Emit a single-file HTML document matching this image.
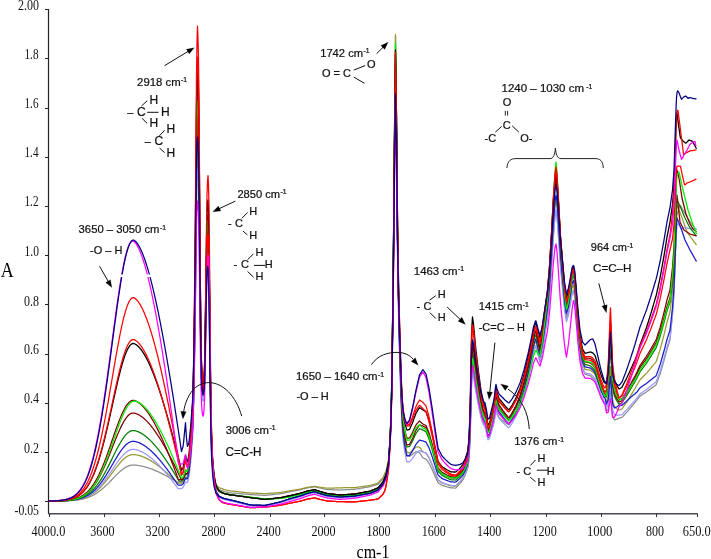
<!DOCTYPE html>
<html><head><meta charset="utf-8"><title>FTIR spectra</title>
<style>html,body{margin:0;padding:0;background:#fff;}svg{display:block;}</style></head>
<body><svg width="711" height="559" viewBox="0 0 711 559">
<rect width="711" height="559" fill="#fff"/>
<g id="curves">
<polyline points="49.0,501.0 49.5,501.0 50.0,501.0 50.5,501.0 51.0,501.0 51.5,501.0 52.0,501.0 52.5,501.0 53.0,501.0 53.5,501.0 54.0,501.0 54.5,501.0 55.0,501.0 55.5,501.0 56.0,501.0 56.5,501.0 57.0,501.0 57.5,500.9 58.0,500.9 58.5,500.9 59.0,500.9 59.5,500.9 60.0,500.9 60.5,500.9 61.0,500.9 61.5,500.9 62.0,500.9 62.5,500.9 63.0,500.9 63.5,500.9 64.0,500.8 64.5,500.8 65.0,500.8 65.5,500.8 66.0,500.8 66.5,500.8 67.0,500.8 67.5,500.7 68.0,500.7 68.5,500.7 69.0,500.7 69.5,500.6 70.0,500.6 70.5,500.6 71.0,500.6 71.5,500.5 72.0,500.5 72.5,500.5 73.0,500.4 73.5,500.4 74.0,500.3 74.5,500.3 75.0,500.2 75.5,500.2 76.0,500.1 76.5,500.1 77.0,500.0 77.5,499.9 78.0,499.9 78.5,499.8 79.0,499.7 79.5,499.6 80.0,499.6 80.5,499.5 81.0,499.4 81.5,499.3 82.0,499.2 82.5,499.1 83.0,499.0 83.5,498.8 84.0,498.7 84.5,498.6 85.0,498.4 85.5,498.3 86.0,498.2 86.5,498.0 87.0,497.8 87.5,497.7 88.0,497.5 88.5,497.3 89.0,497.1 89.5,496.9 90.0,496.7 90.5,496.5 91.0,496.3 91.5,496.0 92.0,495.8 92.5,495.5 93.0,495.3 93.5,495.0 94.0,494.8 94.5,494.5 95.0,494.2 95.5,493.9 96.0,493.6 96.5,493.2 97.0,492.9 97.5,492.6 98.0,492.2 98.5,491.9 99.0,491.5 99.5,491.1 100.0,490.8 100.5,490.4 101.0,490.0 101.5,489.6 102.0,489.1 102.5,488.7 103.0,488.3 103.5,487.8 104.0,487.4 104.5,486.9 105.0,486.5 105.5,486.0 106.0,485.5 106.5,485.1 107.0,484.6 107.5,484.1 108.0,483.6 108.5,483.1 109.0,482.6 109.5,482.1 110.0,481.5 110.5,481.0 111.0,480.5 111.5,480.0 112.0,479.5 112.5,479.0 113.0,478.4 113.5,477.9 114.0,477.4 114.5,476.9 115.0,476.4 115.5,475.9 116.0,475.4 116.5,474.9 117.0,474.4 117.5,473.9 118.0,473.4 118.5,472.9 119.0,472.4 119.5,472.0 120.0,471.5 120.5,471.1 121.0,470.7 121.5,470.3 122.0,469.9 122.5,469.5 123.0,469.1 123.5,468.7 124.0,468.4 124.5,468.0 125.0,467.7 125.5,467.4 126.0,467.1 126.5,466.8 127.0,466.6 127.5,466.3 128.0,466.1 128.5,465.9 129.0,465.7 129.5,465.6 130.0,465.4 130.5,465.3 131.0,465.2 131.5,465.1 132.0,465.1 132.5,465.0 133.0,465.0 133.5,465.0 134.0,465.0 134.5,465.0 135.0,465.1 135.5,465.1 136.0,465.2 136.5,465.2 137.0,465.3 137.5,465.3 138.0,465.4 138.5,465.5 139.0,465.6 139.5,465.7 140.0,465.8 140.5,465.9 141.0,466.0 141.5,466.1 142.0,466.2 142.5,466.3 143.0,466.4 143.5,466.5 144.0,466.7 144.5,466.8 145.0,466.9 145.5,467.1 146.0,467.2 146.5,467.4 147.0,467.5 147.5,467.7 148.0,467.8 148.5,468.0 149.0,468.1 149.5,468.3 150.0,468.5 150.5,468.7 151.0,468.9 151.5,469.0 152.0,469.2 152.5,469.4 153.0,469.6 153.5,469.8 154.0,470.0 154.5,470.2 155.0,470.4 155.5,470.6 156.0,470.9 156.5,471.1 157.0,471.3 157.5,471.5 158.0,471.7 158.5,472.0 159.0,472.2 159.5,472.4 160.0,472.7 160.5,472.9 161.0,473.2 161.5,473.4 162.0,473.7 162.5,473.9 163.0,474.2 163.5,474.4 164.0,474.7 164.5,474.9 165.0,475.2 165.5,475.5 166.0,475.7 166.5,476.0 167.0,476.3 167.5,476.5 168.0,476.8 168.5,477.1 169.0,477.4 169.5,477.6 170.0,477.9 170.5,478.2 171.0,478.5 171.5,478.8 172.0,479.1 172.5,479.4 173.0,479.6 173.5,479.9 174.0,480.2 174.5,480.5 175.0,480.8 175.5,481.1 176.0,481.4 176.5,481.7 177.0,482.0 177.5,482.0 178.0,482.0 178.5,482.0 179.0,482.0 179.5,482.0 180.0,482.0 180.5,482.0 181.0,482.0 181.5,482.0 182.0,481.9 182.5,481.7 183.0,481.6 183.5,481.0 184.0,480.2 184.5,479.4 185.0,478.7 185.5,478.0 186.0,477.5 186.5,477.4 187.0,476.8 187.5,476.2 188.0,474.2 188.5,471.9 189.0,469.4 189.5,465.5 190.0,461.3 190.5,456.9 191.0,451.2 191.5,445.0 192.0,438.5 192.5,431.6 193.0,421.0 193.5,404.5 194.0,383.3 194.5,355.1 195.0,321.2 195.5,283.1 196.0,239.1 196.5,194.5 197.0,168.9 197.5,154.0 198.0,158.5 198.5,167.9 199.0,199.6 199.5,243.5 200.0,290.3 200.5,333.2 201.0,361.7 201.5,381.9 202.0,389.9 202.5,395.4 203.0,397.0 203.5,396.2 204.0,391.7 204.5,383.8 205.0,361.9 205.5,336.9 206.0,307.2 206.5,281.4 207.0,260.9 207.5,253.0 208.0,255.7 208.5,269.4 209.0,291.3 209.5,330.3 210.0,368.8 210.5,406.7 211.0,430.0 211.5,449.3 212.0,458.4 212.5,467.4 213.0,472.3 213.5,476.2 214.0,480.0 214.5,481.6 215.0,483.2 215.5,484.8 216.0,486.4 216.5,486.9 217.0,487.5 217.5,488.0 218.0,488.5 218.5,489.1 219.0,489.6 219.5,489.8 220.0,490.0 220.5,490.1 221.0,490.3 221.5,490.5 222.0,490.7 222.5,490.9 223.0,491.1 223.5,491.3 224.0,491.5 224.5,491.6 225.0,491.7 225.5,491.8 226.0,492.0 226.5,492.1 227.0,492.2 227.5,492.3 228.0,492.4 228.5,492.5 229.0,492.6 229.5,492.8 230.0,492.9 230.5,492.9 231.0,492.9 231.5,492.9 232.0,493.0 232.5,493.0 233.0,493.0 233.5,493.1 234.0,493.1 234.5,493.1 235.0,493.1 235.5,493.2 236.0,493.2 236.5,493.3 237.0,493.3 237.5,493.4 238.0,493.4 238.5,493.5 239.0,493.5 239.5,493.6 240.0,493.6 240.5,493.6 241.0,493.7 241.5,493.7 242.0,493.8 242.5,493.8 243.0,493.9 243.5,493.9 244.0,494.0 244.5,494.0 245.0,494.0 245.5,494.1 246.0,494.1 246.5,494.2 247.0,494.2 247.5,494.3 248.0,494.3 248.5,494.4 249.0,494.4 249.5,494.5 250.0,494.5 250.5,494.5 251.0,494.6 251.5,494.6 252.0,494.6 252.5,494.6 253.0,494.7 253.5,494.7 254.0,494.7 254.5,494.8 255.0,494.8 255.5,494.8 256.0,494.9 256.5,494.9 257.0,494.9 257.5,494.9 258.0,495.0 258.5,495.0 259.0,495.0 259.5,495.1 260.0,495.1 260.5,495.1 261.0,495.2 261.5,495.2 262.0,495.2 262.5,495.2 263.0,495.3 263.5,495.3 264.0,495.3 264.5,495.4 265.0,495.4 265.5,495.3 266.0,495.3 266.5,495.2 267.0,495.2 267.5,495.1 268.0,495.1 268.5,495.0 269.0,495.0 269.5,494.9 270.0,494.9 270.5,494.8 271.0,494.8 271.5,494.7 272.0,494.7 272.5,494.6 273.0,494.5 273.5,494.5 274.0,494.4 274.5,494.4 275.0,494.3 275.5,494.3 276.0,494.2 276.5,494.2 277.0,494.1 277.5,494.1 278.0,494.0 278.5,494.0 279.0,493.9 279.5,493.9 280.0,493.8 280.5,493.7 281.0,493.6 281.5,493.5 282.0,493.4 282.5,493.3 283.0,493.2 283.5,493.1 284.0,493.0 284.5,492.9 285.0,492.8 285.5,492.6 286.0,492.5 286.5,492.4 287.0,492.3 287.5,492.2 288.0,492.1 288.5,492.0 289.0,491.9 289.5,491.8 290.0,491.7 290.5,491.6 291.0,491.5 291.5,491.4 292.0,491.3 292.5,491.2 293.0,491.1 293.5,491.0 294.0,491.0 294.5,490.9 295.0,490.8 295.5,490.7 296.0,490.6 296.5,490.5 297.0,490.4 297.5,490.3 298.0,490.2 298.5,490.1 299.0,490.0 299.5,489.9 300.0,489.8 300.5,489.7 301.0,489.6 301.5,489.4 302.0,489.3 302.5,489.1 303.0,489.0 303.5,488.9 304.0,488.7 304.5,488.6 305.0,488.5 305.5,488.3 306.0,488.2 306.5,488.1 307.0,487.9 307.5,487.8 308.0,487.8 308.5,487.7 309.0,487.6 309.5,487.5 310.0,487.4 310.5,487.4 311.0,487.3 311.5,487.2 312.0,487.1 312.5,487.0 313.0,487.0 313.5,486.9 314.0,486.8 314.5,486.7 315.0,486.8 315.5,486.9 316.0,487.1 316.5,487.2 317.0,487.3 317.5,487.4 318.0,487.5 318.5,487.7 319.0,487.8 319.5,487.9 320.0,488.0 320.5,488.1 321.0,488.2 321.5,488.4 322.0,488.5 322.5,488.6 323.0,488.7 323.5,488.8 324.0,488.9 324.5,489.0 325.0,489.1 325.5,489.2 326.0,489.3 326.5,489.4 327.0,489.5 327.5,489.5 328.0,489.5 328.5,489.6 329.0,489.6 329.5,489.6 330.0,489.6 330.5,489.6 331.0,489.7 331.5,489.7 332.0,489.7 332.5,489.7 333.0,489.7 333.5,489.8 334.0,489.8 334.5,489.8 335.0,489.8 335.5,489.8 336.0,489.8 336.5,489.9 337.0,489.9 337.5,489.9 338.0,489.9 338.5,489.9 339.0,490.0 339.5,490.0 340.0,490.0 340.5,490.0 341.0,489.9 341.5,489.9 342.0,489.9 342.5,489.9 343.0,489.9 343.5,489.8 344.0,489.8 344.5,489.8 345.0,489.8 345.5,489.7 346.0,489.7 346.5,489.7 347.0,489.7 347.5,489.6 348.0,489.6 348.5,489.6 349.0,489.5 349.5,489.5 350.0,489.5 350.5,489.5 351.0,489.4 351.5,489.4 352.0,489.4 352.5,489.4 353.0,489.3 353.5,489.3 354.0,489.3 354.5,489.3 355.0,489.2 355.5,489.2 356.0,489.1 356.5,489.0 357.0,488.9 357.5,488.8 358.0,488.7 358.5,488.7 359.0,488.6 359.5,488.5 360.0,488.4 360.5,488.3 361.0,488.2 361.5,488.1 362.0,488.1 362.5,488.0 363.0,487.9 363.5,487.8 364.0,487.7 364.5,487.6 365.0,487.6 365.5,487.5 366.0,487.4 366.5,487.3 367.0,487.2 367.5,487.1 368.0,487.0 368.5,487.0 369.0,486.9 369.5,486.8 370.0,486.7 370.5,486.6 371.0,486.4 371.5,486.2 372.0,486.1 372.5,485.9 373.0,485.8 373.5,485.7 374.0,485.5 374.5,485.3 375.0,485.2 375.5,485.1 376.0,484.9 376.5,484.8 377.0,484.6 377.5,484.4 378.0,484.3 378.5,483.8 379.0,483.2 379.5,482.6 380.0,482.1 380.5,481.6 381.0,481.0 381.5,480.4 382.0,479.9 382.5,479.4 383.0,478.8 383.5,477.7 384.0,476.6 384.5,475.4 385.0,474.3 385.5,473.4 386.0,472.4 386.5,470.1 387.0,467.8 387.5,465.5 388.0,463.2 388.5,460.8 389.0,453.6 389.5,446.3 390.0,438.9 390.5,427.8 391.0,411.0 391.5,394.1 392.0,362.5 392.5,326.6 393.0,284.8 393.5,238.9 394.0,185.7 394.5,127.3 395.0,80.4 395.5,36.0 396.0,77.2 396.5,117.0 397.0,173.6 397.5,228.1 398.0,262.2 398.5,295.1 399.0,318.4 399.5,338.7 400.0,357.7 400.5,374.9 401.0,390.6 401.5,404.3 402.0,415.3 402.5,422.8 403.0,430.0 403.5,434.3 404.0,438.4 404.5,442.3 405.0,445.2 405.5,448.0 406.0,450.7 406.5,453.4 407.0,455.1 407.5,455.3 408.0,455.6 408.5,455.8 409.0,456.1 409.5,456.4 410.0,456.0 410.5,455.6 411.0,455.3 411.5,454.9 412.0,454.7 412.5,454.4 413.0,453.9 413.5,453.5 414.0,453.1 414.5,452.7 415.0,452.4 415.5,452.1 416.0,451.9 416.5,451.9 417.0,451.9 417.5,452.0 418.0,452.1 418.5,452.2 419.0,452.4 419.5,452.6 420.0,453.4 420.5,454.1 421.0,454.9 421.5,455.7 422.0,456.5 422.5,457.3 423.0,458.0 423.5,458.2 424.0,458.3 424.5,458.5 425.0,458.7 425.5,458.8 426.0,459.0 426.5,459.7 427.0,460.4 427.5,461.1 428.0,461.8 428.5,462.5 429.0,463.2 429.5,464.2 430.0,465.2 430.5,466.2 431.0,467.2 431.5,468.2 432.0,469.3 432.5,470.4 433.0,471.5 433.5,472.7 434.0,473.8 434.5,474.9 435.0,476.1 435.5,477.2 436.0,478.3 436.5,479.4 437.0,480.5 437.5,481.6 438.0,482.7 438.5,483.0 439.0,483.4 439.5,483.7 440.0,484.0 440.5,484.3 441.0,484.6 441.5,485.0 442.0,485.3 442.5,485.4 443.0,485.6 443.5,485.7 444.0,485.9 444.5,486.1 445.0,486.2 445.5,486.4 446.0,486.5 446.5,486.7 447.0,486.8 447.5,487.0 448.0,487.1 448.5,487.2 449.0,487.3 449.5,487.5 450.0,487.6 450.5,487.7 451.0,487.9 451.5,487.9 452.0,487.9 452.5,487.9 453.0,487.9 453.5,487.9 454.0,488.0 454.5,488.0 455.0,488.0 455.5,488.0 456.0,487.8 456.5,487.3 457.0,486.8 457.5,486.2 458.0,485.7 458.5,485.2 459.0,484.6 459.5,484.1 460.0,483.6 460.5,482.9 461.0,482.3 461.5,481.6 462.0,481.0 462.5,480.3 463.0,479.6 463.5,478.6 464.0,477.6 464.5,476.6 465.0,475.5 465.5,474.4 466.0,473.1 466.5,471.7 467.0,470.3 467.5,468.9 468.0,465.9 468.5,462.9 469.0,457.2 469.5,449.8 470.0,439.7 470.5,423.8 471.0,404.1 471.5,385.6 472.0,376.6 472.5,370.0 473.0,372.1 473.5,374.1 474.0,377.3 474.5,380.7 475.0,384.1 475.5,387.4 476.0,390.2 476.5,393.0 477.0,395.7 477.5,398.5 478.0,401.2 478.5,403.6 479.0,406.0 479.5,408.5 480.0,410.9 480.5,413.3 481.0,415.7 481.5,417.2 482.0,418.7 482.5,420.2 483.0,421.7 483.5,422.9 484.0,423.5 484.5,424.1 485.0,424.6 485.5,426.6 486.0,428.5 486.5,430.5 487.0,433.2 487.5,435.9 488.0,437.9 488.5,437.6 489.0,437.2 489.5,436.8 490.0,435.2 490.5,433.7 491.0,432.1 491.5,430.5 492.0,428.8 492.5,427.2 493.0,425.6 493.5,423.5 494.0,421.4 494.5,419.2 495.0,415.3 495.5,412.1 496.0,410.0 496.5,411.8 497.0,413.6 497.5,414.6 498.0,415.6 498.5,416.6 499.0,417.6 499.5,418.0 500.0,418.4 500.5,418.8 501.0,419.2 501.5,419.6 502.0,420.0 502.5,420.4 503.0,420.8 503.5,421.2 504.0,421.6 504.5,422.0 505.0,422.4 505.5,422.8 506.0,423.1 506.5,423.4 507.0,423.8 507.5,424.1 508.0,424.5 508.5,424.8 509.0,424.7 509.5,424.1 510.0,423.4 510.5,422.7 511.0,422.1 511.5,421.4 512.0,420.7 512.5,419.9 513.0,419.0 513.5,418.2 514.0,417.3 514.5,416.4 515.0,415.6 515.5,414.7 516.0,413.8 516.5,412.8 517.0,411.7 517.5,410.6 518.0,409.5 518.5,408.4 519.0,407.3 519.5,406.3 520.0,405.2 520.5,403.6 521.0,402.1 521.5,400.6 522.0,399.1 522.5,397.6 523.0,396.0 523.5,394.5 524.0,392.9 524.5,391.1 525.0,389.2 525.5,387.4 526.0,385.5 526.5,383.6 527.0,381.7 527.5,379.8 528.0,377.9 528.5,375.7 529.0,373.5 529.5,371.3 530.0,369.1 530.5,366.9 531.0,364.7 531.5,362.2 532.0,359.7 532.5,357.3 533.0,354.8 533.5,352.3 534.0,350.7 534.5,349.1 535.0,347.5 535.5,346.0 536.0,345.9 536.5,348.1 537.0,350.3 537.5,352.4 538.0,354.4 538.5,356.3 539.0,358.2 539.5,360.1 540.0,362.0 540.5,359.8 541.0,357.5 541.5,355.2 542.0,352.9 542.5,350.7 543.0,347.3 543.5,343.9 544.0,340.6 544.5,337.2 545.0,333.7 545.5,330.5 546.0,327.2 546.5,323.9 547.0,320.6 547.5,317.3 548.0,311.9 548.5,306.5 549.0,301.1 549.5,295.7 550.0,288.4 550.5,281.1 551.0,273.8 551.5,266.4 552.0,258.3 552.5,250.1 553.0,241.9 553.5,234.5 554.0,228.4 554.5,222.3 555.0,216.1 555.5,213.1 556.0,210.0 556.5,212.9 557.0,215.7 557.5,222.4 558.0,229.0 558.5,235.6 559.0,243.0 559.5,250.3 560.0,257.6 560.5,264.9 561.0,270.1 561.5,275.2 562.0,280.4 562.5,285.5 563.0,290.7 563.5,295.8 564.0,300.9 564.5,306.0 565.0,309.2 565.5,312.3 566.0,315.5 566.5,317.7 567.0,316.3 567.5,314.9 568.0,313.5 568.5,312.1 569.0,309.5 569.5,306.9 570.0,304.3 570.5,301.7 571.0,298.9 571.5,296.0 572.0,293.2 572.5,292.0 573.0,290.9 573.5,290.5 574.0,293.2 574.5,295.9 575.0,300.8 575.5,306.3 576.0,311.8 576.5,318.0 577.0,324.2 577.5,330.3 578.0,336.4 578.5,341.3 579.0,346.3 579.5,351.2 580.0,356.0 580.5,358.6 581.0,361.2 581.5,363.8 582.0,366.4 582.5,369.0 583.0,370.0 583.5,371.1 584.0,372.1 584.5,373.2 585.0,374.2 585.5,374.3 586.0,374.5 586.5,374.6 587.0,374.8 587.5,374.9 588.0,375.1 588.5,375.2 589.0,375.4 589.5,375.6 590.0,375.8 590.5,375.9 591.0,376.4 591.5,376.8 592.0,377.3 592.5,377.7 593.0,378.2 593.5,378.8 594.0,379.3 594.5,379.9 595.0,380.4 595.5,381.7 596.0,383.1 596.5,384.4 597.0,385.8 597.5,387.1 598.0,388.5 598.5,389.9 599.0,391.2 599.5,392.6 600.0,394.1 600.5,395.5 601.0,396.9 601.5,397.9 602.0,399.0 602.5,400.0 603.0,401.1 603.5,402.2 604.0,403.2 604.5,403.6 605.0,404.0 605.5,406.4 606.0,408.9 606.5,411.3 607.0,410.5 607.5,409.9 608.0,409.3 608.5,407.0 609.0,402.1 609.5,397.5 610.0,393.2 610.5,391.2 611.0,397.0 611.5,403.0 612.0,409.0 612.5,415.1 613.0,417.0 613.5,417.9 614.0,418.9 614.5,419.8 615.0,419.7 615.5,419.6 616.0,419.4 616.5,419.3 617.0,419.2 617.5,418.9 618.0,418.6 618.5,418.3 619.0,418.0 619.5,418.0 620.0,417.9 620.5,417.8 621.0,417.7 621.5,417.6 622.0,417.5 622.5,416.9 623.0,416.4 623.5,415.8 624.0,415.3 624.5,414.7 625.0,414.2 625.5,413.6 626.0,413.1 626.5,412.6 627.0,412.0 627.5,411.4 628.0,410.8 628.5,410.2 629.0,409.6 629.5,409.0 630.0,408.4 630.5,407.8 631.0,407.2 631.5,406.6 632.0,406.0 632.5,405.4 633.0,404.8 633.5,404.3 634.0,403.7 634.5,403.1 635.0,402.5 635.5,401.9 636.0,401.2 636.5,400.6 637.0,400.0 637.5,399.3 638.0,398.7 638.5,398.0 639.0,397.4 639.5,396.8 640.0,396.2 640.5,395.8 641.0,395.4 641.5,395.1 642.0,394.8 642.5,394.4 643.0,394.1 643.5,393.8 644.0,393.5 644.5,393.2 645.0,392.9 645.5,392.6 646.0,392.3 646.5,392.0 647.0,391.6 647.5,391.2 648.0,390.8 648.5,390.4 649.0,390.1 649.5,389.7 650.0,389.3 650.5,389.0 651.0,388.6 651.5,388.2 652.0,387.8 652.5,387.4 653.0,387.1 653.5,386.7 654.0,386.4 654.5,386.0 655.0,385.7 655.5,385.3 656.0,385.0 656.5,383.8 657.0,382.4 657.5,381.1 658.0,379.7 658.5,378.3 659.0,376.9 659.5,375.6 660.0,374.2 660.5,372.5 661.0,370.8 661.5,369.1 662.0,367.5 662.5,365.8 663.0,364.1 663.5,362.4 664.0,360.7 664.5,358.9 665.0,357.0 665.5,355.1 666.0,353.2 666.5,351.3 667.0,349.4 667.5,347.9 668.0,346.3 668.5,344.7 669.0,343.2 669.5,341.6 670.0,340.0 670.5,334.8 671.0,329.6 671.5,324.3 672.0,318.9 672.5,313.5 673.0,306.0 673.5,298.4 674.0,290.6 674.5,277.1 675.0,263.2 675.5,249.1 676.0,234.9 676.5,223.0 677.0,215.0 677.5,213.3 678.0,211.7 678.5,210.0 679.0,208.3 679.5,206.7 680.0,205.0 680.5,205.8 681.0,206.7 681.5,207.5 682.0,208.3 682.5,209.2 683.0,210.0 683.5,210.9 684.0,211.7 684.5,212.6 685.0,213.4 685.5,214.3 686.0,215.1 686.5,216.0 687.0,216.9 687.5,217.7 688.0,218.6 688.5,219.4 689.0,220.3 689.5,221.1 690.0,222.0 690.5,222.6 691.0,223.2 691.5,223.8 692.0,224.5 692.5,225.1 693.0,225.7 693.5,226.3 694.0,226.9 694.5,227.5 695.0,228.2 695.5,228.8 696.0,229.4 696.5,230.0" fill="none" stroke="#8c8c8c" stroke-width="1.25" stroke-linejoin="round"/>
<polyline points="49.0,501.0 49.5,501.0 50.0,501.0 50.5,501.0 51.0,501.0 51.5,501.0 52.0,501.0 52.5,501.0 53.0,501.0 53.5,501.0 54.0,501.0 54.5,501.0 55.0,501.0 55.5,501.0 56.0,500.9 56.5,500.9 57.0,500.9 57.5,500.9 58.0,500.9 58.5,500.9 59.0,500.9 59.5,500.9 60.0,500.9 60.5,500.9 61.0,500.9 61.5,500.9 62.0,500.9 62.5,500.8 63.0,500.8 63.5,500.8 64.0,500.8 64.5,500.8 65.0,500.8 65.5,500.7 66.0,500.7 66.5,500.7 67.0,500.7 67.5,500.7 68.0,500.6 68.5,500.6 69.0,500.6 69.5,500.5 70.0,500.5 70.5,500.5 71.0,500.4 71.5,500.4 72.0,500.3 72.5,500.3 73.0,500.2 73.5,500.2 74.0,500.1 74.5,500.1 75.0,500.0 75.5,499.9 76.0,499.9 76.5,499.8 77.0,499.7 77.5,499.6 78.0,499.5 78.5,499.5 79.0,499.4 79.5,499.3 80.0,499.1 80.5,499.0 81.0,498.9 81.5,498.8 82.0,498.6 82.5,498.5 83.0,498.4 83.5,498.2 84.0,498.0 84.5,497.9 85.0,497.7 85.5,497.5 86.0,497.3 86.5,497.1 87.0,496.9 87.5,496.7 88.0,496.5 88.5,496.2 89.0,496.0 89.5,495.7 90.0,495.5 90.5,495.2 91.0,494.9 91.5,494.6 92.0,494.3 92.5,494.0 93.0,493.6 93.5,493.3 94.0,492.9 94.5,492.6 95.0,492.2 95.5,491.8 96.0,491.4 96.5,491.0 97.0,490.6 97.5,490.1 98.0,489.7 98.5,489.2 99.0,488.7 99.5,488.3 100.0,487.8 100.5,487.3 101.0,486.8 101.5,486.2 102.0,485.7 102.5,485.1 103.0,484.6 103.5,484.0 104.0,483.4 104.5,482.8 105.0,482.2 105.5,481.6 106.0,481.0 106.5,480.4 107.0,479.8 107.5,479.1 108.0,478.5 108.5,477.8 109.0,477.2 109.5,476.5 110.0,475.9 110.5,475.2 111.0,474.5 111.5,473.9 112.0,473.2 112.5,472.5 113.0,471.9 113.5,471.2 114.0,470.5 114.5,469.9 115.0,469.2 115.5,468.5 116.0,467.9 116.5,467.2 117.0,466.6 117.5,466.0 118.0,465.3 118.5,464.7 119.0,464.1 119.5,463.5 120.0,463.0 120.5,462.4 121.0,461.8 121.5,461.3 122.0,460.8 122.5,460.3 123.0,459.8 123.5,459.3 124.0,458.8 124.5,458.4 125.0,458.0 125.5,457.6 126.0,457.2 126.5,456.9 127.0,456.5 127.5,456.2 128.0,456.0 128.5,455.7 129.0,455.5 129.5,455.3 130.0,455.1 130.5,454.9 131.0,454.8 131.5,454.7 132.0,454.6 132.5,454.5 133.0,454.5 133.5,454.5 134.0,454.5 134.5,454.6 135.0,454.6 135.5,454.7 136.0,454.8 136.5,454.9 137.0,455.0 137.5,455.1 138.0,455.2 138.5,455.3 139.0,455.5 139.5,455.6 140.0,455.7 140.5,455.9 141.0,456.1 141.5,456.2 142.0,456.4 142.5,456.6 143.0,456.8 143.5,457.0 144.0,457.2 144.5,457.4 145.0,457.7 145.5,457.9 146.0,458.1 146.5,458.4 147.0,458.6 147.5,458.9 148.0,459.1 148.5,459.4 149.0,459.7 149.5,460.0 150.0,460.2 150.5,460.5 151.0,460.8 151.5,461.1 152.0,461.5 152.5,461.8 153.0,462.1 153.5,462.4 154.0,462.8 154.5,463.1 155.0,463.4 155.5,463.8 156.0,464.1 156.5,464.5 157.0,464.9 157.5,465.2 158.0,465.6 158.5,466.0 159.0,466.4 159.5,466.7 160.0,467.1 160.5,467.5 161.0,467.9 161.5,468.3 162.0,468.7 162.5,469.2 163.0,469.6 163.5,470.0 164.0,470.4 164.5,470.8 165.0,471.3 165.5,471.7 166.0,472.2 166.5,472.6 167.0,473.0 167.5,473.5 168.0,473.9 168.5,474.4 169.0,474.9 169.5,475.3 170.0,475.8 170.5,476.2 171.0,476.7 171.5,477.2 172.0,477.7 172.5,478.1 173.0,478.6 173.5,479.1 174.0,479.6 174.5,480.1 175.0,480.5 175.5,481.0 176.0,481.5 176.5,482.0 177.0,482.5 177.5,483.0 178.0,483.0 178.5,483.0 179.0,483.0 179.5,483.0 180.0,483.0 180.5,483.0 181.0,483.0 181.5,483.0 182.0,482.5 182.5,481.9 183.0,481.4 183.5,480.4 184.0,479.1 184.5,477.8 185.0,476.4 185.5,475.0 186.0,474.6 186.5,474.6 187.0,474.1 187.5,473.5 188.0,471.6 188.5,469.2 189.0,466.8 189.5,462.8 190.0,458.7 190.5,454.2 191.0,448.4 191.5,442.3 192.0,435.7 192.5,428.7 193.0,418.0 193.5,401.4 194.0,380.1 194.5,351.8 195.0,317.6 195.5,279.4 196.0,235.2 196.5,190.4 197.0,164.8 197.5,150.0 198.0,155.2 198.5,165.4 199.0,197.9 199.5,242.3 200.0,289.4 200.5,332.5 201.0,361.0 201.5,381.3 202.0,389.5 202.5,395.1 203.0,396.9 203.5,396.2 204.0,391.5 204.5,383.4 205.0,361.5 205.5,336.4 206.0,306.6 206.5,280.4 207.0,259.5 207.5,251.1 208.0,253.7 208.5,267.4 209.0,289.3 209.5,328.3 210.0,366.8 210.5,404.7 211.0,428.0 211.5,447.3 212.0,456.4 212.5,465.4 213.0,470.3 213.5,474.2 214.0,478.0 214.5,479.6 215.0,481.2 215.5,482.8 216.0,484.4 216.5,484.9 217.0,485.5 217.5,486.0 218.0,486.5 218.5,487.1 219.0,487.6 219.5,487.8 220.0,488.0 220.5,488.1 221.0,488.3 221.5,488.5 222.0,488.7 222.5,488.9 223.0,489.1 223.5,489.3 224.0,489.5 224.5,489.6 225.0,489.7 225.5,489.8 226.0,490.0 226.5,490.1 227.0,490.2 227.5,490.3 228.0,490.4 228.5,490.5 229.0,490.6 229.5,490.8 230.0,490.9 230.5,490.9 231.0,490.9 231.5,491.0 232.0,491.0 232.5,491.1 233.0,491.1 233.5,491.2 234.0,491.2 234.5,491.2 235.0,491.3 235.5,491.3 236.0,491.4 236.5,491.4 237.0,491.5 237.5,491.6 238.0,491.6 238.5,491.7 239.0,491.7 239.5,491.8 240.0,491.9 240.5,491.9 241.0,492.0 241.5,492.0 242.0,492.1 242.5,492.1 243.0,492.2 243.5,492.3 244.0,492.3 244.5,492.4 245.0,492.4 245.5,492.5 246.0,492.5 246.5,492.6 247.0,492.7 247.5,492.7 248.0,492.8 248.5,492.8 249.0,492.9 249.5,492.9 250.0,493.0 250.5,493.0 251.0,493.0 251.5,493.1 252.0,493.1 252.5,493.1 253.0,493.1 253.5,493.1 254.0,493.2 254.5,493.2 255.0,493.2 255.5,493.2 256.0,493.2 256.5,493.3 257.0,493.3 257.5,493.3 258.0,493.3 258.5,493.3 259.0,493.4 259.5,493.4 260.0,493.4 260.5,493.4 261.0,493.4 261.5,493.5 262.0,493.5 262.5,493.5 263.0,493.5 263.5,493.5 264.0,493.6 264.5,493.6 265.0,493.6 265.5,493.6 266.0,493.5 266.5,493.5 267.0,493.5 267.5,493.4 268.0,493.4 268.5,493.4 269.0,493.3 269.5,493.3 270.0,493.2 270.5,493.2 271.0,493.2 271.5,493.1 272.0,493.1 272.5,493.1 273.0,493.0 273.5,493.0 274.0,493.0 274.5,492.9 275.0,492.9 275.5,492.9 276.0,492.8 276.5,492.8 277.0,492.8 277.5,492.7 278.0,492.7 278.5,492.6 279.0,492.6 279.5,492.6 280.0,492.5 280.5,492.5 281.0,492.4 281.5,492.3 282.0,492.2 282.5,492.1 283.0,492.0 283.5,491.9 284.0,491.8 284.5,491.8 285.0,491.7 285.5,491.6 286.0,491.5 286.5,491.4 287.0,491.3 287.5,491.2 288.0,491.1 288.5,491.1 289.0,491.0 289.5,490.9 290.0,490.8 290.5,490.7 291.0,490.6 291.5,490.6 292.0,490.5 292.5,490.4 293.0,490.3 293.5,490.2 294.0,490.1 294.5,490.1 295.0,490.0 295.5,489.9 296.0,489.8 296.5,489.7 297.0,489.6 297.5,489.6 298.0,489.5 298.5,489.4 299.0,489.3 299.5,489.2 300.0,489.1 300.5,489.0 301.0,488.9 301.5,488.8 302.0,488.6 302.5,488.5 303.0,488.4 303.5,488.3 304.0,488.1 304.5,488.0 305.0,487.9 305.5,487.8 306.0,487.6 306.5,487.5 307.0,487.4 307.5,487.3 308.0,487.2 308.5,487.2 309.0,487.1 309.5,487.0 310.0,487.0 310.5,486.9 311.0,486.8 311.5,486.7 312.0,486.7 312.5,486.6 313.0,486.5 313.5,486.5 314.0,486.4 314.5,486.3 315.0,486.3 315.5,486.4 316.0,486.5 316.5,486.6 317.0,486.7 317.5,486.8 318.0,486.9 318.5,487.0 319.0,487.0 319.5,487.1 320.0,487.2 320.5,487.3 321.0,487.4 321.5,487.4 322.0,487.5 322.5,487.6 323.0,487.6 323.5,487.7 324.0,487.8 324.5,487.9 325.0,487.9 325.5,488.0 326.0,488.1 326.5,488.1 327.0,488.2 327.5,488.2 328.0,488.2 328.5,488.2 329.0,488.1 329.5,488.1 330.0,488.1 330.5,488.1 331.0,488.1 331.5,488.1 332.0,488.0 332.5,488.0 333.0,488.0 333.5,488.0 334.0,488.0 334.5,488.0 335.0,488.0 335.5,487.9 336.0,487.9 336.5,487.9 337.0,487.9 337.5,487.9 338.0,487.9 338.5,487.8 339.0,487.8 339.5,487.8 340.0,487.8 340.5,487.8 341.0,487.8 341.5,487.8 342.0,487.8 342.5,487.8 343.0,487.8 343.5,487.7 344.0,487.7 344.5,487.7 345.0,487.7 345.5,487.7 346.0,487.7 346.5,487.7 347.0,487.7 347.5,487.7 348.0,487.7 348.5,487.7 349.0,487.6 349.5,487.6 350.0,487.6 350.5,487.6 351.0,487.6 351.5,487.6 352.0,487.6 352.5,487.6 353.0,487.6 353.5,487.6 354.0,487.6 354.5,487.6 355.0,487.6 355.5,487.5 356.0,487.4 356.5,487.3 357.0,487.3 357.5,487.2 358.0,487.1 358.5,487.1 359.0,487.0 359.5,486.9 360.0,486.9 360.5,486.8 361.0,486.7 361.5,486.7 362.0,486.6 362.5,486.5 363.0,486.5 363.5,486.4 364.0,486.3 364.5,486.3 365.0,486.2 365.5,486.1 366.0,486.0 366.5,486.0 367.0,485.9 367.5,485.8 368.0,485.8 368.5,485.7 369.0,485.6 369.5,485.6 370.0,485.5 370.5,485.3 371.0,485.2 371.5,485.0 372.0,484.9 372.5,484.7 373.0,484.6 373.5,484.4 374.0,484.3 374.5,484.1 375.0,484.0 375.5,483.8 376.0,483.7 376.5,483.5 377.0,483.4 377.5,483.2 378.0,483.0 378.5,482.5 379.0,481.9 379.5,481.4 380.0,480.8 380.5,480.3 381.0,479.7 381.5,479.2 382.0,478.6 382.5,478.1 383.0,477.5 383.5,476.4 384.0,475.3 384.5,474.2 385.0,473.0 385.5,472.2 386.0,471.3 386.5,469.1 387.0,466.9 387.5,464.7 388.0,462.4 388.5,460.1 389.0,453.0 389.5,445.7 390.0,438.4 390.5,427.4 391.0,410.7 391.5,393.8 392.0,362.2 392.5,326.2 393.0,284.3 393.5,238.2 394.0,184.8 394.5,126.2 395.0,79.1 395.5,34.5 396.0,75.2 396.5,114.6 397.0,171.0 397.5,225.5 398.0,259.6 398.5,292.4 399.0,315.6 399.5,336.0 400.0,354.9 400.5,372.2 401.0,387.9 401.5,401.7 402.0,412.8 402.5,420.3 403.0,427.6 403.5,431.7 404.0,435.8 404.5,439.7 405.0,442.5 405.5,445.2 406.0,447.9 406.5,450.5 407.0,452.1 407.5,452.3 408.0,452.5 408.5,452.7 409.0,452.9 409.5,453.1 410.0,452.6 410.5,452.2 411.0,451.7 411.5,451.3 412.0,450.9 412.5,450.6 413.0,450.0 413.5,449.4 414.0,448.9 414.5,448.4 415.0,447.9 415.5,447.5 416.0,447.2 416.5,447.0 417.0,446.9 417.5,446.9 418.0,446.9 418.5,446.9 419.0,447.0 419.5,447.0 420.0,447.7 420.5,448.4 421.0,449.2 421.5,449.9 422.0,450.6 422.5,451.4 423.0,452.0 423.5,452.2 424.0,452.4 424.5,452.5 425.0,452.7 425.5,452.9 426.0,453.1 426.5,453.9 427.0,454.6 427.5,455.4 428.0,456.2 428.5,457.0 429.0,457.8 429.5,459.0 430.0,460.1 430.5,461.2 431.0,462.4 431.5,463.5 432.0,464.7 432.5,466.0 433.0,467.3 433.5,468.6 434.0,469.9 434.5,471.2 435.0,472.5 435.5,473.7 436.0,475.0 436.5,476.2 437.0,477.5 437.5,478.8 438.0,480.1 438.5,480.4 439.0,480.8 439.5,481.1 440.0,481.5 440.5,481.9 441.0,482.2 441.5,482.6 442.0,483.0 442.5,483.1 443.0,483.3 443.5,483.5 444.0,483.6 444.5,483.8 445.0,484.0 445.5,484.2 446.0,484.3 446.5,484.5 447.0,484.7 447.5,484.8 448.0,485.0 448.5,485.1 449.0,485.3 449.5,485.4 450.0,485.6 450.5,485.7 451.0,485.9 451.5,485.9 452.0,485.9 452.5,485.9 453.0,485.9 453.5,485.9 454.0,486.0 454.5,486.0 455.0,486.0 455.5,486.0 456.0,485.8 456.5,485.3 457.0,484.8 457.5,484.3 458.0,483.8 458.5,483.3 459.0,482.8 459.5,482.3 460.0,481.7 460.5,481.1 461.0,480.5 461.5,479.8 462.0,479.2 462.5,478.5 463.0,477.9 463.5,476.9 464.0,475.8 464.5,474.8 465.0,473.7 465.5,472.6 466.0,471.3 466.5,469.9 467.0,468.5 467.5,467.1 468.0,464.0 468.5,460.9 469.0,455.0 469.5,447.3 470.0,436.8 470.5,420.4 471.0,399.9 471.5,380.8 472.0,371.7 472.5,365.0 473.0,367.2 473.5,369.3 474.0,372.6 474.5,376.2 475.0,379.7 475.5,383.2 476.0,386.1 476.5,389.0 477.0,391.9 477.5,394.8 478.0,397.6 478.5,400.1 479.0,402.7 479.5,405.2 480.0,407.7 480.5,410.2 481.0,412.7 481.5,414.3 482.0,415.9 482.5,417.5 483.0,419.0 483.5,420.2 484.0,420.9 484.5,421.5 485.0,422.1 485.5,424.2 486.0,426.2 486.5,428.2 487.0,431.0 487.5,433.8 488.0,435.9 488.5,435.4 489.0,435.0 489.5,434.5 490.0,432.8 490.5,431.0 491.0,429.2 491.5,427.5 492.0,425.7 492.5,423.9 493.0,422.1 493.5,419.8 494.0,417.4 494.5,415.1 495.0,410.8 495.5,407.3 496.0,405.0 496.5,407.1 497.0,409.1 497.5,410.3 498.0,411.5 498.5,412.6 499.0,413.8 499.5,414.4 500.0,414.9 500.5,415.5 501.0,416.0 501.5,416.6 502.0,417.1 502.5,417.7 503.0,418.2 503.5,418.8 504.0,419.3 504.5,419.9 505.0,420.4 505.5,420.9 506.0,421.4 506.5,421.8 507.0,422.3 507.5,422.8 508.0,423.2 508.5,423.7 509.0,423.7 509.5,423.0 510.0,422.3 510.5,421.6 511.0,420.9 511.5,420.2 512.0,419.5 512.5,418.6 513.0,417.7 513.5,416.8 514.0,415.9 514.5,415.0 515.0,414.0 515.5,413.1 516.0,412.2 516.5,411.1 517.0,410.0 517.5,408.8 518.0,407.7 518.5,406.5 519.0,405.4 519.5,404.2 520.0,403.1 520.5,401.5 521.0,399.9 521.5,398.4 522.0,396.8 522.5,395.2 523.0,393.6 523.5,391.9 524.0,390.3 524.5,388.4 525.0,386.4 525.5,384.5 526.0,382.5 526.5,380.5 527.0,378.6 527.5,376.6 528.0,374.6 528.5,372.3 529.0,370.0 529.5,367.7 530.0,365.4 530.5,363.0 531.0,360.7 531.5,358.1 532.0,355.6 532.5,353.0 533.0,350.4 533.5,347.7 534.0,346.1 534.5,344.4 535.0,342.7 535.5,341.0 536.0,341.0 536.5,343.6 537.0,346.2 537.5,348.7 538.0,351.0 538.5,353.3 539.0,355.5 539.5,357.8 540.0,360.0 540.5,357.6 541.0,355.2 541.5,352.8 542.0,350.4 542.5,348.0 543.0,344.5 543.5,340.9 544.0,337.4 544.5,333.8 545.0,330.2 545.5,326.8 546.0,323.3 546.5,319.9 547.0,316.4 547.5,312.9 548.0,307.2 548.5,301.6 549.0,295.9 549.5,290.2 550.0,282.6 550.5,275.0 551.0,267.3 551.5,259.6 552.0,251.1 552.5,242.5 553.0,233.9 553.5,226.1 554.0,219.7 554.5,213.2 555.0,206.7 555.5,203.3 556.0,200.0 556.5,203.0 557.0,206.0 557.5,212.9 558.0,219.7 558.5,226.6 559.0,234.2 559.5,241.8 560.0,249.4 560.5,256.9 561.0,262.3 561.5,267.7 562.0,273.0 562.5,278.3 563.0,283.7 563.5,289.0 564.0,294.3 564.5,299.5 565.0,302.8 565.5,306.1 566.0,309.4 566.5,311.7 567.0,310.4 567.5,309.1 568.0,307.8 568.5,306.4 569.0,303.9 569.5,301.3 570.0,298.8 570.5,296.2 571.0,293.4 571.5,290.7 572.0,287.9 572.5,286.8 573.0,285.8 573.5,285.5 574.0,288.2 574.5,290.8 575.0,295.7 575.5,301.3 576.0,306.8 576.5,313.0 577.0,319.3 577.5,325.5 578.0,331.6 578.5,336.6 579.0,341.6 579.5,346.6 580.0,351.5 580.5,354.1 581.0,356.7 581.5,359.3 582.0,361.9 582.5,364.4 583.0,365.4 583.5,366.4 584.0,367.4 584.5,368.4 585.0,369.4 585.5,369.5 586.0,369.5 586.5,369.6 587.0,369.7 587.5,369.7 588.0,369.8 588.5,369.9 589.0,370.0 589.5,370.1 590.0,370.2 590.5,370.3 591.0,370.6 591.5,371.0 592.0,371.4 592.5,371.8 593.0,372.2 593.5,372.7 594.0,373.2 594.5,373.7 595.0,374.2 595.5,375.6 596.0,376.9 596.5,378.2 597.0,379.6 597.5,381.0 598.0,382.3 598.5,383.7 599.0,385.1 599.5,386.6 600.0,388.0 600.5,389.4 601.0,390.9 601.5,391.9 602.0,393.0 602.5,394.0 603.0,395.1 603.5,396.2 604.0,397.3 604.5,397.6 605.0,398.0 605.5,399.4 606.0,400.8 606.5,402.3 607.0,400.2 607.5,398.2 608.0,396.2 608.5,392.1 609.0,384.8 609.5,377.6 610.0,370.5 610.5,366.6 611.0,374.6 611.5,382.6 612.0,390.7 612.5,398.6 613.0,401.6 613.5,403.4 614.0,405.1 614.5,406.8 615.0,407.2 615.5,407.7 616.0,408.1 616.5,408.6 617.0,409.0 617.5,409.3 618.0,409.5 618.5,409.8 619.0,410.0 619.5,409.9 620.0,409.7 620.5,409.5 621.0,409.3 621.5,409.0 622.0,408.8 622.5,408.1 623.0,407.3 623.5,406.6 624.0,405.9 624.5,405.2 625.0,404.4 625.5,403.7 626.0,403.0 626.5,402.3 627.0,401.5 627.5,400.7 628.0,399.9 628.5,399.1 629.0,398.3 629.5,397.5 630.0,396.7 630.5,395.9 631.0,395.0 631.5,394.2 632.0,393.4 632.5,392.6 633.0,391.8 633.5,391.0 634.0,390.2 634.5,389.4 635.0,388.6 635.5,387.7 636.0,386.8 636.5,385.9 637.0,385.0 637.5,384.1 638.0,383.3 638.5,382.4 639.0,381.5 639.5,380.7 640.0,379.9 640.5,379.3 641.0,378.8 641.5,378.3 642.0,377.8 642.5,377.3 643.0,376.8 643.5,376.3 644.0,375.8 644.5,375.3 645.0,374.8 645.5,374.3 646.0,373.8 646.5,373.4 647.0,372.8 647.5,372.1 648.0,371.5 648.5,370.9 649.0,370.3 649.5,369.7 650.0,369.1 650.5,368.6 651.0,368.0 651.5,367.4 652.0,366.7 652.5,366.1 653.0,365.5 653.5,364.9 654.0,364.3 654.5,363.7 655.0,363.1 655.5,362.6 656.0,362.0 656.5,360.7 657.0,359.2 657.5,357.6 658.0,356.1 658.5,354.6 659.0,353.0 659.5,351.5 660.0,349.9 660.5,348.1 661.0,346.2 661.5,344.3 662.0,342.4 662.5,340.5 663.0,338.6 663.5,336.7 664.0,334.8 664.5,332.8 665.0,330.7 665.5,328.6 666.0,326.5 666.5,324.4 667.0,322.3 667.5,320.6 668.0,318.9 668.5,317.2 669.0,315.4 669.5,313.7 670.0,312.0 670.5,308.0 671.0,304.0 671.5,299.9 672.0,295.8 672.5,291.7 673.0,285.4 673.5,279.0 674.0,272.5 674.5,259.9 675.0,247.1 675.5,234.2 676.0,221.3 676.5,211.1 677.0,205.0 677.5,206.2 678.0,207.5 678.5,208.8 679.0,210.0 679.5,211.2 680.0,212.5 680.5,213.8 681.0,215.0 681.5,216.4 682.0,217.8 682.5,219.2 683.0,220.7 683.5,222.1 684.0,223.5 684.5,224.9 685.0,226.3 685.5,227.8 686.0,229.2 686.5,230.6 687.0,232.0 687.5,232.7 688.0,233.4 688.5,234.1 689.0,234.7 689.5,235.4 690.0,236.1 690.5,236.8 691.0,237.5 691.5,238.2 692.0,238.8 692.5,239.5 693.0,240.2 693.5,240.9 694.0,241.6 694.5,242.3 695.0,242.9 695.5,243.6 696.0,244.3 696.5,245.0" fill="none" stroke="#999933" stroke-width="1.25" stroke-linejoin="round"/>
<polyline points="49.0,501.0 49.5,501.0 50.0,501.0 50.5,501.0 51.0,501.0 51.5,501.0 52.0,501.0 52.5,501.0 53.0,501.0 53.5,501.0 54.0,501.0 54.5,501.0 55.0,501.0 55.5,500.9 56.0,500.9 56.5,500.9 57.0,500.9 57.5,500.9 58.0,500.9 58.5,500.9 59.0,500.9 59.5,500.9 60.0,500.9 60.5,500.9 61.0,500.9 61.5,500.9 62.0,500.8 62.5,500.8 63.0,500.8 63.5,500.8 64.0,500.8 64.5,500.8 65.0,500.7 65.5,500.7 66.0,500.7 66.5,500.7 67.0,500.6 67.5,500.6 68.0,500.6 68.5,500.6 69.0,500.5 69.5,500.5 70.0,500.4 70.5,500.4 71.0,500.4 71.5,500.3 72.0,500.3 72.5,500.2 73.0,500.2 73.5,500.1 74.0,500.0 74.5,500.0 75.0,499.9 75.5,499.8 76.0,499.8 76.5,499.7 77.0,499.6 77.5,499.5 78.0,499.4 78.5,499.3 79.0,499.2 79.5,499.1 80.0,498.9 80.5,498.8 81.0,498.7 81.5,498.5 82.0,498.4 82.5,498.2 83.0,498.1 83.5,497.9 84.0,497.7 84.5,497.5 85.0,497.3 85.5,497.1 86.0,496.9 86.5,496.7 87.0,496.5 87.5,496.2 88.0,496.0 88.5,495.7 89.0,495.4 89.5,495.1 90.0,494.8 90.5,494.5 91.0,494.2 91.5,493.9 92.0,493.5 92.5,493.2 93.0,492.8 93.5,492.4 94.0,492.0 94.5,491.6 95.0,491.2 95.5,490.8 96.0,490.3 96.5,489.9 97.0,489.4 97.5,488.9 98.0,488.4 98.5,487.9 99.0,487.4 99.5,486.8 100.0,486.3 100.5,485.7 101.0,485.2 101.5,484.6 102.0,484.0 102.5,483.4 103.0,482.7 103.5,482.1 104.0,481.5 104.5,480.8 105.0,480.1 105.5,479.5 106.0,478.8 106.5,478.1 107.0,477.4 107.5,476.7 108.0,476.0 108.5,475.3 109.0,474.5 109.5,473.8 110.0,473.1 110.5,472.3 111.0,471.6 111.5,470.8 112.0,470.1 112.5,469.3 113.0,468.6 113.5,467.9 114.0,467.1 114.5,466.4 115.0,465.6 115.5,464.9 116.0,464.2 116.5,463.5 117.0,462.7 117.5,462.0 118.0,461.4 118.5,460.7 119.0,460.0 119.5,459.3 120.0,458.7 120.5,458.1 121.0,457.4 121.5,456.9 122.0,456.3 122.5,455.7 123.0,455.2 123.5,454.6 124.0,454.1 124.5,453.6 125.0,453.2 125.5,452.7 126.0,452.3 126.5,451.9 127.0,451.6 127.5,451.2 128.0,450.9 128.5,450.6 129.0,450.4 129.5,450.1 130.0,449.9 130.5,449.8 131.0,449.6 131.5,449.5 132.0,449.4 132.5,449.3 133.0,449.3 133.5,449.3 134.0,449.3 134.5,449.4 135.0,449.5 135.5,449.6 136.0,449.7 136.5,449.8 137.0,449.9 137.5,450.1 138.0,450.2 138.5,450.4 139.0,450.6 139.5,450.8 140.0,451.0 140.5,451.2 141.0,451.4 141.5,451.6 142.0,451.9 142.5,452.1 143.0,452.4 143.5,452.7 144.0,453.0 144.5,453.3 145.0,453.6 145.5,453.9 146.0,454.2 146.5,454.5 147.0,454.9 147.5,455.2 148.0,455.6 148.5,455.9 149.0,456.3 149.5,456.7 150.0,457.1 150.5,457.5 151.0,457.9 151.5,458.3 152.0,458.7 152.5,459.1 153.0,459.5 153.5,460.0 154.0,460.4 154.5,460.9 155.0,461.4 155.5,461.8 156.0,462.3 156.5,462.8 157.0,463.3 157.5,463.8 158.0,464.3 158.5,464.8 159.0,465.3 159.5,465.8 160.0,466.4 160.5,466.9 161.0,467.4 161.5,468.0 162.0,468.5 162.5,469.1 163.0,469.7 163.5,470.2 164.0,470.8 164.5,471.4 165.0,472.0 165.5,472.5 166.0,473.1 166.5,473.7 167.0,474.3 167.5,474.9 168.0,475.6 168.5,476.2 169.0,476.8 169.5,477.4 170.0,478.0 170.5,478.7 171.0,479.3 171.5,479.9 172.0,480.6 172.5,481.2 173.0,481.9 173.5,482.5 174.0,483.2 174.5,483.8 175.0,484.5 175.5,485.2 176.0,485.8 176.5,486.5 177.0,487.2 177.5,487.8 178.0,488.5 178.5,488.5 179.0,488.5 179.5,488.5 180.0,488.5 180.5,488.5 181.0,488.5 181.5,488.5 182.0,488.2 182.5,487.8 183.0,487.5 183.5,486.7 184.0,485.5 184.5,484.3 185.0,483.1 185.5,482.0 186.0,482.1 186.5,482.6 187.0,482.4 187.5,482.0 188.0,480.3 188.5,478.0 189.0,475.6 189.5,471.8 190.0,467.7 190.5,463.4 191.0,457.8 191.5,451.8 192.0,445.4 192.5,438.7 193.0,428.4 193.5,412.2 194.0,391.4 194.5,363.8 195.0,330.7 195.5,293.7 196.0,251.0 196.5,207.9 197.0,183.7 197.5,170.0 198.0,172.5 198.5,180.0 199.0,209.7 199.5,251.9 200.0,297.4 200.5,339.7 201.0,367.6 201.5,387.5 202.0,395.2 202.5,400.2 203.0,401.3 203.5,400.4 204.0,396.4 204.5,388.9 205.0,367.2 205.5,342.6 206.0,313.6 206.5,288.7 207.0,269.4 207.5,262.8 208.0,261.7 208.5,270.7 209.0,288.9 209.5,326.3 210.0,364.9 210.5,404.4 211.0,428.9 211.5,450.0 212.0,459.8 212.5,469.8 213.0,475.2 213.5,479.6 214.0,484.0 214.5,486.3 215.0,488.5 215.5,490.7 216.0,492.8 216.5,493.6 217.0,494.3 217.5,495.0 218.0,495.8 218.5,496.5 219.0,497.2 219.5,497.4 220.0,497.7 220.5,498.0 221.0,498.2 221.5,498.5 222.0,498.7 222.5,498.9 223.0,499.1 223.5,499.3 224.0,499.5 224.5,499.6 225.0,499.7 225.5,499.8 226.0,500.0 226.5,500.1 227.0,500.2 227.5,500.3 228.0,500.4 228.5,500.5 229.0,500.6 229.5,500.8 230.0,500.9 230.5,501.0 231.0,501.1 231.5,501.2 232.0,501.3 232.5,501.4 233.0,501.5 233.5,501.7 234.0,501.8 234.5,501.9 235.0,502.0 235.5,502.1 236.0,502.3 236.5,502.4 237.0,502.5 237.5,502.6 238.0,502.8 238.5,502.9 239.0,503.0 239.5,503.2 240.0,503.3 240.5,503.4 241.0,503.6 241.5,503.7 242.0,503.8 242.5,503.9 243.0,504.1 243.5,504.2 244.0,504.3 244.5,504.5 245.0,504.6 245.5,504.7 246.0,504.9 246.5,505.0 247.0,505.1 247.5,505.2 248.0,505.4 248.5,505.5 249.0,505.6 249.5,505.8 250.0,505.9 250.5,505.9 251.0,505.9 251.5,505.9 252.0,506.0 252.5,506.0 253.0,506.0 253.5,506.0 254.0,506.0 254.5,506.0 255.0,506.1 255.5,506.1 256.0,506.1 256.5,506.1 257.0,506.1 257.5,506.1 258.0,506.2 258.5,506.2 259.0,506.2 259.5,506.2 260.0,506.2 260.5,506.2 261.0,506.3 261.5,506.3 262.0,506.3 262.5,506.3 263.0,506.3 263.5,506.3 264.0,506.4 264.5,506.4 265.0,506.4 265.5,506.3 266.0,506.2 266.5,506.1 267.0,505.9 267.5,505.8 268.0,505.7 268.5,505.6 269.0,505.5 269.5,505.4 270.0,505.3 270.5,505.2 271.0,505.0 271.5,504.9 272.0,504.8 272.5,504.7 273.0,504.6 273.5,504.5 274.0,504.4 274.5,504.2 275.0,504.1 275.5,504.0 276.0,503.9 276.5,503.8 277.0,503.7 277.5,503.6 278.0,503.5 278.5,503.3 279.0,503.2 279.5,503.1 280.0,503.0 280.5,502.8 281.0,502.7 281.5,502.5 282.0,502.3 282.5,502.2 283.0,502.0 283.5,501.8 284.0,501.7 284.5,501.5 285.0,501.4 285.5,501.2 286.0,501.0 286.5,500.9 287.0,500.7 287.5,500.5 288.0,500.4 288.5,500.2 289.0,500.0 289.5,499.9 290.0,499.7 290.5,499.6 291.0,499.4 291.5,499.3 292.0,499.2 292.5,499.0 293.0,498.9 293.5,498.8 294.0,498.6 294.5,498.5 295.0,498.4 295.5,498.2 296.0,498.1 296.5,497.9 297.0,497.8 297.5,497.7 298.0,497.5 298.5,497.4 299.0,497.3 299.5,497.1 300.0,497.0 300.5,496.8 301.0,496.6 301.5,496.5 302.0,496.3 302.5,496.1 303.0,495.9 303.5,495.8 304.0,495.6 304.5,495.4 305.0,495.2 305.5,495.0 306.0,494.9 306.5,494.7 307.0,494.5 307.5,494.4 308.0,494.3 308.5,494.1 309.0,494.0 309.5,493.9 310.0,493.8 310.5,493.6 311.0,493.5 311.5,493.4 312.0,493.3 312.5,493.2 313.0,493.0 313.5,492.9 314.0,492.8 314.5,492.7 315.0,492.9 315.5,493.1 316.0,493.2 316.5,493.4 317.0,493.5 317.5,493.7 318.0,493.9 318.5,494.0 319.0,494.2 319.5,494.3 320.0,494.5 320.5,494.6 321.0,494.8 321.5,494.9 322.0,495.1 322.5,495.2 323.0,495.4 323.5,495.5 324.0,495.6 324.5,495.8 325.0,495.9 325.5,496.1 326.0,496.2 326.5,496.4 327.0,496.5 327.5,496.6 328.0,496.6 328.5,496.7 329.0,496.7 329.5,496.8 330.0,496.8 330.5,496.9 331.0,497.0 331.5,497.0 332.0,497.1 332.5,497.1 333.0,497.2 333.5,497.2 334.0,497.3 334.5,497.4 335.0,497.4 335.5,497.5 336.0,497.5 336.5,497.6 337.0,497.7 337.5,497.7 338.0,497.8 338.5,497.8 339.0,497.9 339.5,497.9 340.0,498.0 340.5,498.0 341.0,497.9 341.5,497.9 342.0,497.9 342.5,497.8 343.0,497.8 343.5,497.8 344.0,497.7 344.5,497.7 345.0,497.7 345.5,497.6 346.0,497.6 346.5,497.6 347.0,497.5 347.5,497.5 348.0,497.5 348.5,497.4 349.0,497.4 349.5,497.4 350.0,497.3 350.5,497.3 351.0,497.3 351.5,497.2 352.0,497.2 352.5,497.2 353.0,497.1 353.5,497.1 354.0,497.1 354.5,497.0 355.0,497.0 355.5,496.9 356.0,496.8 356.5,496.7 357.0,496.6 357.5,496.5 358.0,496.4 358.5,496.3 359.0,496.3 359.5,496.2 360.0,496.1 360.5,496.0 361.0,495.9 361.5,495.8 362.0,495.7 362.5,495.6 363.0,495.5 363.5,495.4 364.0,495.3 364.5,495.2 365.0,495.1 365.5,495.0 366.0,494.9 366.5,494.9 367.0,494.8 367.5,494.7 368.0,494.6 368.5,494.5 369.0,494.4 369.5,494.3 370.0,494.2 370.5,494.0 371.0,493.8 371.5,493.6 372.0,493.4 372.5,493.2 373.0,493.0 373.5,492.8 374.0,492.6 374.5,492.4 375.0,492.2 375.5,492.0 376.0,491.8 376.5,491.6 377.0,491.4 377.5,491.2 378.0,491.0 378.5,490.4 379.0,489.8 379.5,489.2 380.0,488.6 380.5,488.0 381.0,487.4 381.5,486.8 382.0,486.2 382.5,485.6 383.0,485.0 383.5,483.8 384.0,482.7 384.5,481.5 385.0,480.3 385.5,479.1 386.0,477.8 386.5,475.3 387.0,472.7 387.5,470.2 388.0,467.6 388.5,465.1 389.0,457.9 389.5,450.7 390.0,443.5 390.5,432.9 391.0,417.0 391.5,401.1 392.0,371.6 392.5,338.8 393.0,300.9 393.5,259.5 394.0,211.7 394.5,159.7 395.0,118.5 395.5,80.0 396.0,117.8 396.5,154.4 397.0,206.0 397.5,255.5 398.0,286.6 398.5,316.5 399.0,337.6 399.5,356.2 400.0,373.3 400.5,389.0 401.0,403.1 401.5,415.5 402.0,425.4 402.5,432.3 403.0,438.8 403.5,442.7 404.0,446.5 404.5,450.1 405.0,452.8 405.5,455.4 406.0,458.0 406.5,460.5 407.0,462.0 407.5,462.0 408.0,461.9 408.5,461.9 409.0,461.9 409.5,461.9 410.0,461.3 410.5,460.6 411.0,460.1 411.5,459.5 412.0,458.9 412.5,458.4 413.0,457.6 413.5,456.8 414.0,456.1 414.5,455.4 415.0,454.7 415.5,454.0 416.0,453.3 416.5,452.9 417.0,452.4 417.5,452.0 418.0,451.6 418.5,451.2 419.0,450.8 419.5,450.5 420.0,450.7 420.5,450.9 421.0,451.1 421.5,451.3 422.0,451.6 422.5,451.8 423.0,452.0 423.5,452.2 424.0,452.3 424.5,452.5 425.0,452.6 425.5,452.7 426.0,452.9 426.5,453.7 427.0,454.4 427.5,455.2 428.0,456.0 428.5,456.8 429.0,457.6 429.5,458.7 430.0,459.8 430.5,460.9 431.0,462.0 431.5,463.2 432.0,464.3 432.5,465.6 433.0,466.9 433.5,468.2 434.0,469.5 434.5,470.8 435.0,472.1 435.5,473.4 436.0,474.6 436.5,475.9 437.0,477.2 437.5,478.4 438.0,479.7 438.5,480.1 439.0,480.4 439.5,480.8 440.0,481.1 440.5,481.5 441.0,481.9 441.5,482.2 442.0,482.6 442.5,482.8 443.0,482.9 443.5,483.1 444.0,483.3 444.5,483.4 445.0,483.6 445.5,483.8 446.0,483.9 446.5,484.1 447.0,484.3 447.5,484.4 448.0,484.6 448.5,484.7 449.0,484.9 449.5,485.0 450.0,485.1 450.5,485.3 451.0,485.4 451.5,485.4 452.0,485.5 452.5,485.5 453.0,485.5 453.5,485.5 454.0,485.5 454.5,485.5 455.0,485.5 455.5,485.5 456.0,485.3 456.5,484.9 457.0,484.4 457.5,484.0 458.0,483.6 458.5,483.1 459.0,482.7 459.5,482.2 460.0,481.7 460.5,481.2 461.0,480.6 461.5,480.0 462.0,479.5 462.5,478.9 463.0,478.3 463.5,477.4 464.0,476.4 464.5,475.4 465.0,474.5 465.5,473.5 466.0,472.2 466.5,471.0 467.0,469.7 467.5,468.4 468.0,465.4 468.5,462.5 469.0,456.9 469.5,449.6 470.0,439.7 470.5,424.1 471.0,404.7 471.5,386.7 472.0,378.2 472.5,372.0 473.0,374.1 473.5,376.2 474.0,379.3 474.5,382.8 475.0,386.1 475.5,389.5 476.0,392.3 476.5,395.1 477.0,397.8 477.5,400.6 478.0,403.3 478.5,405.7 479.0,408.1 479.5,410.5 480.0,412.9 480.5,415.3 481.0,417.7 481.5,419.3 482.0,420.8 482.5,422.3 483.0,423.8 483.5,425.0 484.0,425.6 484.5,426.2 485.0,426.8 485.5,428.8 486.0,430.7 486.5,432.6 487.0,435.3 487.5,437.9 488.0,439.9 488.5,439.4 489.0,439.0 489.5,438.5 490.0,436.8 490.5,435.1 491.0,433.4 491.5,431.7 492.0,430.0 492.5,428.2 493.0,426.5 493.5,424.3 494.0,422.0 494.5,419.7 495.0,415.6 495.5,412.2 496.0,410.0 496.5,411.9 497.0,413.9 497.5,415.0 498.0,416.1 498.5,417.2 499.0,418.3 499.5,418.9 500.0,419.4 500.5,419.9 501.0,420.4 501.5,421.0 502.0,421.5 502.5,422.0 503.0,422.5 503.5,423.0 504.0,423.6 504.5,424.1 505.0,424.6 505.5,425.0 506.0,425.5 506.5,425.9 507.0,426.4 507.5,426.8 508.0,427.3 508.5,427.7 509.0,427.7 509.5,427.0 510.0,426.3 510.5,425.6 511.0,424.9 511.5,424.2 512.0,423.5 512.5,422.6 513.0,421.7 513.5,420.8 514.0,419.9 514.5,419.0 515.0,418.1 515.5,417.2 516.0,416.3 516.5,415.2 517.0,414.1 517.5,412.9 518.0,411.8 518.5,410.7 519.0,409.6 519.5,408.4 520.0,407.3 520.5,405.7 521.0,404.2 521.5,402.6 522.0,401.0 522.5,399.5 523.0,397.9 523.5,396.3 524.0,394.7 524.5,392.8 525.0,390.9 525.5,389.0 526.0,387.0 526.5,385.1 527.0,383.1 527.5,381.2 528.0,379.2 528.5,377.0 529.0,374.7 529.5,372.4 530.0,370.1 530.5,367.8 531.0,365.5 531.5,363.0 532.0,360.5 532.5,357.9 533.0,355.3 533.5,352.7 534.0,351.1 534.5,349.4 535.0,347.7 535.5,346.0 536.0,345.9 536.5,348.1 537.0,350.3 537.5,352.4 538.0,354.4 538.5,356.3 539.0,358.2 539.5,360.1 540.0,362.0 540.5,359.8 541.0,357.5 541.5,355.2 542.0,352.9 542.5,350.7 543.0,347.3 543.5,343.9 544.0,340.6 544.5,337.2 545.0,333.7 545.5,330.5 546.0,327.2 546.5,323.9 547.0,320.6 547.5,317.3 548.0,311.9 548.5,306.5 549.0,301.1 549.5,295.7 550.0,288.4 550.5,281.1 551.0,273.8 551.5,266.4 552.0,258.3 552.5,250.1 553.0,241.9 553.5,234.5 554.0,228.4 554.5,222.3 555.0,216.1 555.5,213.1 556.0,210.0 556.5,213.2 557.0,216.3 557.5,223.2 558.0,230.1 558.5,237.0 559.0,244.6 559.5,252.1 560.0,259.6 560.5,267.0 561.0,272.4 561.5,277.8 562.0,283.1 562.5,288.4 563.0,293.7 563.5,299.0 564.0,304.2 564.5,309.5 565.0,312.8 565.5,316.1 566.0,319.4 566.5,321.7 567.0,320.0 567.5,318.3 568.0,316.7 568.5,315.0 569.0,312.1 569.5,309.3 570.0,306.4 570.5,303.5 571.0,300.4 571.5,297.2 572.0,294.1 572.5,292.6 573.0,291.2 573.5,290.5 574.0,293.1 574.5,295.7 575.0,300.6 575.5,306.0 576.0,311.5 576.5,317.6 577.0,323.7 577.5,329.8 578.0,335.8 578.5,340.7 579.0,345.6 579.5,350.5 580.0,355.3 580.5,357.9 581.0,360.4 581.5,363.0 582.0,365.5 582.5,368.0 583.0,369.1 583.5,370.1 584.0,371.1 584.5,372.0 585.0,373.0 585.5,373.1 586.0,373.2 586.5,373.3 587.0,373.4 587.5,373.5 588.0,373.6 588.5,373.7 589.0,373.8 589.5,373.9 590.0,374.1 590.5,374.2 591.0,374.6 591.5,375.0 592.0,375.4 592.5,375.8 593.0,376.2 593.5,376.7 594.0,377.3 594.5,377.8 595.0,378.4 595.5,379.7 596.0,381.0 596.5,382.3 597.0,383.7 597.5,385.1 598.0,386.4 598.5,387.8 599.0,389.2 599.5,390.6 600.0,392.0 600.5,393.5 601.0,394.9 601.5,395.9 602.0,397.0 602.5,398.0 603.0,399.1 603.5,400.2 604.0,401.3 604.5,401.6 605.0,402.0 605.5,404.0 606.0,406.0 606.5,407.9 607.0,406.6 607.5,405.4 608.0,404.3 608.5,401.2 609.0,395.3 609.5,389.6 610.0,384.2 610.5,381.3 611.0,388.1 611.5,394.9 612.0,401.7 612.5,408.6 613.0,410.9 613.5,412.2 614.0,413.4 614.5,414.7 615.0,414.8 615.5,414.9 616.0,415.1 616.5,415.2 617.0,415.3 617.5,415.2 618.0,415.1 618.5,415.1 619.0,415.0 619.5,415.0 620.0,415.0 620.5,414.9 621.0,414.8 621.5,414.8 622.0,414.7 622.5,414.1 623.0,413.6 623.5,413.0 624.0,412.5 624.5,412.0 625.0,411.5 625.5,410.9 626.0,410.4 626.5,409.9 627.0,409.4 627.5,408.8 628.0,408.2 628.5,407.6 629.0,407.0 629.5,406.5 630.0,405.9 630.5,405.3 631.0,404.8 631.5,404.2 632.0,403.6 632.5,403.1 633.0,402.5 633.5,402.0 634.0,401.5 634.5,401.0 635.0,400.4 635.5,399.8 636.0,399.2 636.5,398.6 637.0,398.0 637.5,397.3 638.0,396.6 638.5,396.0 639.0,395.3 639.5,394.6 640.0,394.0 640.5,393.6 641.0,393.2 641.5,392.9 642.0,392.5 642.5,392.2 643.0,391.8 643.5,391.5 644.0,391.2 644.5,390.8 645.0,390.5 645.5,390.2 646.0,389.9 646.5,389.6 647.0,389.1 647.5,388.7 648.0,388.3 648.5,387.9 649.0,387.5 649.5,387.1 650.0,386.7 650.5,386.3 651.0,385.9 651.5,385.5 652.0,385.1 652.5,384.7 653.0,384.3 653.5,383.9 654.0,383.5 654.5,383.1 655.0,382.7 655.5,382.4 656.0,382.0 656.5,380.8 657.0,379.5 657.5,378.2 658.0,376.8 658.5,375.5 659.0,374.1 659.5,372.7 660.0,371.4 660.5,369.7 661.0,368.1 661.5,366.4 662.0,364.8 662.5,363.1 663.0,361.5 663.5,359.8 664.0,358.1 664.5,356.4 665.0,354.5 665.5,352.7 666.0,350.8 666.5,349.0 667.0,347.1 667.5,345.6 668.0,344.1 668.5,342.6 669.0,341.0 669.5,339.5 670.0,338.0 670.5,333.5 671.0,328.9 671.5,324.3 672.0,319.6 672.5,314.8 673.0,308.1 673.5,301.3 674.0,294.3 674.5,281.7 675.0,268.9 675.5,255.9 676.0,242.7 676.5,232.0 677.0,225.0 677.5,223.7 678.0,224.0 678.5,224.3 679.0,225.2 679.5,226.0 680.0,226.9 680.5,227.7 681.0,228.6 681.5,229.4 682.0,229.0 682.5,228.6 683.0,228.3 683.5,227.9 684.0,227.7 684.5,227.6 685.0,227.4 685.5,227.3 686.0,227.3 686.5,227.7 687.0,228.0 687.5,228.4 688.0,228.7 688.5,228.6 689.0,228.5 689.5,228.4 690.0,228.3 690.5,228.4 691.0,228.4 691.5,228.5 692.0,228.6 692.5,228.7 693.0,228.8 693.5,228.9 694.0,228.9 694.5,229.0 695.0,229.0 695.5,229.1 696.0,229.1 696.5,229.1" fill="none" stroke="#9999ff" stroke-width="1.25" stroke-linejoin="round"/>
<polyline points="49.0,501.0 49.5,501.0 50.0,501.0 50.5,501.0 51.0,501.0 51.5,501.0 52.0,501.0 52.5,501.0 53.0,501.0 53.5,501.0 54.0,501.0 54.5,500.9 55.0,500.9 55.5,500.9 56.0,500.9 56.5,500.9 57.0,500.9 57.5,500.9 58.0,500.9 58.5,500.9 59.0,500.9 59.5,500.9 60.0,500.9 60.5,500.9 61.0,500.8 61.5,500.8 62.0,500.8 62.5,500.8 63.0,500.8 63.5,500.8 64.0,500.7 64.5,500.7 65.0,500.7 65.5,500.7 66.0,500.6 66.5,500.6 67.0,500.6 67.5,500.6 68.0,500.5 68.5,500.5 69.0,500.5 69.5,500.4 70.0,500.4 70.5,500.3 71.0,500.3 71.5,500.2 72.0,500.2 72.5,500.1 73.0,500.0 73.5,500.0 74.0,499.9 74.5,499.8 75.0,499.7 75.5,499.6 76.0,499.6 76.5,499.5 77.0,499.4 77.5,499.3 78.0,499.1 78.5,499.0 79.0,498.9 79.5,498.8 80.0,498.6 80.5,498.5 81.0,498.3 81.5,498.2 82.0,498.0 82.5,497.8 83.0,497.6 83.5,497.4 84.0,497.2 84.5,497.0 85.0,496.8 85.5,496.5 86.0,496.3 86.5,496.0 87.0,495.7 87.5,495.5 88.0,495.2 88.5,494.9 89.0,494.5 89.5,494.2 90.0,493.9 90.5,493.5 91.0,493.1 91.5,492.8 92.0,492.4 92.5,492.0 93.0,491.5 93.5,491.1 94.0,490.6 94.5,490.2 95.0,489.7 95.5,489.2 96.0,488.7 96.5,488.1 97.0,487.6 97.5,487.0 98.0,486.5 98.5,485.9 99.0,485.3 99.5,484.7 100.0,484.0 100.5,483.4 101.0,482.7 101.5,482.0 102.0,481.3 102.5,480.6 103.0,479.9 103.5,479.2 104.0,478.4 104.5,477.7 105.0,476.9 105.5,476.1 106.0,475.4 106.5,474.6 107.0,473.7 107.5,472.9 108.0,472.1 108.5,471.3 109.0,470.4 109.5,469.6 110.0,468.7 110.5,467.9 111.0,467.0 111.5,466.2 112.0,465.3 112.5,464.4 113.0,463.6 113.5,462.7 114.0,461.9 114.5,461.0 115.0,460.2 115.5,459.3 116.0,458.5 116.5,457.6 117.0,456.8 117.5,456.0 118.0,455.2 118.5,454.4 119.0,453.7 119.5,452.9 120.0,452.1 120.5,451.4 121.0,450.7 121.5,450.0 122.0,449.3 122.5,448.7 123.0,448.1 123.5,447.5 124.0,446.9 124.5,446.3 125.0,445.8 125.5,445.3 126.0,444.8 126.5,444.3 127.0,443.9 127.5,443.5 128.0,443.2 128.5,442.8 129.0,442.5 129.5,442.3 130.0,442.0 130.5,441.8 131.0,441.7 131.5,441.5 132.0,441.4 132.5,441.3 133.0,441.3 133.5,441.3 134.0,441.3 134.5,441.4 135.0,441.5 135.5,441.6 136.0,441.7 136.5,441.9 137.0,442.0 137.5,442.2 138.0,442.3 138.5,442.5 139.0,442.7 139.5,442.9 140.0,443.2 140.5,443.4 141.0,443.7 141.5,443.9 142.0,444.2 142.5,444.5 143.0,444.8 143.5,445.1 144.0,445.4 144.5,445.7 145.0,446.0 145.5,446.4 146.0,446.7 146.5,447.1 147.0,447.5 147.5,447.9 148.0,448.3 148.5,448.7 149.0,449.1 149.5,449.5 150.0,449.9 150.5,450.4 151.0,450.8 151.5,451.3 152.0,451.8 152.5,452.2 153.0,452.7 153.5,453.2 154.0,453.7 154.5,454.2 155.0,454.7 155.5,455.3 156.0,455.8 156.5,456.3 157.0,456.9 157.5,457.4 158.0,458.0 158.5,458.6 159.0,459.1 159.5,459.7 160.0,460.3 160.5,460.9 161.0,461.5 161.5,462.1 162.0,462.7 162.5,463.4 163.0,464.0 163.5,464.6 164.0,465.3 164.5,465.9 165.0,466.6 165.5,467.2 166.0,467.9 166.5,468.5 167.0,469.2 167.5,469.9 168.0,470.6 168.5,471.3 169.0,471.9 169.5,472.6 170.0,473.3 170.5,474.0 171.0,474.8 171.5,475.5 172.0,476.2 172.5,476.9 173.0,477.6 173.5,478.3 174.0,479.1 174.5,479.8 175.0,480.5 175.5,481.3 176.0,482.0 176.5,482.8 177.0,483.5 177.5,484.3 178.0,485.0 178.5,485.0 179.0,485.0 179.5,485.0 180.0,485.0 180.5,485.0 181.0,485.0 181.5,485.0 182.0,484.7 182.5,484.3 183.0,484.0 183.5,483.1 184.0,481.8 184.5,480.5 185.0,479.2 185.5,478.0 186.0,478.3 186.5,479.0 187.0,478.8 187.5,478.6 188.0,476.7 188.5,474.2 189.0,471.7 189.5,467.5 190.0,463.0 190.5,458.3 191.0,452.2 191.5,445.7 192.0,438.8 192.5,431.6 193.0,420.3 193.5,402.6 194.0,380.0 194.5,350.0 195.0,314.0 195.5,273.8 196.0,227.5 196.5,180.8 197.0,154.6 197.5,140.0 198.0,143.8 198.5,153.0 199.0,186.0 199.5,232.3 200.0,281.9 200.5,327.7 201.0,358.0 201.5,379.5 202.0,387.9 202.5,393.6 203.0,395.1 203.5,394.1 204.0,389.4 204.5,381.0 205.0,357.4 205.5,330.5 206.0,298.6 206.5,271.0 207.0,249.1 207.5,241.0 208.0,238.3 208.5,246.6 209.0,265.0 209.5,305.4 210.0,347.4 210.5,391.1 211.0,418.3 211.5,441.8 212.0,452.7 212.5,463.9 213.0,470.0 213.5,474.9 214.0,480.0 214.5,482.8 215.0,485.5 215.5,488.1 216.0,490.6 216.5,491.5 217.0,492.5 217.5,493.3 218.0,494.2 218.5,495.0 219.0,495.8 219.5,496.2 220.0,496.5 220.5,496.8 221.0,497.1 221.5,497.4 222.0,497.7 222.5,497.9 223.0,498.1 223.5,498.3 224.0,498.5 224.5,498.6 225.0,498.7 225.5,498.8 226.0,499.0 226.5,499.1 227.0,499.2 227.5,499.3 228.0,499.4 228.5,499.5 229.0,499.6 229.5,499.8 230.0,499.9 230.5,500.0 231.0,500.1 231.5,500.2 232.0,500.3 232.5,500.4 233.0,500.5 233.5,500.7 234.0,500.8 234.5,500.9 235.0,501.0 235.5,501.1 236.0,501.3 236.5,501.4 237.0,501.5 237.5,501.6 238.0,501.8 238.5,501.9 239.0,502.0 239.5,502.2 240.0,502.3 240.5,502.4 241.0,502.6 241.5,502.7 242.0,502.8 242.5,502.9 243.0,503.1 243.5,503.2 244.0,503.3 244.5,503.5 245.0,503.6 245.5,503.7 246.0,503.9 246.5,504.0 247.0,504.1 247.5,504.2 248.0,504.4 248.5,504.5 249.0,504.6 249.5,504.8 250.0,504.9 250.5,504.9 251.0,504.9 251.5,504.9 252.0,505.0 252.5,505.0 253.0,505.0 253.5,505.0 254.0,505.0 254.5,505.0 255.0,505.1 255.5,505.1 256.0,505.1 256.5,505.1 257.0,505.1 257.5,505.1 258.0,505.2 258.5,505.2 259.0,505.2 259.5,505.2 260.0,505.2 260.5,505.2 261.0,505.3 261.5,505.3 262.0,505.3 262.5,505.3 263.0,505.3 263.5,505.3 264.0,505.4 264.5,505.4 265.0,505.4 265.5,505.3 266.0,505.2 266.5,505.1 267.0,504.9 267.5,504.8 268.0,504.7 268.5,504.6 269.0,504.5 269.5,504.4 270.0,504.3 270.5,504.2 271.0,504.0 271.5,503.9 272.0,503.8 272.5,503.7 273.0,503.6 273.5,503.5 274.0,503.4 274.5,503.2 275.0,503.1 275.5,503.0 276.0,502.9 276.5,502.8 277.0,502.7 277.5,502.6 278.0,502.5 278.5,502.3 279.0,502.2 279.5,502.1 280.0,502.0 280.5,501.8 281.0,501.7 281.5,501.5 282.0,501.3 282.5,501.2 283.0,501.0 283.5,500.8 284.0,500.7 284.5,500.5 285.0,500.4 285.5,500.2 286.0,500.0 286.5,499.9 287.0,499.7 287.5,499.5 288.0,499.4 288.5,499.2 289.0,499.0 289.5,498.9 290.0,498.7 290.5,498.6 291.0,498.4 291.5,498.3 292.0,498.2 292.5,498.0 293.0,497.9 293.5,497.8 294.0,497.6 294.5,497.5 295.0,497.4 295.5,497.2 296.0,497.1 296.5,496.9 297.0,496.8 297.5,496.7 298.0,496.5 298.5,496.4 299.0,496.3 299.5,496.1 300.0,496.0 300.5,495.8 301.0,495.6 301.5,495.5 302.0,495.3 302.5,495.1 303.0,494.9 303.5,494.8 304.0,494.6 304.5,494.4 305.0,494.2 305.5,494.0 306.0,493.9 306.5,493.7 307.0,493.5 307.5,493.4 308.0,493.3 308.5,493.1 309.0,493.0 309.5,492.9 310.0,492.8 310.5,492.6 311.0,492.5 311.5,492.4 312.0,492.3 312.5,492.2 313.0,492.0 313.5,491.9 314.0,491.8 314.5,491.7 315.0,491.9 315.5,492.1 316.0,492.2 316.5,492.4 317.0,492.5 317.5,492.7 318.0,492.9 318.5,493.0 319.0,493.2 319.5,493.3 320.0,493.5 320.5,493.6 321.0,493.8 321.5,493.9 322.0,494.1 322.5,494.2 323.0,494.4 323.5,494.5 324.0,494.6 324.5,494.8 325.0,494.9 325.5,495.1 326.0,495.2 326.5,495.4 327.0,495.5 327.5,495.6 328.0,495.6 328.5,495.7 329.0,495.7 329.5,495.8 330.0,495.8 330.5,495.9 331.0,496.0 331.5,496.0 332.0,496.1 332.5,496.1 333.0,496.2 333.5,496.2 334.0,496.3 334.5,496.4 335.0,496.4 335.5,496.5 336.0,496.5 336.5,496.6 337.0,496.7 337.5,496.7 338.0,496.8 338.5,496.8 339.0,496.9 339.5,496.9 340.0,497.0 340.5,497.0 341.0,496.9 341.5,496.9 342.0,496.9 342.5,496.8 343.0,496.8 343.5,496.8 344.0,496.7 344.5,496.7 345.0,496.7 345.5,496.6 346.0,496.6 346.5,496.6 347.0,496.5 347.5,496.5 348.0,496.5 348.5,496.4 349.0,496.4 349.5,496.4 350.0,496.3 350.5,496.3 351.0,496.3 351.5,496.2 352.0,496.2 352.5,496.2 353.0,496.1 353.5,496.1 354.0,496.1 354.5,496.0 355.0,496.0 355.5,495.9 356.0,495.8 356.5,495.7 357.0,495.6 357.5,495.5 358.0,495.4 358.5,495.3 359.0,495.3 359.5,495.2 360.0,495.1 360.5,495.0 361.0,494.9 361.5,494.8 362.0,494.7 362.5,494.6 363.0,494.5 363.5,494.4 364.0,494.3 364.5,494.2 365.0,494.1 365.5,494.0 366.0,493.9 366.5,493.9 367.0,493.8 367.5,493.7 368.0,493.6 368.5,493.5 369.0,493.4 369.5,493.3 370.0,493.2 370.5,493.0 371.0,492.8 371.5,492.6 372.0,492.4 372.5,492.2 373.0,492.0 373.5,491.8 374.0,491.6 374.5,491.4 375.0,491.2 375.5,491.0 376.0,490.8 376.5,490.6 377.0,490.4 377.5,490.2 378.0,490.0 378.5,489.4 379.0,488.8 379.5,488.2 380.0,487.6 380.5,487.0 381.0,486.4 381.5,485.8 382.0,485.2 382.5,484.6 383.0,484.0 383.5,482.8 384.0,481.7 384.5,480.5 385.0,479.3 385.5,478.1 386.0,476.8 386.5,474.2 387.0,471.7 387.5,469.1 388.0,466.5 388.5,463.8 389.0,456.4 389.5,449.0 390.0,441.5 390.5,430.4 391.0,413.8 391.5,397.1 392.0,366.3 392.5,331.6 393.0,291.4 393.5,247.3 394.0,196.3 394.5,140.6 395.0,96.0 395.5,54.0 396.0,93.4 396.5,131.5 397.0,185.9 397.5,238.2 398.0,271.0 398.5,302.5 399.0,324.8 399.5,344.4 400.0,362.6 400.5,379.2 401.0,394.2 401.5,407.4 402.0,418.0 402.5,425.2 403.0,432.2 403.5,436.2 404.0,440.1 404.5,443.9 405.0,446.6 405.5,449.3 406.0,451.9 406.5,454.5 407.0,456.0 407.5,455.9 408.0,455.8 408.5,455.7 409.0,455.6 409.5,455.5 410.0,454.7 410.5,453.9 411.0,453.2 411.5,452.4 412.0,451.7 412.5,450.9 413.0,449.9 413.5,448.9 414.0,448.0 414.5,447.0 415.0,446.1 415.5,445.2 416.0,444.3 416.5,443.7 417.0,443.0 417.5,442.4 418.0,441.8 418.5,441.2 419.0,440.7 419.5,440.1 420.0,440.2 420.5,440.3 421.0,440.5 421.5,440.6 422.0,440.7 422.5,440.9 423.0,441.0 423.5,441.2 424.0,441.4 424.5,441.6 425.0,441.7 425.5,441.9 426.0,442.1 426.5,443.0 427.0,444.0 427.5,444.9 428.0,445.9 428.5,446.8 429.0,447.8 429.5,449.1 430.0,450.5 430.5,451.9 431.0,453.3 431.5,454.7 432.0,456.1 432.5,457.6 433.0,459.2 433.5,460.8 434.0,462.4 434.5,464.0 435.0,465.6 435.5,467.1 436.0,468.7 436.5,470.2 437.0,471.8 437.5,473.3 438.0,474.9 438.5,475.4 439.0,475.8 439.5,476.2 440.0,476.7 440.5,477.1 441.0,477.5 441.5,478.0 442.0,478.4 442.5,478.6 443.0,478.8 443.5,479.1 444.0,479.3 444.5,479.5 445.0,479.7 445.5,479.9 446.0,480.1 446.5,480.3 447.0,480.5 447.5,480.7 448.0,480.9 448.5,481.0 449.0,481.2 449.5,481.4 450.0,481.6 450.5,481.8 451.0,481.9 451.5,481.9 452.0,481.9 452.5,481.9 453.0,482.0 453.5,482.0 454.0,482.0 454.5,482.0 455.0,482.0 455.5,482.0 456.0,481.8 456.5,481.4 457.0,481.0 457.5,480.6 458.0,480.1 458.5,479.7 459.0,479.3 459.5,478.8 460.0,478.4 460.5,477.8 461.0,477.2 461.5,476.7 462.0,476.1 462.5,475.5 463.0,474.9 463.5,473.9 464.0,472.9 464.5,471.9 465.0,470.9 465.5,469.9 466.0,468.6 466.5,467.2 467.0,465.9 467.5,464.5 468.0,461.3 468.5,458.1 469.0,452.1 469.5,444.1 470.0,433.3 470.5,416.2 471.0,395.1 471.5,375.5 472.0,366.5 472.5,360.0 473.0,362.4 473.5,364.8 474.0,368.3 474.5,372.2 475.0,375.9 475.5,379.7 476.0,382.8 476.5,385.9 477.0,389.0 477.5,392.1 478.0,395.1 478.5,397.8 479.0,400.5 479.5,403.2 480.0,405.9 480.5,408.6 481.0,411.2 481.5,412.9 482.0,414.6 482.5,416.3 483.0,418.0 483.5,419.3 484.0,420.1 484.5,420.8 485.0,421.6 485.5,423.7 486.0,425.8 486.5,427.9 487.0,430.8 487.5,433.7 488.0,435.9 488.5,435.3 489.0,434.7 489.5,434.1 490.0,432.2 490.5,430.3 491.0,428.4 491.5,426.4 492.0,424.5 492.5,422.5 493.0,420.6 493.5,418.0 494.0,415.5 494.5,412.9 495.0,408.3 495.5,404.6 496.0,402.0 496.5,404.2 497.0,406.4 497.5,407.8 498.0,409.1 498.5,410.4 499.0,411.7 499.5,412.4 500.0,413.0 500.5,413.7 501.0,414.4 501.5,415.0 502.0,415.7 502.5,416.4 503.0,417.0 503.5,417.7 504.0,418.3 504.5,419.0 505.0,419.6 505.5,420.2 506.0,420.8 506.5,421.4 507.0,421.9 507.5,422.5 508.0,423.1 508.5,423.7 509.0,423.7 509.5,423.0 510.0,422.3 510.5,421.5 511.0,420.8 511.5,420.1 512.0,419.3 512.5,418.4 513.0,417.5 513.5,416.6 514.0,415.6 514.5,414.7 515.0,413.8 515.5,412.8 516.0,411.9 516.5,410.7 517.0,409.6 517.5,408.4 518.0,407.3 518.5,406.1 519.0,404.9 519.5,403.7 520.0,402.6 520.5,400.9 521.0,399.3 521.5,397.7 522.0,396.1 522.5,394.5 523.0,392.8 523.5,391.2 524.0,389.5 524.5,387.5 525.0,385.5 525.5,383.5 526.0,381.5 526.5,379.5 527.0,377.5 527.5,375.5 528.0,373.4 528.5,371.1 529.0,368.7 529.5,366.4 530.0,364.0 530.5,361.6 531.0,359.3 531.5,356.6 532.0,354.0 532.5,351.3 533.0,348.7 533.5,346.0 534.0,344.3 534.5,342.5 535.0,340.8 535.5,339.0 536.0,338.9 536.5,341.3 537.0,343.6 537.5,345.9 538.0,347.9 538.5,350.0 539.0,352.0 539.5,354.0 540.0,356.0 540.5,353.6 541.0,351.2 541.5,348.8 542.0,346.4 542.5,343.9 543.0,340.4 543.5,336.9 544.0,333.3 544.5,329.7 545.0,326.1 545.5,322.6 546.0,319.1 546.5,315.6 547.0,312.1 547.5,308.6 548.0,303.0 548.5,297.3 549.0,291.5 549.5,285.8 550.0,278.1 550.5,270.4 551.0,262.7 551.5,254.9 552.0,246.3 552.5,237.6 553.0,228.9 553.5,221.1 554.0,214.6 554.5,208.1 555.0,201.6 555.5,198.3 556.0,195.0 556.5,198.4 557.0,201.8 557.5,209.2 558.0,216.5 558.5,223.8 559.0,231.8 559.5,239.8 560.0,247.8 560.5,255.6 561.0,261.4 561.5,267.1 562.0,272.7 562.5,278.4 563.0,284.0 563.5,289.6 564.0,295.1 564.5,300.6 565.0,304.2 565.5,307.7 566.0,311.2 566.5,313.6 567.0,311.9 567.5,310.1 568.0,308.3 568.5,306.5 569.0,303.5 569.5,300.5 570.0,297.4 570.5,294.3 571.0,291.0 571.5,287.7 572.0,284.4 572.5,282.8 573.0,281.3 573.5,280.5 574.0,283.3 574.5,286.0 575.0,291.1 575.5,296.8 576.0,302.5 576.5,308.9 577.0,315.3 577.5,321.7 578.0,328.0 578.5,333.1 579.0,338.2 579.5,343.3 580.0,348.4 580.5,351.1 581.0,353.7 581.5,356.4 582.0,359.1 582.5,361.7 583.0,362.8 583.5,363.8 584.0,364.9 584.5,365.9 585.0,366.9 585.5,367.0 586.0,367.1 586.5,367.2 587.0,367.3 587.5,367.4 588.0,367.5 588.5,367.6 589.0,367.7 589.5,367.9 590.0,368.0 590.5,368.1 591.0,368.5 591.5,368.9 592.0,369.3 592.5,369.8 593.0,370.2 593.5,370.8 594.0,371.4 594.5,372.0 595.0,372.6 595.5,374.1 596.0,375.5 596.5,376.9 597.0,378.4 597.5,379.9 598.0,381.3 598.5,382.8 599.0,384.3 599.5,385.8 600.0,387.3 600.5,388.8 601.0,390.4 601.5,391.5 602.0,392.6 602.5,393.7 603.0,394.9 603.5,396.0 604.0,397.2 604.5,397.6 605.0,398.0 605.5,400.1 606.0,402.1 606.5,404.2 607.0,402.8 607.5,401.5 608.0,400.3 608.5,397.1 609.0,391.0 609.5,385.1 610.0,379.4 610.5,376.3 611.0,382.8 611.5,389.4 612.0,396.1 612.5,403.0 613.0,405.1 613.5,406.0 614.0,407.0 614.5,408.0 615.0,407.7 615.5,407.5 616.0,407.2 616.5,407.0 617.0,406.8 617.5,406.3 618.0,405.9 618.5,405.4 619.0,405.0 619.5,405.2 620.0,405.2 620.5,405.2 621.0,405.3 621.5,405.3 622.0,405.4 622.5,404.9 623.0,404.4 623.5,403.9 624.0,403.5 624.5,403.0 625.0,402.6 625.5,402.2 626.0,401.7 626.5,401.3 627.0,400.8 627.5,400.3 628.0,399.9 628.5,399.4 629.0,398.9 629.5,398.5 630.0,398.0 630.5,397.5 631.0,397.1 631.5,396.6 632.0,396.2 632.5,395.8 633.0,395.3 633.5,394.9 634.0,394.6 634.5,394.2 635.0,393.8 635.5,393.3 636.0,392.8 636.5,392.4 637.0,392.0 637.5,391.3 638.0,390.6 638.5,389.9 639.0,389.2 639.5,388.5 640.0,387.9 640.5,387.5 641.0,387.1 641.5,386.8 642.0,386.4 642.5,386.0 643.0,385.7 643.5,385.4 644.0,385.0 644.5,384.7 645.0,384.4 645.5,384.1 646.0,383.8 646.5,383.5 647.0,383.1 647.5,382.6 648.0,382.2 648.5,381.8 649.0,381.4 649.5,381.0 650.0,380.6 650.5,380.2 651.0,379.8 651.5,379.4 652.0,379.0 652.5,378.6 653.0,378.2 653.5,377.8 654.0,377.4 654.5,377.1 655.0,376.7 655.5,376.3 656.0,376.0 656.5,374.8 657.0,373.4 657.5,372.0 658.0,370.6 658.5,369.2 659.0,367.7 659.5,366.3 660.0,364.9 660.5,363.2 661.0,361.5 661.5,359.7 662.0,358.0 662.5,356.3 663.0,354.5 663.5,352.8 664.0,351.0 664.5,349.2 665.0,347.3 665.5,345.3 666.0,343.4 666.5,341.5 667.0,339.5 667.5,337.9 668.0,336.4 668.5,334.8 669.0,333.2 669.5,331.6 670.0,330.0 670.5,325.6 671.0,321.2 671.5,316.7 672.0,312.1 672.5,307.5 673.0,300.8 673.5,294.1 674.0,287.2 674.5,274.5 675.0,261.6 675.5,248.6 676.0,235.4 676.5,224.8 677.0,218.0 677.5,219.2 678.0,220.5 678.5,221.8 679.0,223.0 679.5,224.2 680.0,225.5 680.5,226.8 681.0,228.0 681.5,229.5 682.0,231.0 682.5,232.5 683.0,234.0 683.5,235.5 684.0,237.0 684.5,238.5 685.0,240.0 685.5,241.0 686.0,242.0 686.5,243.0 687.0,244.0 687.5,245.0 688.0,246.0 688.5,247.0 689.0,248.0 689.5,249.0 690.0,250.0 690.5,250.9 691.0,251.8 691.5,252.7 692.0,253.5 692.5,254.4 693.0,255.3 693.5,256.2 694.0,257.1 694.5,258.0 695.0,258.8 695.5,259.7 696.0,260.6 696.5,261.5" fill="none" stroke="#1a1acc" stroke-width="1.25" stroke-linejoin="round"/>
<polyline points="49.0,501.0 49.5,501.0 50.0,501.0 50.5,501.0 51.0,501.0 51.5,501.0 52.0,501.0 52.5,501.0 53.0,501.0 53.5,500.9 54.0,500.9 54.5,500.9 55.0,500.9 55.5,500.9 56.0,500.9 56.5,500.9 57.0,500.9 57.5,500.9 58.0,500.9 58.5,500.9 59.0,500.9 59.5,500.9 60.0,500.8 60.5,500.8 61.0,500.8 61.5,500.8 62.0,500.8 62.5,500.8 63.0,500.7 63.5,500.7 64.0,500.7 64.5,500.7 65.0,500.6 65.5,500.6 66.0,500.6 66.5,500.6 67.0,500.5 67.5,500.5 68.0,500.4 68.5,500.4 69.0,500.4 69.5,500.3 70.0,500.2 70.5,500.2 71.0,500.1 71.5,500.1 72.0,500.0 72.5,499.9 73.0,499.9 73.5,499.8 74.0,499.7 74.5,499.6 75.0,499.5 75.5,499.4 76.0,499.3 76.5,499.2 77.0,499.1 77.5,498.9 78.0,498.8 78.5,498.7 79.0,498.5 79.5,498.4 80.0,498.2 80.5,498.0 81.0,497.8 81.5,497.6 82.0,497.4 82.5,497.2 83.0,497.0 83.5,496.8 84.0,496.5 84.5,496.3 85.0,496.0 85.5,495.7 86.0,495.4 86.5,495.1 87.0,494.8 87.5,494.5 88.0,494.1 88.5,493.8 89.0,493.4 89.5,493.0 90.0,492.6 90.5,492.2 91.0,491.7 91.5,491.3 92.0,490.8 92.5,490.3 93.0,489.8 93.5,489.3 94.0,488.8 94.5,488.2 95.0,487.6 95.5,487.0 96.0,486.4 96.5,485.8 97.0,485.2 97.5,484.5 98.0,483.8 98.5,483.1 99.0,482.4 99.5,481.7 100.0,480.9 100.5,480.2 101.0,479.4 101.5,478.6 102.0,477.8 102.5,477.0 103.0,476.1 103.5,475.2 104.0,474.4 104.5,473.5 105.0,472.6 105.5,471.6 106.0,470.7 106.5,469.8 107.0,468.8 107.5,467.9 108.0,466.9 108.5,465.9 109.0,464.9 109.5,463.9 110.0,462.9 110.5,461.9 111.0,460.9 111.5,459.9 112.0,458.9 112.5,457.8 113.0,456.8 113.5,455.8 114.0,454.8 114.5,453.8 115.0,452.8 115.5,451.8 116.0,450.8 116.5,449.8 117.0,448.8 117.5,447.9 118.0,446.9 118.5,446.0 119.0,445.1 119.5,444.2 120.0,443.3 120.5,442.5 121.0,441.6 121.5,440.8 122.0,440.0 122.5,439.2 123.0,438.5 123.5,437.8 124.0,437.1 124.5,436.4 125.0,435.8 125.5,435.2 126.0,434.6 126.5,434.1 127.0,433.6 127.5,433.1 128.0,432.7 128.5,432.3 129.0,432.0 129.5,431.6 130.0,431.4 130.5,431.1 131.0,430.9 131.5,430.8 132.0,430.6 132.5,430.6 133.0,430.5 133.5,430.5 134.0,430.6 134.5,430.6 135.0,430.7 135.5,430.8 136.0,431.0 136.5,431.1 137.0,431.3 137.5,431.5 138.0,431.7 138.5,431.9 139.0,432.1 139.5,432.3 140.0,432.6 140.5,432.8 141.0,433.1 141.5,433.4 142.0,433.7 142.5,434.0 143.0,434.4 143.5,434.7 144.0,435.0 144.5,435.4 145.0,435.8 145.5,436.2 146.0,436.6 146.5,437.0 147.0,437.4 147.5,437.8 148.0,438.3 148.5,438.7 149.0,439.2 149.5,439.6 150.0,440.1 150.5,440.6 151.0,441.1 151.5,441.6 152.0,442.1 152.5,442.7 153.0,443.2 153.5,443.8 154.0,444.3 154.5,444.9 155.0,445.5 155.5,446.1 156.0,446.6 156.5,447.2 157.0,447.9 157.5,448.5 158.0,449.1 158.5,449.7 159.0,450.4 159.5,451.0 160.0,451.7 160.5,452.3 161.0,453.0 161.5,453.7 162.0,454.4 162.5,455.1 163.0,455.8 163.5,456.5 164.0,457.2 164.5,457.9 165.0,458.7 165.5,459.4 166.0,460.1 166.5,460.9 167.0,461.6 167.5,462.4 168.0,463.1 168.5,463.9 169.0,464.7 169.5,465.5 170.0,466.2 170.5,467.0 171.0,467.8 171.5,468.6 172.0,469.4 172.5,470.2 173.0,471.0 173.5,471.8 174.0,472.7 174.5,473.5 175.0,474.3 175.5,475.1 176.0,476.0 176.5,476.8 177.0,477.6 177.5,478.5 178.0,479.3 178.5,480.2 179.0,481.0 179.5,481.0 180.0,481.0 180.5,481.0 181.0,481.0 181.5,481.0 182.0,480.7 182.5,480.3 183.0,480.0 183.5,479.1 184.0,477.7 184.5,476.5 185.0,475.2 185.5,474.0 186.0,474.0 186.5,474.5 187.0,474.2 187.5,473.8 188.0,471.7 188.5,469.2 189.0,466.5 189.5,462.2 190.0,457.5 190.5,452.6 191.0,446.3 191.5,439.5 192.0,432.3 192.5,424.7 193.0,412.9 193.5,394.6 194.0,371.1 194.5,339.9 195.0,302.3 195.5,260.4 196.0,212.0 196.5,163.2 197.0,135.6 197.5,120.0 198.0,126.2 198.5,137.7 199.0,173.7 199.5,222.7 200.0,274.4 200.5,321.7 201.0,353.1 201.5,375.3 202.0,384.4 202.5,390.6 203.0,392.7 203.5,391.9 204.0,386.7 204.5,377.7 205.0,353.6 205.5,325.9 206.0,293.0 206.5,264.1 207.0,240.8 207.5,231.3 208.0,231.6 208.5,243.7 209.0,265.5 209.5,307.6 210.0,350.2 210.5,393.1 211.0,419.6 211.5,442.0 212.0,452.5 212.5,463.1 213.0,468.8 213.5,473.4 214.0,478.0 214.5,480.3 215.0,482.5 215.5,484.7 216.0,486.8 216.5,487.6 217.0,488.3 217.5,489.0 218.0,489.8 218.5,490.5 219.0,491.2 219.5,491.4 220.0,491.7 220.5,492.0 221.0,492.2 221.5,492.5 222.0,492.7 222.5,492.9 223.0,493.1 223.5,493.3 224.0,493.5 224.5,493.6 225.0,493.7 225.5,493.8 226.0,494.0 226.5,494.1 227.0,494.2 227.5,494.3 228.0,494.4 228.5,494.5 229.0,494.6 229.5,494.8 230.0,494.9 230.5,494.9 231.0,495.0 231.5,495.0 232.0,495.1 232.5,495.1 233.0,495.2 233.5,495.2 234.0,495.3 234.5,495.3 235.0,495.4 235.5,495.4 236.0,495.5 236.5,495.6 237.0,495.6 237.5,495.7 238.0,495.8 238.5,495.8 239.0,495.9 239.5,496.0 240.0,496.1 240.5,496.1 241.0,496.2 241.5,496.3 242.0,496.3 242.5,496.4 243.0,496.5 243.5,496.5 244.0,496.6 244.5,496.7 245.0,496.7 245.5,496.8 246.0,496.9 246.5,496.9 247.0,497.0 247.5,497.1 248.0,497.1 248.5,497.2 249.0,497.3 249.5,497.3 250.0,497.4 250.5,497.5 251.0,497.5 251.5,497.6 252.0,497.6 252.5,497.7 253.0,497.7 253.5,497.8 254.0,497.8 254.5,497.9 255.0,497.9 255.5,498.0 256.0,498.0 256.5,498.1 257.0,498.1 257.5,498.2 258.0,498.3 258.5,498.3 259.0,498.4 259.5,498.4 260.0,498.5 260.5,498.5 261.0,498.6 261.5,498.6 262.0,498.7 262.5,498.7 263.0,498.8 263.5,498.8 264.0,498.9 264.5,498.9 265.0,499.0 265.5,499.0 266.0,498.9 266.5,498.9 267.0,498.9 267.5,498.9 268.0,498.8 268.5,498.8 269.0,498.8 269.5,498.8 270.0,498.7 270.5,498.7 271.0,498.7 271.5,498.7 272.0,498.6 272.5,498.6 273.0,498.6 273.5,498.6 274.0,498.5 274.5,498.5 275.0,498.5 275.5,498.5 276.0,498.4 276.5,498.4 277.0,498.4 277.5,498.4 278.0,498.3 278.5,498.3 279.0,498.3 279.5,498.3 280.0,498.2 280.5,498.2 281.0,498.1 281.5,498.0 282.0,497.9 282.5,497.9 283.0,497.8 283.5,497.7 284.0,497.6 284.5,497.5 285.0,497.5 285.5,497.4 286.0,497.3 286.5,497.2 287.0,497.2 287.5,497.1 288.0,497.0 288.5,496.9 289.0,496.9 289.5,496.8 290.0,496.7 290.5,496.6 291.0,496.5 291.5,496.4 292.0,496.2 292.5,496.1 293.0,496.0 293.5,495.9 294.0,495.8 294.5,495.7 295.0,495.6 295.5,495.4 296.0,495.3 296.5,495.2 297.0,495.1 297.5,495.0 298.0,494.9 298.5,494.8 299.0,494.6 299.5,494.5 300.0,494.4 300.5,494.3 301.0,494.1 301.5,493.9 302.0,493.8 302.5,493.6 303.0,493.5 303.5,493.3 304.0,493.2 304.5,493.0 305.0,492.8 305.5,492.7 306.0,492.5 306.5,492.4 307.0,492.2 307.5,492.1 308.0,492.0 308.5,491.9 309.0,491.8 309.5,491.7 310.0,491.6 310.5,491.5 311.0,491.4 311.5,491.3 312.0,491.2 312.5,491.1 313.0,491.0 313.5,490.9 314.0,490.8 314.5,490.7 315.0,490.9 315.5,491.1 316.0,491.2 316.5,491.4 317.0,491.5 317.5,491.7 318.0,491.9 318.5,492.0 319.0,492.2 319.5,492.3 320.0,492.5 320.5,492.6 321.0,492.8 321.5,492.9 322.0,493.1 322.5,493.2 323.0,493.4 323.5,493.5 324.0,493.6 324.5,493.8 325.0,493.9 325.5,494.1 326.0,494.2 326.5,494.4 327.0,494.5 327.5,494.6 328.0,494.6 328.5,494.7 329.0,494.7 329.5,494.8 330.0,494.8 330.5,494.9 331.0,495.0 331.5,495.0 332.0,495.1 332.5,495.1 333.0,495.2 333.5,495.2 334.0,495.3 334.5,495.4 335.0,495.4 335.5,495.5 336.0,495.5 336.5,495.6 337.0,495.7 337.5,495.7 338.0,495.8 338.5,495.8 339.0,495.9 339.5,495.9 340.0,496.0 340.5,496.0 341.0,495.9 341.5,495.9 342.0,495.9 342.5,495.8 343.0,495.8 343.5,495.8 344.0,495.7 344.5,495.7 345.0,495.7 345.5,495.6 346.0,495.6 346.5,495.6 347.0,495.5 347.5,495.5 348.0,495.5 348.5,495.4 349.0,495.4 349.5,495.4 350.0,495.3 350.5,495.3 351.0,495.3 351.5,495.2 352.0,495.2 352.5,495.2 353.0,495.1 353.5,495.1 354.0,495.1 354.5,495.0 355.0,495.0 355.5,494.9 356.0,494.8 356.5,494.7 357.0,494.6 357.5,494.5 358.0,494.4 358.5,494.3 359.0,494.3 359.5,494.2 360.0,494.1 360.5,494.0 361.0,493.9 361.5,493.8 362.0,493.7 362.5,493.6 363.0,493.5 363.5,493.4 364.0,493.3 364.5,493.2 365.0,493.1 365.5,493.0 366.0,492.9 366.5,492.9 367.0,492.8 367.5,492.7 368.0,492.6 368.5,492.5 369.0,492.4 369.5,492.3 370.0,492.2 370.5,492.0 371.0,491.8 371.5,491.6 372.0,491.4 372.5,491.2 373.0,491.0 373.5,490.8 374.0,490.6 374.5,490.4 375.0,490.2 375.5,490.0 376.0,489.8 376.5,489.6 377.0,489.4 377.5,489.2 378.0,489.0 378.5,488.4 379.0,487.8 379.5,487.2 380.0,486.6 380.5,486.0 381.0,485.4 381.5,484.8 382.0,484.2 382.5,483.6 383.0,483.0 383.5,481.8 384.0,480.7 384.5,479.5 385.0,478.3 385.5,477.1 386.0,475.9 386.5,473.5 387.0,471.0 387.5,468.4 388.0,465.9 388.5,463.4 389.0,456.1 389.5,448.7 390.0,441.3 390.5,430.3 391.0,413.8 391.5,397.2 392.0,366.5 392.5,331.9 393.0,291.8 393.5,247.8 394.0,196.9 394.5,141.3 395.0,96.9 395.5,55.0 396.0,92.3 396.5,128.7 397.0,181.8 397.5,233.3 398.0,265.4 398.5,296.5 399.0,318.4 399.5,337.6 400.0,355.6 400.5,372.1 401.0,387.2 401.5,400.5 402.0,411.2 402.5,418.3 403.0,425.2 403.5,429.0 404.0,432.7 404.5,436.2 405.0,438.7 405.5,441.0 406.0,443.4 406.5,445.7 407.0,447.0 407.5,446.9 408.0,446.8 408.5,446.7 409.0,446.6 409.5,446.5 410.0,445.6 410.5,444.7 411.0,443.8 411.5,442.9 412.0,442.0 412.5,441.2 413.0,440.0 413.5,438.9 414.0,437.7 414.5,436.6 415.0,435.5 415.5,434.5 416.0,433.5 416.5,432.7 417.0,432.0 417.5,431.3 418.0,430.6 418.5,429.9 419.0,429.3 419.5,428.7 420.0,428.9 420.5,429.0 421.0,429.2 421.5,429.4 422.0,429.6 422.5,429.8 423.0,430.1 423.5,430.3 424.0,430.6 424.5,430.9 425.0,431.2 425.5,431.5 426.0,431.8 426.5,433.0 427.0,434.1 427.5,435.3 428.0,436.5 428.5,437.7 429.0,438.9 429.5,440.6 430.0,442.2 430.5,443.9 431.0,445.6 431.5,447.2 432.0,448.9 432.5,450.8 433.0,452.7 433.5,454.5 434.0,456.4 434.5,458.3 435.0,460.2 435.5,462.0 436.0,463.8 436.5,465.7 437.0,467.5 437.5,469.3 438.0,471.2 438.5,471.7 439.0,472.2 439.5,472.7 440.0,473.3 440.5,473.8 441.0,474.3 441.5,474.9 442.0,475.4 442.5,475.6 443.0,475.9 443.5,476.2 444.0,476.4 444.5,476.7 445.0,476.9 445.5,477.2 446.0,477.5 446.5,477.7 447.0,478.0 447.5,478.2 448.0,478.4 448.5,478.6 449.0,478.9 449.5,479.1 450.0,479.3 450.5,479.5 451.0,479.7 451.5,479.8 452.0,479.8 452.5,479.8 453.0,479.8 453.5,479.9 454.0,479.9 454.5,479.9 455.0,480.0 455.5,480.0 456.0,479.8 456.5,479.4 457.0,479.0 457.5,478.6 458.0,478.1 458.5,477.7 459.0,477.3 459.5,476.8 460.0,476.4 460.5,475.8 461.0,475.2 461.5,474.7 462.0,474.1 462.5,473.5 463.0,472.9 463.5,471.9 464.0,470.8 464.5,469.8 465.0,468.7 465.5,467.6 466.0,466.3 466.5,464.9 467.0,463.5 467.5,462.1 468.0,458.7 468.5,455.4 469.0,448.9 469.5,440.5 470.0,429.1 470.5,411.1 471.0,388.8 471.5,368.2 472.0,358.7 472.5,352.0 473.0,354.5 473.5,357.0 474.0,360.8 474.5,364.8 475.0,368.8 475.5,372.7 476.0,376.0 476.5,379.3 477.0,382.5 477.5,385.7 478.0,388.9 478.5,391.8 479.0,394.6 479.5,397.5 480.0,400.3 480.5,403.1 481.0,405.9 481.5,407.7 482.0,409.5 482.5,411.3 483.0,413.1 483.5,414.4 484.0,415.2 484.5,416.0 485.0,416.7 485.5,419.0 486.0,421.2 486.5,423.5 487.0,426.5 487.5,429.6 488.0,431.9 488.5,431.4 489.0,430.8 489.5,430.3 490.0,428.4 490.5,426.4 491.0,424.5 491.5,422.6 492.0,420.6 492.5,418.7 493.0,416.7 493.5,414.2 494.0,411.6 494.5,409.0 495.0,404.4 495.5,400.5 496.0,398.0 496.5,400.3 497.0,402.5 497.5,403.9 498.0,405.2 498.5,406.5 499.0,407.9 499.5,408.5 500.0,409.2 500.5,409.9 501.0,410.5 501.5,411.2 502.0,411.8 502.5,412.5 503.0,413.1 503.5,413.8 504.0,414.4 504.5,415.1 505.0,415.7 505.5,416.3 506.0,416.8 506.5,417.4 507.0,418.0 507.5,418.5 508.0,419.1 508.5,419.7 509.0,419.7 509.5,419.0 510.0,418.3 510.5,417.6 511.0,416.8 511.5,416.1 512.0,415.4 512.5,414.5 513.0,413.5 513.5,412.6 514.0,411.7 514.5,410.8 515.0,409.8 515.5,408.9 516.0,408.0 516.5,406.8 517.0,405.7 517.5,404.5 518.0,403.3 518.5,402.2 519.0,401.0 519.5,399.8 520.0,398.6 520.5,397.0 521.0,395.4 521.5,393.8 522.0,392.1 522.5,390.5 523.0,388.9 523.5,387.2 524.0,385.5 524.5,383.5 525.0,381.5 525.5,379.5 526.0,377.5 526.5,375.5 527.0,373.5 527.5,371.4 528.0,369.4 528.5,367.0 529.0,364.7 529.5,362.3 530.0,359.9 530.5,357.5 531.0,355.2 531.5,352.5 532.0,349.9 532.5,347.2 533.0,344.5 533.5,341.9 534.0,340.2 534.5,338.5 535.0,336.7 535.5,335.0 536.0,334.9 536.5,337.3 537.0,339.6 537.5,341.9 538.0,343.9 538.5,346.0 539.0,348.0 539.5,350.0 540.0,352.0 540.5,349.4 541.0,346.9 541.5,344.3 542.0,341.7 542.5,339.0 543.0,335.3 543.5,331.5 544.0,327.7 544.5,323.8 545.0,320.0 545.5,316.3 546.0,312.6 546.5,308.8 547.0,305.1 547.5,301.3 548.0,295.3 548.5,289.2 549.0,283.1 549.5,277.0 550.0,268.9 550.5,260.7 551.0,252.5 551.5,244.2 552.0,235.0 552.5,225.8 553.0,216.6 553.5,208.2 554.0,201.3 554.5,194.3 555.0,187.3 555.5,183.6 556.0,180.0 556.5,183.8 557.0,187.6 557.5,195.5 558.0,203.4 558.5,211.3 559.0,219.9 559.5,228.4 560.0,236.9 560.5,245.3 561.0,251.5 561.5,257.6 562.0,263.7 562.5,269.7 563.0,275.8 563.5,281.7 564.0,287.7 564.5,293.6 565.0,297.4 565.5,301.2 566.0,305.0 566.5,307.7 567.0,306.0 567.5,304.3 568.0,302.6 568.5,300.9 569.0,297.9 569.5,294.9 570.0,291.9 570.5,288.9 571.0,285.6 571.5,282.4 572.0,279.1 572.5,277.6 573.0,276.2 573.5,275.6 574.0,278.4 574.5,281.2 575.0,286.5 575.5,292.3 576.0,298.1 576.5,304.8 577.0,311.3 577.5,317.8 578.0,324.3 578.5,329.6 579.0,334.9 579.5,340.1 580.0,345.3 580.5,348.0 581.0,350.8 581.5,353.6 582.0,356.3 582.5,359.0 583.0,360.1 583.5,361.2 584.0,362.3 584.5,363.4 585.0,364.5 585.5,364.6 586.0,364.7 586.5,364.8 587.0,364.9 587.5,365.1 588.0,365.2 588.5,365.3 589.0,365.5 589.5,365.6 590.0,365.8 590.5,365.9 591.0,366.4 591.5,366.8 592.0,367.3 592.5,367.7 593.0,368.2 593.5,368.8 594.0,369.4 594.5,370.0 595.0,370.6 595.5,372.0 596.0,373.4 596.5,374.9 597.0,376.3 597.5,377.8 598.0,379.3 598.5,380.8 599.0,382.3 599.5,383.8 600.0,385.3 600.5,386.8 601.0,388.4 601.5,389.5 602.0,390.6 602.5,391.7 603.0,392.9 603.5,394.0 604.0,395.2 604.5,395.6 605.0,396.0 605.5,396.3 606.0,396.7 606.5,397.0 607.0,393.7 607.5,390.4 608.0,387.0 608.5,381.2 609.0,371.8 609.5,362.3 610.0,352.7 610.5,347.0 611.0,356.8 611.5,366.5 612.0,376.1 612.5,385.6 613.0,389.4 613.5,391.8 614.0,394.2 614.5,396.6 615.0,397.5 615.5,398.4 616.0,399.4 616.5,400.3 617.0,401.2 617.5,401.9 618.0,402.6 618.5,403.3 619.0,404.0 619.5,403.9 620.0,403.7 620.5,403.5 621.0,403.3 621.5,403.0 622.0,402.8 622.5,402.1 623.0,401.3 623.5,400.5 624.0,399.7 624.5,399.0 625.0,398.2 625.5,397.5 626.0,396.8 626.5,396.0 627.0,395.2 627.5,394.3 628.0,393.5 628.5,392.7 629.0,391.8 629.5,391.0 630.0,390.2 630.5,389.3 631.0,388.4 631.5,387.6 632.0,386.7 632.5,385.9 633.0,385.0 633.5,384.2 634.0,383.4 634.5,382.6 635.0,381.7 635.5,380.8 636.0,379.8 636.5,378.9 637.0,378.0 637.5,377.0 638.0,375.9 638.5,374.9 639.0,373.9 639.5,372.9 640.0,371.9 640.5,371.2 641.0,370.5 641.5,369.8 642.0,369.1 642.5,368.5 643.0,367.8 643.5,367.1 644.0,366.5 644.5,365.8 645.0,365.2 645.5,364.5 646.0,363.9 646.5,363.3 647.0,362.4 647.5,361.6 648.0,360.8 648.5,360.0 649.0,359.3 649.5,358.5 650.0,357.7 650.5,356.9 651.0,356.1 651.5,355.3 652.0,354.5 652.5,353.6 653.0,352.8 653.5,352.0 654.0,351.2 654.5,350.4 655.0,349.6 655.5,348.8 656.0,348.0 656.5,346.8 657.0,345.4 657.5,343.9 658.0,342.5 658.5,341.1 659.0,339.7 659.5,338.2 660.0,336.8 660.5,335.0 661.0,333.3 661.5,331.5 662.0,329.7 662.5,328.0 663.0,326.2 663.5,324.4 664.0,322.7 664.5,320.8 665.0,318.8 665.5,316.9 666.0,314.9 666.5,313.0 667.0,311.0 667.5,309.5 668.0,308.0 668.5,306.5 669.0,305.0 669.5,303.5 670.0,302.0 670.5,298.4 671.0,294.7 671.5,291.0 672.0,287.3 672.5,283.5 673.0,277.5 673.5,271.4 674.0,265.3 674.5,252.9 675.0,240.4 675.5,227.8 676.0,215.3 676.5,205.5 677.0,200.0 677.5,201.0 678.0,202.0 678.5,203.0 679.0,204.0 679.5,205.0 680.0,206.0 680.5,207.2 681.0,208.4 681.5,209.6 682.0,210.8 682.5,212.0 683.0,213.2 683.5,214.4 684.0,215.6 684.5,216.8 685.0,218.0 685.5,219.0 686.0,220.0 686.5,221.0 687.0,222.0 687.5,223.0 688.0,224.0 688.5,225.0 689.0,226.0 689.5,227.0 690.0,228.0 690.5,228.6 691.0,229.2 691.5,229.8 692.0,230.5 692.5,231.1 693.0,231.7 693.5,232.3 694.0,232.9 694.5,233.5 695.0,234.2 695.5,234.8 696.0,235.4 696.5,236.0" fill="none" stroke="#008000" stroke-width="1.25" stroke-linejoin="round"/>
<polyline points="49.0,501.0 49.5,501.0 50.0,501.0 50.5,501.0 51.0,501.0 51.5,501.0 52.0,501.0 52.5,500.9 53.0,500.9 53.5,500.9 54.0,500.9 54.5,500.9 55.0,500.9 55.5,500.9 56.0,500.9 56.5,500.9 57.0,500.9 57.5,500.9 58.0,500.9 58.5,500.8 59.0,500.8 59.5,500.8 60.0,500.8 60.5,500.8 61.0,500.8 61.5,500.7 62.0,500.7 62.5,500.7 63.0,500.7 63.5,500.6 64.0,500.6 64.5,500.6 65.0,500.6 65.5,500.5 66.0,500.5 66.5,500.4 67.0,500.4 67.5,500.4 68.0,500.3 68.5,500.2 69.0,500.2 69.5,500.1 70.0,500.1 70.5,500.0 71.0,499.9 71.5,499.8 72.0,499.8 72.5,499.7 73.0,499.6 73.5,499.5 74.0,499.4 74.5,499.3 75.0,499.1 75.5,499.0 76.0,498.9 76.5,498.7 77.0,498.6 77.5,498.4 78.0,498.3 78.5,498.1 79.0,497.9 79.5,497.7 80.0,497.5 80.5,497.3 81.0,497.0 81.5,496.8 82.0,496.5 82.5,496.3 83.0,496.0 83.5,495.7 84.0,495.4 84.5,495.1 85.0,494.8 85.5,494.4 86.0,494.0 86.5,493.7 87.0,493.3 87.5,492.8 88.0,492.4 88.5,492.0 89.0,491.5 89.5,491.0 90.0,490.5 90.5,490.0 91.0,489.4 91.5,488.9 92.0,488.3 92.5,487.7 93.0,487.0 93.5,486.4 94.0,485.7 94.5,485.0 95.0,484.3 95.5,483.6 96.0,482.8 96.5,482.0 97.0,481.2 97.5,480.4 98.0,479.6 98.5,478.7 99.0,477.8 99.5,476.9 100.0,476.0 100.5,475.0 101.0,474.0 101.5,473.0 102.0,472.0 102.5,471.0 103.0,469.9 103.5,468.8 104.0,467.8 104.5,466.6 105.0,465.5 105.5,464.4 106.0,463.2 106.5,462.0 107.0,460.8 107.5,459.6 108.0,458.4 108.5,457.2 109.0,455.9 109.5,454.7 110.0,453.4 110.5,452.2 111.0,450.9 111.5,449.7 112.0,448.4 112.5,447.1 113.0,445.8 113.5,444.6 114.0,443.3 114.5,442.1 115.0,440.8 115.5,439.6 116.0,438.3 116.5,437.1 117.0,435.9 117.5,434.7 118.0,433.5 118.5,432.4 119.0,431.2 119.5,430.1 120.0,429.0 120.5,427.9 121.0,426.9 121.5,425.9 122.0,424.9 122.5,423.9 123.0,423.0 123.5,422.1 124.0,421.2 124.5,420.4 125.0,419.6 125.5,418.9 126.0,418.2 126.5,417.5 127.0,416.9 127.5,416.3 128.0,415.8 128.5,415.3 129.0,414.8 129.5,414.4 130.0,414.1 130.5,413.8 131.0,413.5 131.5,413.3 132.0,413.2 132.5,413.1 133.0,413.0 133.5,413.0 134.0,413.1 134.5,413.2 135.0,413.3 135.5,413.4 136.0,413.6 136.5,413.8 137.0,414.0 137.5,414.2 138.0,414.4 138.5,414.7 139.0,414.9 139.5,415.2 140.0,415.5 140.5,415.9 141.0,416.2 141.5,416.5 142.0,416.9 142.5,417.3 143.0,417.7 143.5,418.1 144.0,418.5 144.5,419.0 145.0,419.4 145.5,419.9 146.0,420.4 146.5,420.9 147.0,421.4 147.5,421.9 148.0,422.4 148.5,423.0 149.0,423.5 149.5,424.1 150.0,424.7 150.5,425.3 151.0,425.9 151.5,426.5 152.0,427.1 152.5,427.8 153.0,428.4 153.5,429.1 154.0,429.8 154.5,430.5 155.0,431.2 155.5,431.9 156.0,432.6 156.5,433.3 157.0,434.1 157.5,434.8 158.0,435.6 158.5,436.3 159.0,437.1 159.5,437.9 160.0,438.7 160.5,439.5 161.0,440.3 161.5,441.2 162.0,442.0 162.5,442.9 163.0,443.7 163.5,444.6 164.0,445.4 164.5,446.3 165.0,447.2 165.5,448.1 166.0,449.0 166.5,449.9 167.0,450.8 167.5,451.8 168.0,452.7 168.5,453.6 169.0,454.6 169.5,455.5 170.0,456.5 170.5,457.5 171.0,458.4 171.5,459.4 172.0,460.4 172.5,461.4 173.0,462.4 173.5,463.4 174.0,464.4 174.5,465.4 175.0,466.4 175.5,467.4 176.0,468.5 176.5,469.5 177.0,470.5 177.5,471.6 178.0,472.6 178.5,473.7 179.0,474.7 179.5,475.8 180.0,476.8 180.5,477.9 181.0,478.9 181.5,480.0 182.0,479.7 182.5,479.3 183.0,479.0 183.5,478.1 184.0,476.8 184.5,475.5 185.0,474.2 185.5,473.0 186.0,473.1 186.5,473.6 187.0,473.3 187.5,472.9 188.0,470.9 188.5,468.2 189.0,465.5 189.5,461.0 190.0,456.3 190.5,451.2 191.0,444.7 191.5,437.8 192.0,430.4 192.5,422.6 193.0,410.5 193.5,391.7 194.0,367.5 194.5,335.5 195.0,296.9 195.5,253.9 196.0,204.3 196.5,154.2 197.0,125.9 197.5,110.0 198.0,116.5 198.5,128.6 199.0,165.6 199.5,216.0 200.0,269.2 200.5,317.7 201.0,349.9 201.5,372.7 202.0,382.0 202.5,388.5 203.0,390.7 203.5,389.9 204.0,384.5 204.5,375.4 205.0,350.9 205.5,322.7 206.0,289.2 206.5,259.7 207.0,236.0 207.5,226.3 208.0,225.9 208.5,237.6 209.0,259.2 209.5,301.9 210.0,345.3 210.5,389.4 211.0,416.6 211.5,439.8 212.0,450.6 212.5,461.5 213.0,467.5 213.5,472.2 214.0,477.0 214.5,479.4 215.0,481.8 215.5,484.1 216.0,486.4 216.5,487.2 217.0,488.0 217.5,488.8 218.0,489.6 218.5,490.3 219.0,491.1 219.5,491.3 220.0,491.6 220.5,491.9 221.0,492.2 221.5,492.4 222.0,492.7 222.5,492.9 223.0,493.1 223.5,493.3 224.0,493.5 224.5,493.6 225.0,493.7 225.5,493.8 226.0,494.0 226.5,494.1 227.0,494.2 227.5,494.3 228.0,494.4 228.5,494.5 229.0,494.6 229.5,494.8 230.0,494.9 230.5,494.9 231.0,495.0 231.5,495.0 232.0,495.1 232.5,495.1 233.0,495.2 233.5,495.2 234.0,495.3 234.5,495.3 235.0,495.4 235.5,495.5 236.0,495.5 236.5,495.6 237.0,495.7 237.5,495.8 238.0,495.8 238.5,495.9 239.0,496.0 239.5,496.0 240.0,496.1 240.5,496.2 241.0,496.2 241.5,496.3 242.0,496.4 242.5,496.4 243.0,496.5 243.5,496.6 244.0,496.7 244.5,496.7 245.0,496.8 245.5,496.9 246.0,496.9 246.5,497.0 247.0,497.1 247.5,497.1 248.0,497.2 248.5,497.3 249.0,497.4 249.5,497.4 250.0,497.5 250.5,497.6 251.0,497.6 251.5,497.7 252.0,497.8 252.5,497.8 253.0,497.9 253.5,497.9 254.0,498.0 254.5,498.1 255.0,498.1 255.5,498.2 256.0,498.3 256.5,498.3 257.0,498.4 257.5,498.4 258.0,498.5 258.5,498.6 259.0,498.6 259.5,498.7 260.0,498.8 260.5,498.8 261.0,498.9 261.5,499.0 262.0,499.0 262.5,499.1 263.0,499.1 263.5,499.2 264.0,499.3 264.5,499.3 265.0,499.4 265.5,499.3 266.0,499.3 266.5,499.2 267.0,499.2 267.5,499.1 268.0,499.1 268.5,499.0 269.0,499.0 269.5,498.9 270.0,498.9 270.5,498.8 271.0,498.8 271.5,498.7 272.0,498.7 272.5,498.6 273.0,498.5 273.5,498.5 274.0,498.4 274.5,498.4 275.0,498.3 275.5,498.3 276.0,498.2 276.5,498.2 277.0,498.1 277.5,498.1 278.0,498.0 278.5,498.0 279.0,497.9 279.5,497.9 280.0,497.8 280.5,497.7 281.0,497.6 281.5,497.5 282.0,497.4 282.5,497.3 283.0,497.2 283.5,497.1 284.0,497.0 284.5,496.9 285.0,496.8 285.5,496.6 286.0,496.5 286.5,496.4 287.0,496.3 287.5,496.2 288.0,496.1 288.5,496.0 289.0,495.9 289.5,495.8 290.0,495.7 290.5,495.6 291.0,495.5 291.5,495.4 292.0,495.2 292.5,495.1 293.0,495.0 293.5,494.9 294.0,494.8 294.5,494.7 295.0,494.6 295.5,494.4 296.0,494.3 296.5,494.2 297.0,494.1 297.5,494.0 298.0,493.9 298.5,493.8 299.0,493.6 299.5,493.5 300.0,493.4 300.5,493.3 301.0,493.1 301.5,492.9 302.0,492.8 302.5,492.6 303.0,492.5 303.5,492.3 304.0,492.2 304.5,492.0 305.0,491.8 305.5,491.7 306.0,491.5 306.5,491.4 307.0,491.2 307.5,491.1 308.0,491.0 308.5,490.9 309.0,490.8 309.5,490.7 310.0,490.6 310.5,490.5 311.0,490.4 311.5,490.3 312.0,490.2 312.5,490.1 313.0,490.0 313.5,489.9 314.0,489.8 314.5,489.7 315.0,489.9 315.5,490.1 316.0,490.2 316.5,490.4 317.0,490.5 317.5,490.7 318.0,490.9 318.5,491.0 319.0,491.2 319.5,491.3 320.0,491.5 320.5,491.6 321.0,491.8 321.5,491.9 322.0,492.1 322.5,492.2 323.0,492.4 323.5,492.5 324.0,492.6 324.5,492.8 325.0,492.9 325.5,493.1 326.0,493.2 326.5,493.4 327.0,493.5 327.5,493.6 328.0,493.6 328.5,493.7 329.0,493.7 329.5,493.8 330.0,493.8 330.5,493.9 331.0,494.0 331.5,494.0 332.0,494.1 332.5,494.1 333.0,494.2 333.5,494.2 334.0,494.3 334.5,494.4 335.0,494.4 335.5,494.5 336.0,494.5 336.5,494.6 337.0,494.7 337.5,494.7 338.0,494.8 338.5,494.8 339.0,494.9 339.5,494.9 340.0,495.0 340.5,495.0 341.0,494.9 341.5,494.9 342.0,494.9 342.5,494.8 343.0,494.8 343.5,494.8 344.0,494.7 344.5,494.7 345.0,494.7 345.5,494.6 346.0,494.6 346.5,494.6 347.0,494.5 347.5,494.5 348.0,494.5 348.5,494.4 349.0,494.4 349.5,494.4 350.0,494.3 350.5,494.3 351.0,494.3 351.5,494.2 352.0,494.2 352.5,494.2 353.0,494.1 353.5,494.1 354.0,494.1 354.5,494.0 355.0,494.0 355.5,493.9 356.0,493.8 356.5,493.7 357.0,493.6 357.5,493.5 358.0,493.4 358.5,493.3 359.0,493.3 359.5,493.2 360.0,493.1 360.5,493.0 361.0,492.9 361.5,492.8 362.0,492.7 362.5,492.6 363.0,492.5 363.5,492.4 364.0,492.3 364.5,492.2 365.0,492.1 365.5,492.0 366.0,491.9 366.5,491.9 367.0,491.8 367.5,491.7 368.0,491.6 368.5,491.5 369.0,491.4 369.5,491.3 370.0,491.2 370.5,491.0 371.0,490.8 371.5,490.6 372.0,490.4 372.5,490.2 373.0,490.0 373.5,489.8 374.0,489.6 374.5,489.4 375.0,489.2 375.5,489.0 376.0,488.8 376.5,488.6 377.0,488.4 377.5,488.2 378.0,488.0 378.5,487.4 379.0,486.8 379.5,486.2 380.0,485.6 380.5,485.0 381.0,484.4 381.5,483.8 382.0,483.2 382.5,482.6 383.0,482.0 383.5,480.8 384.0,479.7 384.5,478.5 385.0,477.3 385.5,476.2 386.0,475.1 386.5,472.8 387.0,470.4 387.5,468.0 388.0,465.5 388.5,463.1 389.0,456.0 389.5,448.8 390.0,441.6 390.5,430.8 391.0,414.7 391.5,398.5 392.0,368.3 392.5,334.4 393.0,295.0 393.5,252.0 394.0,202.2 394.5,147.9 395.0,104.7 395.5,64.0 396.0,99.9 396.5,134.9 397.0,186.6 397.5,236.9 398.0,268.1 398.5,298.4 399.0,319.7 399.5,338.5 400.0,356.1 400.5,372.3 401.0,387.1 401.5,400.1 402.0,410.6 402.5,417.6 403.0,424.3 403.5,427.9 404.0,431.5 404.5,434.9 405.0,437.2 405.5,439.4 406.0,441.6 406.5,443.7 407.0,444.9 407.5,444.8 408.0,444.7 408.5,444.6 409.0,444.5 409.5,444.3 410.0,443.3 410.5,442.4 411.0,441.4 411.5,440.5 412.0,439.5 412.5,438.6 413.0,437.4 413.5,436.1 414.0,434.9 414.5,433.7 415.0,432.5 415.5,431.4 416.0,430.3 416.5,429.5 417.0,428.7 417.5,427.9 418.0,427.1 418.5,426.4 419.0,425.7 419.5,425.0 420.0,425.1 420.5,425.2 421.0,425.4 421.5,425.5 422.0,425.7 422.5,425.9 423.0,426.1 423.5,426.3 424.0,426.6 424.5,426.8 425.0,427.1 425.5,427.3 426.0,427.6 426.5,428.8 427.0,430.0 427.5,431.2 428.0,432.5 428.5,433.7 429.0,434.9 429.5,436.7 430.0,438.4 430.5,440.1 431.0,441.9 431.5,443.6 432.0,445.4 432.5,447.4 433.0,449.3 433.5,451.3 434.0,453.3 434.5,455.3 435.0,457.3 435.5,459.2 436.0,461.1 436.5,463.1 437.0,465.0 437.5,467.0 438.0,468.9 438.5,469.5 439.0,470.0 439.5,470.6 440.0,471.1 440.5,471.7 441.0,472.2 441.5,472.8 442.0,473.3 442.5,473.6 443.0,473.9 443.5,474.1 444.0,474.4 444.5,474.7 445.0,474.9 445.5,475.2 446.0,475.5 446.5,475.8 447.0,476.0 447.5,476.2 448.0,476.5 448.5,476.7 449.0,476.9 449.5,477.1 450.0,477.4 450.5,477.6 451.0,477.8 451.5,477.8 452.0,477.9 452.5,477.9 453.0,477.9 453.5,477.9 454.0,477.9 454.5,477.9 455.0,478.0 455.5,478.0 456.0,477.8 456.5,477.4 457.0,477.0 457.5,476.6 458.0,476.2 458.5,475.7 459.0,475.3 459.5,474.9 460.0,474.5 460.5,473.9 461.0,473.3 461.5,472.7 462.0,472.1 462.5,471.5 463.0,470.9 463.5,469.9 464.0,468.8 464.5,467.8 465.0,466.7 465.5,465.6 466.0,464.2 466.5,462.7 467.0,461.3 467.5,459.8 468.0,456.4 468.5,452.9 469.0,446.1 469.5,437.3 470.0,425.4 470.5,406.5 471.0,383.2 471.5,361.7 472.0,351.9 472.5,345.0 473.0,347.7 473.5,350.4 474.0,354.4 474.5,358.7 475.0,362.9 475.5,367.1 476.0,370.6 476.5,374.1 477.0,377.5 477.5,380.9 478.0,384.3 478.5,387.4 479.0,390.4 479.5,393.4 480.0,396.4 480.5,399.4 481.0,402.3 481.5,404.2 482.0,406.2 482.5,408.1 483.0,410.0 483.5,411.5 484.0,412.3 484.5,413.1 485.0,414.0 485.5,416.4 486.0,418.7 486.5,421.1 487.0,424.3 487.5,427.5 488.0,429.9 488.5,429.3 489.0,428.8 489.5,428.2 490.0,426.2 490.5,424.3 491.0,422.3 491.5,420.3 492.0,418.3 492.5,416.3 493.0,414.3 493.5,411.6 494.0,409.0 494.5,406.3 495.0,401.5 495.5,397.6 496.0,395.0 496.5,397.4 497.0,399.7 497.5,401.1 498.0,402.5 498.5,403.9 499.0,405.2 499.5,405.9 500.0,406.6 500.5,407.3 501.0,408.0 501.5,408.7 502.0,409.4 502.5,410.1 503.0,410.8 503.5,411.4 504.0,412.1 504.5,412.8 505.0,413.5 505.5,414.1 506.0,414.7 506.5,415.3 507.0,415.9 507.5,416.5 508.0,417.1 508.5,417.6 509.0,417.7 509.5,417.0 510.0,416.2 510.5,415.5 511.0,414.8 511.5,414.0 512.0,413.3 512.5,412.3 513.0,411.4 513.5,410.5 514.0,409.5 514.5,408.6 515.0,407.6 515.5,406.7 516.0,405.7 516.5,404.5 517.0,403.3 517.5,402.2 518.0,401.0 518.5,399.8 519.0,398.6 519.5,397.4 520.0,396.2 520.5,394.5 521.0,392.8 521.5,391.2 522.0,389.5 522.5,387.8 523.0,386.1 523.5,384.4 524.0,382.7 524.5,380.7 525.0,378.6 525.5,376.6 526.0,374.5 526.5,372.5 527.0,370.4 527.5,368.3 528.0,366.2 528.5,363.8 529.0,361.4 529.5,359.0 530.0,356.5 530.5,354.1 531.0,351.6 531.5,348.9 532.0,346.2 532.5,343.5 533.0,340.8 533.5,338.0 534.0,336.3 534.5,334.6 535.0,332.8 535.5,331.1 536.0,331.0 536.5,333.6 537.0,336.2 537.5,338.7 538.0,341.0 538.5,343.3 539.0,345.5 539.5,347.8 540.0,350.0 540.5,347.4 541.0,344.8 541.5,342.1 542.0,339.5 542.5,336.8 543.0,333.0 543.5,329.1 544.0,325.3 544.5,321.4 545.0,317.4 545.5,313.7 546.0,309.9 546.5,306.1 547.0,302.2 547.5,298.4 548.0,292.3 548.5,286.1 549.0,279.9 549.5,273.7 550.0,265.4 550.5,257.1 551.0,248.8 551.5,240.3 552.0,231.0 552.5,221.7 553.0,212.2 553.5,203.7 554.0,196.7 554.5,189.6 555.0,182.4 555.5,178.7 556.0,175.0 556.5,178.9 557.0,182.9 557.5,191.0 558.0,199.1 558.5,207.1 559.0,215.9 559.5,224.6 560.0,233.3 560.5,241.9 561.0,248.2 561.5,254.5 562.0,260.7 562.5,266.9 563.0,273.0 563.5,279.1 564.0,285.2 564.5,291.2 565.0,295.1 565.5,299.0 566.0,302.9 566.5,305.7 567.0,303.9 567.5,302.1 568.0,300.4 568.5,298.6 569.0,295.6 569.5,292.5 570.0,289.4 570.5,286.3 571.0,283.0 571.5,279.6 572.0,276.3 572.5,274.7 573.0,273.2 573.5,272.6 574.0,275.4 574.5,278.2 575.0,283.5 575.5,289.4 576.0,295.2 576.5,301.9 577.0,308.5 577.5,315.1 578.0,321.6 578.5,327.0 579.0,332.3 579.5,337.5 580.0,342.7 580.5,345.5 581.0,348.3 581.5,351.1 582.0,353.8 582.5,356.6 583.0,357.6 583.5,358.7 584.0,359.8 584.5,360.9 585.0,361.9 585.5,362.0 586.0,362.1 586.5,362.2 587.0,362.3 587.5,362.4 588.0,362.5 588.5,362.6 589.0,362.7 589.5,362.8 590.0,362.9 590.5,363.1 591.0,363.5 591.5,363.9 592.0,364.3 592.5,364.7 593.0,365.2 593.5,365.9 594.0,366.5 594.5,367.1 595.0,367.7 595.5,369.2 596.0,370.7 596.5,372.2 597.0,373.7 597.5,375.2 598.0,376.7 598.5,378.3 599.0,379.8 599.5,381.4 600.0,382.9 600.5,384.5 601.0,386.1 601.5,387.2 602.0,388.4 602.5,389.6 603.0,390.8 603.5,391.9 604.0,393.1 604.5,393.6 605.0,394.0 605.5,394.2 606.0,394.4 606.5,394.7 607.0,391.1 607.5,387.6 608.0,384.0 608.5,377.9 609.0,368.0 609.5,358.1 610.0,348.1 610.5,342.0 611.0,352.2 611.5,362.3 612.0,372.3 612.5,382.2 613.0,386.2 613.5,388.8 614.0,391.3 614.5,393.8 615.0,394.8 615.5,395.8 616.0,396.9 616.5,397.9 617.0,398.9 617.5,399.7 618.0,400.4 618.5,401.2 619.0,402.0 619.5,401.9 620.0,401.6 620.5,401.4 621.0,401.1 621.5,400.9 622.0,400.6 622.5,399.8 623.0,399.0 623.5,398.2 624.0,397.3 624.5,396.5 625.0,395.7 625.5,394.9 626.0,394.2 626.5,393.4 627.0,392.5 627.5,391.6 628.0,390.7 628.5,389.8 629.0,388.9 629.5,388.0 630.0,387.1 630.5,386.2 631.0,385.3 631.5,384.3 632.0,383.4 632.5,382.5 633.0,381.6 633.5,380.7 634.0,379.8 634.5,379.0 635.0,378.0 635.5,377.0 636.0,376.0 636.5,375.0 637.0,374.0 637.5,372.9 638.0,371.9 638.5,370.8 639.0,369.7 639.5,368.7 640.0,367.7 640.5,366.9 641.0,366.2 641.5,365.5 642.0,364.8 642.5,364.1 643.0,363.5 643.5,362.8 644.0,362.1 644.5,361.4 645.0,360.8 645.5,360.1 646.0,359.4 646.5,358.8 647.0,357.9 647.5,357.1 648.0,356.3 648.5,355.5 649.0,354.6 649.5,353.8 650.0,353.0 650.5,352.2 651.0,351.4 651.5,350.6 652.0,349.7 652.5,348.8 653.0,348.0 653.5,347.1 654.0,346.3 654.5,345.5 655.0,344.6 655.5,343.8 656.0,343.0 656.5,341.8 657.0,340.4 657.5,339.0 658.0,337.6 658.5,336.2 659.0,334.8 659.5,333.4 660.0,332.0 660.5,330.3 661.0,328.5 661.5,326.8 662.0,325.0 662.5,323.3 663.0,321.6 663.5,319.8 664.0,318.1 664.5,316.3 665.0,314.4 665.5,312.4 666.0,310.5 666.5,308.6 667.0,306.7 667.5,305.2 668.0,303.8 668.5,302.3 669.0,300.9 669.5,299.4 670.0,298.0 670.5,294.3 671.0,290.7 671.5,286.9 672.0,283.2 672.5,279.4 673.0,273.4 673.5,267.2 674.0,261.1 674.5,248.5 675.0,235.8 675.5,223.1 676.0,210.4 676.5,200.5 677.0,195.0 677.5,199.5 678.0,204.0 678.5,208.5 679.0,213.0 679.5,217.5 680.0,222.0 680.5,223.0 681.0,224.0 681.5,225.0 682.0,226.0 682.5,227.0 683.0,228.0 683.5,229.0 684.0,230.0 684.5,230.3 685.0,230.7 685.5,231.0 686.0,231.3 686.5,231.7 687.0,232.0 687.5,232.3 688.0,232.7 688.5,233.0 689.0,233.3 689.5,233.7 690.0,234.0 690.5,234.2 691.0,234.3 691.5,234.5 692.0,234.6 692.5,234.8 693.0,234.9 693.5,235.1 694.0,235.2 694.5,235.4 695.0,235.5 695.5,235.7 696.0,235.8 696.5,236.0" fill="none" stroke="#800000" stroke-width="1.25" stroke-linejoin="round"/>
<polyline points="49.0,501.0 49.5,501.0 50.0,501.0 50.5,501.0 51.0,501.0 51.5,500.9 52.0,500.9 52.5,500.9 53.0,500.9 53.5,500.9 54.0,500.9 54.5,500.9 55.0,500.9 55.5,500.9 56.0,500.9 56.5,500.9 57.0,500.9 57.5,500.9 58.0,500.8 58.5,500.8 59.0,500.8 59.5,500.8 60.0,500.8 60.5,500.8 61.0,500.7 61.5,500.7 62.0,500.7 62.5,500.7 63.0,500.6 63.5,500.6 64.0,500.6 64.5,500.5 65.0,500.5 65.5,500.5 66.0,500.4 66.5,500.4 67.0,500.3 67.5,500.3 68.0,500.2 68.5,500.1 69.0,500.1 69.5,500.0 70.0,499.9 70.5,499.8 71.0,499.8 71.5,499.7 72.0,499.6 72.5,499.5 73.0,499.4 73.5,499.3 74.0,499.1 74.5,499.0 75.0,498.9 75.5,498.7 76.0,498.6 76.5,498.4 77.0,498.2 77.5,498.0 78.0,497.9 78.5,497.7 79.0,497.4 79.5,497.2 80.0,497.0 80.5,496.7 81.0,496.5 81.5,496.2 82.0,495.9 82.5,495.6 83.0,495.3 83.5,494.9 84.0,494.6 84.5,494.2 85.0,493.8 85.5,493.4 86.0,493.0 86.5,492.6 87.0,492.1 87.5,491.7 88.0,491.2 88.5,490.7 89.0,490.1 89.5,489.6 90.0,489.0 90.5,488.4 91.0,487.8 91.5,487.1 92.0,486.4 92.5,485.7 93.0,485.0 93.5,484.3 94.0,483.5 94.5,482.7 95.0,481.9 95.5,481.1 96.0,480.2 96.5,479.3 97.0,478.4 97.5,477.5 98.0,476.5 98.5,475.5 99.0,474.5 99.5,473.4 100.0,472.4 100.5,471.3 101.0,470.1 101.5,469.0 102.0,467.8 102.5,466.7 103.0,465.4 103.5,464.2 104.0,463.0 104.5,461.7 105.0,460.4 105.5,459.1 106.0,457.7 106.5,456.4 107.0,455.0 107.5,453.7 108.0,452.3 108.5,450.9 109.0,449.4 109.5,448.0 110.0,446.6 110.5,445.1 111.0,443.7 111.5,442.2 112.0,440.8 112.5,439.3 113.0,437.9 113.5,436.4 114.0,435.0 114.5,433.5 115.0,432.1 115.5,430.7 116.0,429.3 116.5,427.9 117.0,426.5 117.5,425.1 118.0,423.8 118.5,422.4 119.0,421.1 119.5,419.9 120.0,418.6 120.5,417.4 121.0,416.2 121.5,415.0 122.0,413.9 122.5,412.8 123.0,411.7 123.5,410.7 124.0,409.7 124.5,408.8 125.0,407.9 125.5,407.0 126.0,406.2 126.5,405.4 127.0,404.7 127.5,404.1 128.0,403.5 128.5,402.9 129.0,402.4 129.5,401.9 130.0,401.5 130.5,401.2 131.0,400.9 131.5,400.7 132.0,400.5 132.5,400.4 133.0,400.3 133.5,400.3 134.0,400.4 134.5,400.5 135.0,400.7 135.5,400.8 136.0,401.1 136.5,401.3 137.0,401.6 137.5,401.8 138.0,402.2 138.5,402.5 139.0,402.9 139.5,403.2 140.0,403.6 140.5,404.1 141.0,404.5 141.5,405.0 142.0,405.5 142.5,406.0 143.0,406.5 143.5,407.0 144.0,407.6 144.5,408.2 145.0,408.8 145.5,409.4 146.0,410.0 146.5,410.7 147.0,411.3 147.5,412.0 148.0,412.7 148.5,413.5 149.0,414.2 149.5,414.9 150.0,415.7 150.5,416.5 151.0,417.3 151.5,418.1 152.0,419.0 152.5,419.8 153.0,420.7 153.5,421.5 154.0,422.4 154.5,423.3 155.0,424.3 155.5,425.2 156.0,426.2 156.5,427.1 157.0,428.1 157.5,429.1 158.0,430.1 158.5,431.1 159.0,432.1 159.5,433.2 160.0,434.2 160.5,435.3 161.0,436.4 161.5,437.5 162.0,438.5 162.5,439.7 163.0,440.8 163.5,441.9 164.0,443.1 164.5,444.2 165.0,445.4 165.5,446.5 166.0,447.7 166.5,448.9 167.0,450.1 167.5,451.3 168.0,452.5 168.5,453.8 169.0,455.0 169.5,456.2 170.0,457.5 170.5,458.7 171.0,460.0 171.5,461.3 172.0,462.6 172.5,463.8 173.0,465.1 173.5,466.4 174.0,467.7 174.5,469.0 175.0,470.4 175.5,471.7 176.0,473.0 176.5,474.3 177.0,475.7 177.5,477.0 178.0,478.4 178.5,479.7 179.0,479.7 179.5,479.7 180.0,479.7 180.5,479.7 181.0,479.7 181.5,479.7 182.0,479.1 182.5,478.6 183.0,478.0 183.5,476.8 184.0,475.1 184.5,473.4 185.0,471.7 185.5,470.0 186.0,470.2 186.5,471.0 187.0,470.8 187.5,470.5 188.0,468.3 188.5,465.4 189.0,462.5 189.5,457.7 190.0,452.6 190.5,447.2 191.0,440.2 191.5,432.7 192.0,424.8 192.5,416.4 193.0,403.4 193.5,383.1 194.0,357.2 194.5,322.7 195.0,281.2 195.5,235.0 196.0,181.7 196.5,128.0 197.0,97.9 197.5,81.0 198.0,89.1 198.5,103.2 199.0,143.8 199.5,198.4 200.0,255.6 200.5,307.6 201.0,342.0 201.5,366.5 202.0,376.6 202.5,383.7 203.0,386.4 203.5,385.8 204.0,380.3 204.5,370.8 205.0,345.4 205.5,316.2 206.0,281.4 206.5,250.9 207.0,226.4 207.5,216.4 208.0,215.7 208.5,227.5 209.0,249.6 209.5,293.8 210.0,338.8 210.5,384.7 211.0,413.0 211.5,437.1 212.0,448.4 212.5,459.8 213.0,466.0 213.5,471.0 214.0,476.0 214.5,478.6 215.0,481.1 215.5,483.6 216.0,486.0 216.5,486.9 217.0,487.7 217.5,488.6 218.0,489.4 218.5,490.2 219.0,490.9 219.5,491.3 220.0,491.6 220.5,491.9 221.0,492.1 221.5,492.4 222.0,492.7 222.5,492.9 223.0,493.1 223.5,493.3 224.0,493.5 224.5,493.6 225.0,493.7 225.5,493.8 226.0,494.0 226.5,494.1 227.0,494.2 227.5,494.3 228.0,494.4 228.5,494.5 229.0,494.6 229.5,494.8 230.0,494.9 230.5,494.9 231.0,495.0 231.5,495.0 232.0,495.1 232.5,495.1 233.0,495.2 233.5,495.2 234.0,495.3 234.5,495.3 235.0,495.4 235.5,495.5 236.0,495.5 236.5,495.6 237.0,495.7 237.5,495.8 238.0,495.8 238.5,495.9 239.0,496.0 239.5,496.0 240.0,496.1 240.5,496.2 241.0,496.2 241.5,496.3 242.0,496.4 242.5,496.4 243.0,496.5 243.5,496.6 244.0,496.7 244.5,496.7 245.0,496.8 245.5,496.9 246.0,496.9 246.5,497.0 247.0,497.1 247.5,497.1 248.0,497.2 248.5,497.3 249.0,497.4 249.5,497.4 250.0,497.5 250.5,497.6 251.0,497.6 251.5,497.7 252.0,497.8 252.5,497.8 253.0,497.9 253.5,497.9 254.0,498.0 254.5,498.1 255.0,498.1 255.5,498.2 256.0,498.3 256.5,498.3 257.0,498.4 257.5,498.4 258.0,498.5 258.5,498.6 259.0,498.6 259.5,498.7 260.0,498.8 260.5,498.8 261.0,498.9 261.5,499.0 262.0,499.0 262.5,499.1 263.0,499.1 263.5,499.2 264.0,499.3 264.5,499.3 265.0,499.4 265.5,499.3 266.0,499.3 266.5,499.2 267.0,499.2 267.5,499.1 268.0,499.1 268.5,499.0 269.0,499.0 269.5,498.9 270.0,498.9 270.5,498.8 271.0,498.8 271.5,498.7 272.0,498.7 272.5,498.6 273.0,498.5 273.5,498.5 274.0,498.4 274.5,498.4 275.0,498.3 275.5,498.3 276.0,498.2 276.5,498.2 277.0,498.1 277.5,498.1 278.0,498.0 278.5,498.0 279.0,497.9 279.5,497.9 280.0,497.8 280.5,497.7 281.0,497.6 281.5,497.5 282.0,497.4 282.5,497.3 283.0,497.2 283.5,497.1 284.0,497.0 284.5,496.9 285.0,496.8 285.5,496.6 286.0,496.5 286.5,496.4 287.0,496.3 287.5,496.2 288.0,496.1 288.5,496.0 289.0,495.9 289.5,495.8 290.0,495.7 290.5,495.6 291.0,495.5 291.5,495.4 292.0,495.2 292.5,495.1 293.0,495.0 293.5,494.9 294.0,494.8 294.5,494.7 295.0,494.6 295.5,494.4 296.0,494.3 296.5,494.2 297.0,494.1 297.5,494.0 298.0,493.9 298.5,493.8 299.0,493.6 299.5,493.5 300.0,493.4 300.5,493.3 301.0,493.1 301.5,492.9 302.0,492.8 302.5,492.6 303.0,492.5 303.5,492.3 304.0,492.2 304.5,492.0 305.0,491.8 305.5,491.7 306.0,491.5 306.5,491.4 307.0,491.2 307.5,491.1 308.0,491.0 308.5,490.9 309.0,490.8 309.5,490.7 310.0,490.6 310.5,490.5 311.0,490.4 311.5,490.3 312.0,490.2 312.5,490.1 313.0,490.0 313.5,489.9 314.0,489.8 314.5,489.7 315.0,489.9 315.5,490.1 316.0,490.2 316.5,490.4 317.0,490.5 317.5,490.7 318.0,490.9 318.5,491.0 319.0,491.2 319.5,491.3 320.0,491.5 320.5,491.6 321.0,491.8 321.5,491.9 322.0,492.1 322.5,492.2 323.0,492.4 323.5,492.5 324.0,492.6 324.5,492.8 325.0,492.9 325.5,493.1 326.0,493.2 326.5,493.4 327.0,493.5 327.5,493.6 328.0,493.6 328.5,493.7 329.0,493.7 329.5,493.8 330.0,493.8 330.5,493.9 331.0,494.0 331.5,494.0 332.0,494.1 332.5,494.1 333.0,494.2 333.5,494.2 334.0,494.3 334.5,494.4 335.0,494.4 335.5,494.5 336.0,494.5 336.5,494.6 337.0,494.7 337.5,494.7 338.0,494.8 338.5,494.8 339.0,494.9 339.5,494.9 340.0,495.0 340.5,495.0 341.0,494.9 341.5,494.9 342.0,494.9 342.5,494.8 343.0,494.8 343.5,494.8 344.0,494.7 344.5,494.7 345.0,494.7 345.5,494.6 346.0,494.6 346.5,494.6 347.0,494.5 347.5,494.5 348.0,494.5 348.5,494.4 349.0,494.4 349.5,494.4 350.0,494.3 350.5,494.3 351.0,494.3 351.5,494.2 352.0,494.2 352.5,494.2 353.0,494.1 353.5,494.1 354.0,494.1 354.5,494.0 355.0,494.0 355.5,493.9 356.0,493.8 356.5,493.7 357.0,493.6 357.5,493.5 358.0,493.4 358.5,493.3 359.0,493.3 359.5,493.2 360.0,493.1 360.5,493.0 361.0,492.9 361.5,492.8 362.0,492.7 362.5,492.6 363.0,492.5 363.5,492.4 364.0,492.3 364.5,492.2 365.0,492.1 365.5,492.0 366.0,491.9 366.5,491.9 367.0,491.8 367.5,491.7 368.0,491.6 368.5,491.5 369.0,491.4 369.5,491.3 370.0,491.2 370.5,491.0 371.0,490.8 371.5,490.6 372.0,490.4 372.5,490.2 373.0,490.0 373.5,489.8 374.0,489.6 374.5,489.4 375.0,489.2 375.5,489.0 376.0,488.8 376.5,488.6 377.0,488.4 377.5,488.2 378.0,488.0 378.5,487.4 379.0,486.8 379.5,486.2 380.0,485.6 380.5,485.0 381.0,484.4 381.5,483.8 382.0,483.2 382.5,482.6 383.0,482.0 383.5,480.8 384.0,479.7 384.5,478.5 385.0,477.3 385.5,476.2 386.0,475.1 386.5,472.8 387.0,470.4 387.5,468.0 388.0,465.5 388.5,463.1 389.0,456.0 389.5,448.8 390.0,441.6 390.5,430.8 391.0,414.7 391.5,398.5 392.0,368.3 392.5,334.4 393.0,295.0 393.5,252.0 394.0,202.2 394.5,147.9 395.0,104.7 395.5,64.0 396.0,98.4 396.5,132.1 397.0,182.9 397.5,232.7 398.0,263.4 398.5,293.4 399.0,314.5 399.5,333.0 400.0,350.5 400.5,366.6 401.0,381.5 401.5,394.7 402.0,405.2 402.5,412.1 403.0,418.9 403.5,422.3 404.0,425.6 404.5,428.9 405.0,430.9 405.5,432.9 406.0,434.9 406.5,436.8 407.0,438.0 407.5,438.0 408.0,438.0 408.5,438.0 409.0,438.0 409.5,438.0 410.0,437.1 410.5,436.1 411.0,435.2 411.5,434.3 412.0,433.5 412.5,432.7 413.0,431.5 413.5,430.3 414.0,429.2 414.5,428.1 415.0,427.0 415.5,426.0 416.0,425.0 416.5,424.4 417.0,423.7 417.5,423.1 418.0,422.6 418.5,422.0 419.0,421.5 419.5,421.0 420.0,421.4 420.5,421.9 421.0,422.3 421.5,422.7 422.0,423.2 422.5,423.6 423.0,424.0 423.5,424.3 424.0,424.5 424.5,424.8 425.0,425.0 425.5,425.3 426.0,425.5 426.5,426.7 427.0,428.0 427.5,429.2 428.0,430.4 428.5,431.7 429.0,432.9 429.5,434.7 430.0,436.5 430.5,438.2 431.0,440.0 431.5,441.8 432.0,443.6 432.5,445.6 433.0,447.7 433.5,449.7 434.0,451.7 434.5,453.8 435.0,455.9 435.5,457.8 436.0,459.8 436.5,461.8 437.0,463.8 437.5,465.8 438.0,467.8 438.5,468.4 439.0,468.9 439.5,469.5 440.0,470.0 440.5,470.6 441.0,471.2 441.5,471.8 442.0,472.3 442.5,472.6 443.0,472.9 443.5,473.1 444.0,473.4 444.5,473.7 445.0,473.9 445.5,474.2 446.0,474.5 446.5,474.8 447.0,475.0 447.5,475.3 448.0,475.5 448.5,475.7 449.0,475.9 449.5,476.2 450.0,476.4 450.5,476.6 451.0,476.9 451.5,476.9 452.0,476.9 452.5,476.9 453.0,476.9 453.5,476.9 454.0,476.9 454.5,477.0 455.0,477.0 455.5,477.0 456.0,476.8 456.5,476.4 457.0,476.0 457.5,475.6 458.0,475.1 458.5,474.7 459.0,474.3 459.5,473.8 460.0,473.4 460.5,472.8 461.0,472.2 461.5,471.6 462.0,471.0 462.5,470.4 463.0,469.8 463.5,468.7 464.0,467.7 464.5,466.6 465.0,465.4 465.5,464.3 466.0,462.9 466.5,461.4 467.0,459.9 467.5,458.4 468.0,454.8 468.5,451.2 469.0,444.3 469.5,435.2 470.0,422.9 470.5,403.4 471.0,379.4 471.5,357.1 472.0,347.1 472.5,340.0 473.0,342.9 473.5,345.9 474.0,350.1 474.5,354.6 475.0,359.1 475.5,363.6 476.0,367.3 476.5,371.0 477.0,374.6 477.5,378.3 478.0,381.8 478.5,385.1 479.0,388.3 479.5,391.4 480.0,394.6 480.5,397.7 481.0,400.8 481.5,402.9 482.0,404.9 482.5,407.0 483.0,409.0 483.5,410.6 484.0,411.5 484.5,412.5 485.0,413.4 485.5,415.9 486.0,418.4 486.5,420.8 487.0,424.1 487.5,427.4 488.0,429.9 488.5,429.3 489.0,428.8 489.5,428.2 490.0,426.2 490.5,424.3 491.0,422.3 491.5,420.3 492.0,418.3 492.5,416.3 493.0,414.3 493.5,411.6 494.0,409.0 494.5,406.3 495.0,401.5 495.5,397.6 496.0,395.0 496.5,397.4 497.0,399.7 497.5,401.1 498.0,402.5 498.5,403.9 499.0,405.2 499.5,405.9 500.0,406.6 500.5,407.3 501.0,408.0 501.5,408.7 502.0,409.4 502.5,410.1 503.0,410.8 503.5,411.4 504.0,412.1 504.5,412.8 505.0,413.5 505.5,414.1 506.0,414.7 506.5,415.3 507.0,415.9 507.5,416.5 508.0,417.1 508.5,417.6 509.0,417.7 509.5,417.0 510.0,416.2 510.5,415.5 511.0,414.8 511.5,414.0 512.0,413.3 512.5,412.3 513.0,411.4 513.5,410.5 514.0,409.5 514.5,408.6 515.0,407.6 515.5,406.7 516.0,405.7 516.5,404.5 517.0,403.3 517.5,402.2 518.0,401.0 518.5,399.8 519.0,398.6 519.5,397.4 520.0,396.2 520.5,394.5 521.0,392.8 521.5,391.2 522.0,389.5 522.5,387.8 523.0,386.1 523.5,384.4 524.0,382.7 524.5,380.7 525.0,378.6 525.5,376.6 526.0,374.5 526.5,372.5 527.0,370.4 527.5,368.3 528.0,366.2 528.5,363.8 529.0,361.4 529.5,359.0 530.0,356.5 530.5,354.1 531.0,351.6 531.5,348.9 532.0,346.2 532.5,343.5 533.0,340.8 533.5,338.0 534.0,336.3 534.5,334.6 535.0,332.8 535.5,331.1 536.0,330.9 536.5,333.3 537.0,335.6 537.5,337.9 538.0,339.9 538.5,342.0 539.0,344.0 539.5,346.0 540.0,348.0 540.5,345.4 541.0,342.7 541.5,340.1 542.0,337.4 542.5,334.8 543.0,330.9 543.5,327.0 544.0,323.1 544.5,319.2 545.0,315.2 545.5,311.5 546.0,307.7 546.5,303.8 547.0,300.0 547.5,296.1 548.0,289.9 548.5,283.7 549.0,277.5 549.5,271.2 550.0,262.9 550.5,254.6 551.0,246.1 551.5,237.7 552.0,228.3 552.5,218.9 553.0,209.4 553.5,200.8 554.0,193.7 554.5,186.6 555.0,179.4 555.5,175.7 556.0,172.0 556.5,176.0 557.0,179.9 557.5,188.1 558.0,196.2 558.5,204.3 559.0,213.2 559.5,222.0 560.0,230.7 560.5,239.4 561.0,245.8 561.5,252.1 562.0,258.3 562.5,264.6 563.0,270.8 563.5,276.9 564.0,283.0 564.5,289.1 565.0,293.0 565.5,297.0 566.0,300.9 566.5,303.6 567.0,301.8 567.5,299.9 568.0,298.0 568.5,296.1 569.0,292.9 569.5,289.7 570.0,286.4 570.5,283.2 571.0,279.7 571.5,276.2 572.0,272.6 572.5,271.0 573.0,269.3 573.5,268.6 574.0,271.3 574.5,274.1 575.0,279.4 575.5,285.3 576.0,291.2 576.5,297.9 577.0,304.5 577.5,311.2 578.0,317.8 578.5,323.1 579.0,328.5 579.5,333.8 580.0,339.0 580.5,341.8 581.0,344.6 581.5,347.4 582.0,350.1 582.5,352.8 583.0,353.9 583.5,354.9 584.0,355.9 584.5,357.0 585.0,358.0 585.5,358.0 586.0,358.0 586.5,358.1 587.0,358.1 587.5,358.1 588.0,358.1 588.5,358.2 589.0,358.2 589.5,358.3 590.0,358.3 590.5,358.3 591.0,358.7 591.5,359.1 592.0,359.4 592.5,359.8 593.0,360.3 593.5,361.0 594.0,361.8 594.5,362.5 595.0,363.3 595.5,364.9 596.0,366.5 596.5,368.2 597.0,369.8 597.5,371.5 598.0,373.1 598.5,374.8 599.0,376.5 599.5,378.2 600.0,379.9 600.5,381.6 601.0,383.3 601.5,384.5 602.0,385.8 602.5,387.1 603.0,388.4 603.5,389.7 604.0,391.0 604.5,391.5 605.0,392.0 605.5,391.8 606.0,391.6 606.5,391.4 607.0,387.3 607.5,383.1 608.0,378.9 608.5,372.1 609.0,361.2 609.5,350.2 610.0,339.1 610.5,332.2 611.0,343.4 611.5,354.4 612.0,365.3 612.5,376.0 613.0,380.5 613.5,383.4 614.0,386.3 614.5,389.1 615.0,390.5 615.5,391.8 616.0,393.1 616.5,394.4 617.0,395.8 617.5,396.8 618.0,397.9 618.5,398.9 619.0,400.0 619.5,399.9 620.0,399.6 620.5,399.4 621.0,399.2 621.5,398.9 622.0,398.7 622.5,397.8 623.0,397.0 623.5,396.2 624.0,395.4 624.5,394.6 625.0,393.8 625.5,393.0 626.0,392.2 626.5,391.4 627.0,390.5 627.5,389.6 628.0,388.7 628.5,387.8 629.0,386.9 629.5,386.0 630.0,385.1 630.5,384.2 631.0,383.3 631.5,382.3 632.0,381.4 632.5,380.5 633.0,379.6 633.5,378.7 634.0,377.8 634.5,376.9 635.0,376.0 635.5,375.0 636.0,374.0 636.5,373.0 637.0,372.0 637.5,370.9 638.0,369.8 638.5,368.7 639.0,367.6 639.5,366.6 640.0,365.5 640.5,364.8 641.0,364.0 641.5,363.3 642.0,362.6 642.5,361.9 643.0,361.2 643.5,360.5 644.0,359.8 644.5,359.1 645.0,358.4 645.5,357.7 646.0,357.0 646.5,356.3 647.0,355.4 647.5,354.6 648.0,353.7 648.5,352.9 649.0,352.0 649.5,351.2 650.0,350.4 650.5,349.5 651.0,348.7 651.5,347.8 652.0,346.9 652.5,346.0 653.0,345.2 653.5,344.3 654.0,343.4 654.5,342.6 655.0,341.7 655.5,340.8 656.0,340.0 656.5,338.7 657.0,337.1 657.5,335.6 658.0,334.0 658.5,332.5 659.0,331.0 659.5,329.4 660.0,327.9 660.5,325.9 661.0,324.0 661.5,322.1 662.0,320.2 662.5,318.3 663.0,316.4 663.5,314.5 664.0,312.5 664.5,310.5 665.0,308.4 665.5,306.3 666.0,304.1 666.5,302.0 667.0,299.9 667.5,298.3 668.0,296.6 668.5,295.0 669.0,293.3 669.5,291.6 670.0,290.0 670.5,285.5 671.0,281.0 671.5,276.4 672.0,271.8 672.5,267.2 673.0,260.1 673.5,252.9 674.0,245.6 674.5,231.5 675.0,217.1 675.5,202.7 676.0,188.3 676.5,176.8 677.0,170.0 677.5,172.0 678.0,174.0 678.5,176.0 679.0,178.0 679.5,181.3 680.0,184.7 680.5,188.0 681.0,191.3 681.5,194.7 682.0,198.0 682.5,200.0 683.0,202.0 683.5,204.0 684.0,206.0 684.5,208.0 685.0,210.0 685.5,212.0 686.0,214.0 686.5,215.2 687.0,216.5 687.5,217.8 688.0,219.0 688.5,220.2 689.0,221.5 689.5,222.8 690.0,224.0 690.5,224.8 691.0,225.7 691.5,226.5 692.0,227.3 692.5,228.2 693.0,229.0 693.5,229.4 694.0,229.9 694.5,230.3 695.0,230.7 695.5,231.1 696.0,231.6 696.5,232.0" fill="none" stroke="#800000" stroke-width="1.25" stroke-linejoin="round"/>
<polyline points="49.0,501.0 49.5,501.0 50.0,501.0 50.5,501.0 51.0,501.0 51.5,501.0 52.0,501.0 52.5,501.0 53.0,500.9 53.5,500.9 54.0,500.9 54.5,500.9 55.0,500.9 55.5,500.9 56.0,500.9 56.5,500.9 57.0,500.9 57.5,500.9 58.0,500.9 58.5,500.9 59.0,500.8 59.5,500.8 60.0,500.8 60.5,500.8 61.0,500.8 61.5,500.8 62.0,500.7 62.5,500.7 63.0,500.7 63.5,500.7 64.0,500.6 64.5,500.6 65.0,500.6 65.5,500.5 66.0,500.5 66.5,500.5 67.0,500.4 67.5,500.4 68.0,500.3 68.5,500.3 69.0,500.2 69.5,500.2 70.0,500.1 70.5,500.0 71.0,500.0 71.5,499.9 72.0,499.8 72.5,499.7 73.0,499.6 73.5,499.5 74.0,499.4 74.5,499.3 75.0,499.2 75.5,499.1 76.0,498.9 76.5,498.8 77.0,498.6 77.5,498.5 78.0,498.3 78.5,498.1 79.0,498.0 79.5,497.8 80.0,497.6 80.5,497.3 81.0,497.1 81.5,496.9 82.0,496.6 82.5,496.3 83.0,496.1 83.5,495.8 84.0,495.5 84.5,495.1 85.0,494.8 85.5,494.4 86.0,494.1 86.5,493.7 87.0,493.3 87.5,492.8 88.0,492.4 88.5,491.9 89.0,491.4 89.5,490.9 90.0,490.4 90.5,489.9 91.0,489.3 91.5,488.7 92.0,488.1 92.5,487.5 93.0,486.8 93.5,486.1 94.0,485.4 94.5,484.7 95.0,483.9 95.5,483.2 96.0,482.4 96.5,481.5 97.0,480.7 97.5,479.8 98.0,478.9 98.5,478.0 99.0,477.0 99.5,476.1 100.0,475.1 100.5,474.0 101.0,473.0 101.5,471.9 102.0,470.8 102.5,469.7 103.0,468.5 103.5,467.4 104.0,466.2 104.5,465.0 105.0,463.7 105.5,462.5 106.0,461.2 106.5,459.9 107.0,458.6 107.5,457.2 108.0,455.9 108.5,454.5 109.0,453.2 109.5,451.8 110.0,450.4 110.5,449.0 111.0,447.5 111.5,446.1 112.0,444.7 112.5,443.2 113.0,441.8 113.5,440.3 114.0,438.9 114.5,437.5 115.0,436.0 115.5,434.6 116.0,433.2 116.5,431.7 117.0,430.3 117.5,428.9 118.0,427.6 118.5,426.2 119.0,424.8 119.5,423.5 120.0,422.2 120.5,420.9 121.0,419.7 121.5,418.4 122.0,417.2 122.5,416.1 123.0,414.9 123.5,413.8 124.0,412.8 124.5,411.7 125.0,410.7 125.5,409.8 126.0,408.9 126.5,408.0 127.0,407.2 127.5,406.4 128.0,405.7 128.5,405.0 129.0,404.4 129.5,403.8 130.0,403.3 130.5,402.8 131.0,402.4 131.5,402.0 132.0,401.7 132.5,401.5 133.0,401.3 133.5,401.1 134.0,401.0 134.5,401.0 135.0,401.0 135.5,401.1 136.0,401.3 136.5,401.4 137.0,401.6 137.5,401.8 138.0,402.1 138.5,402.3 139.0,402.6 139.5,402.9 140.0,403.2 140.5,403.5 141.0,403.9 141.5,404.3 142.0,404.7 142.5,405.1 143.0,405.5 143.5,406.0 144.0,406.5 144.5,406.9 145.0,407.4 145.5,408.0 146.0,408.5 146.5,409.1 147.0,409.6 147.5,410.2 148.0,410.8 148.5,411.5 149.0,412.1 149.5,412.7 150.0,413.4 150.5,414.1 151.0,414.8 151.5,415.5 152.0,416.2 152.5,417.0 153.0,417.7 153.5,418.5 154.0,419.3 154.5,420.1 155.0,420.9 155.5,421.7 156.0,422.5 156.5,423.4 157.0,424.3 157.5,425.1 158.0,426.0 158.5,426.9 159.0,427.8 159.5,428.8 160.0,429.7 160.5,430.6 161.0,431.6 161.5,432.6 162.0,433.5 162.5,434.5 163.0,435.5 163.5,436.6 164.0,437.6 164.5,438.6 165.0,439.7 165.5,440.7 166.0,441.8 166.5,442.8 167.0,443.9 167.5,445.0 168.0,446.1 168.5,447.2 169.0,448.3 169.5,449.5 170.0,450.6 170.5,451.7 171.0,452.9 171.5,454.0 172.0,455.2 172.5,456.4 173.0,457.5 173.5,458.7 174.0,459.9 174.5,461.1 175.0,462.3 175.5,463.5 176.0,464.7 176.5,466.0 177.0,467.2 177.5,468.4 178.0,469.6 178.5,470.9 179.0,472.1 179.5,473.4 180.0,474.6 180.5,475.9 181.0,477.1 181.5,478.4 182.0,478.0 182.5,477.6 183.0,477.2 183.5,476.0 184.0,474.5 184.5,473.0 185.0,471.5 185.5,470.0 186.0,470.4 186.5,471.3 187.0,471.2 187.5,470.9 188.0,468.9 188.5,466.2 189.0,463.4 189.5,458.8 190.0,453.9 190.5,448.8 191.0,442.1 191.5,434.9 192.0,427.4 192.5,419.4 193.0,407.0 193.5,387.7 194.0,362.8 194.5,329.9 195.0,290.4 195.5,246.3 196.0,195.6 196.5,144.5 197.0,115.9 197.5,100.0 198.0,106.9 198.5,119.5 199.0,157.6 199.5,209.4 200.0,263.9 200.5,313.7 201.0,346.6 201.5,370.1 202.0,379.7 202.5,386.3 203.0,388.6 203.5,387.9 204.0,382.4 204.5,373.1 205.0,348.1 205.5,319.4 206.0,285.3 206.5,255.3 207.0,231.2 207.5,221.3 208.0,220.3 208.5,231.5 209.0,252.9 209.5,296.3 210.0,340.5 210.5,385.7 211.0,413.6 211.5,437.5 212.0,448.6 212.5,459.9 213.0,466.1 213.5,471.0 214.0,476.0 214.5,478.6 215.0,481.1 215.5,483.6 216.0,486.0 216.5,486.9 217.0,487.7 217.5,488.6 218.0,489.4 218.5,490.2 219.0,490.9 219.5,491.3 220.0,491.6 220.5,491.9 221.0,492.1 221.5,492.4 222.0,492.7 222.5,492.9 223.0,493.1 223.5,493.3 224.0,493.5 224.5,493.6 225.0,493.7 225.5,493.8 226.0,494.0 226.5,494.1 227.0,494.2 227.5,494.3 228.0,494.4 228.5,494.5 229.0,494.6 229.5,494.8 230.0,494.9 230.5,494.9 231.0,494.9 231.5,495.0 232.0,495.0 232.5,495.1 233.0,495.1 233.5,495.2 234.0,495.2 234.5,495.2 235.0,495.3 235.5,495.3 236.0,495.4 236.5,495.4 237.0,495.5 237.5,495.6 238.0,495.6 238.5,495.7 239.0,495.7 239.5,495.8 240.0,495.9 240.5,495.9 241.0,496.0 241.5,496.0 242.0,496.1 242.5,496.1 243.0,496.2 243.5,496.3 244.0,496.3 244.5,496.4 245.0,496.4 245.5,496.5 246.0,496.5 246.5,496.6 247.0,496.7 247.5,496.7 248.0,496.8 248.5,496.8 249.0,496.9 249.5,496.9 250.0,497.0 250.5,497.1 251.0,497.1 251.5,497.2 252.0,497.3 252.5,497.3 253.0,497.4 253.5,497.5 254.0,497.5 254.5,497.6 255.0,497.7 255.5,497.7 256.0,497.8 256.5,497.9 257.0,497.9 257.5,498.0 258.0,498.1 258.5,498.1 259.0,498.2 259.5,498.3 260.0,498.3 260.5,498.4 261.0,498.5 261.5,498.5 262.0,498.6 262.5,498.7 263.0,498.7 263.5,498.8 264.0,498.9 264.5,498.9 265.0,499.0 265.5,499.0 266.0,499.0 266.5,498.9 267.0,498.9 267.5,498.9 268.0,498.9 268.5,498.9 269.0,498.8 269.5,498.8 270.0,498.8 270.5,498.8 271.0,498.8 271.5,498.7 272.0,498.7 272.5,498.7 273.0,498.7 273.5,498.7 274.0,498.7 274.5,498.6 275.0,498.6 275.5,498.6 276.0,498.6 276.5,498.6 277.0,498.5 277.5,498.5 278.0,498.5 278.5,498.5 279.0,498.5 279.5,498.4 280.0,498.4 280.5,498.3 281.0,498.3 281.5,498.2 282.0,498.1 282.5,498.1 283.0,498.0 283.5,497.9 284.0,497.9 284.5,497.8 285.0,497.7 285.5,497.6 286.0,497.6 286.5,497.5 287.0,497.4 287.5,497.4 288.0,497.3 288.5,497.2 289.0,497.1 289.5,497.1 290.0,497.0 290.5,496.9 291.0,496.8 291.5,496.6 292.0,496.5 292.5,496.4 293.0,496.3 293.5,496.2 294.0,496.0 294.5,495.9 295.0,495.8 295.5,495.7 296.0,495.6 296.5,495.4 297.0,495.3 297.5,495.2 298.0,495.1 298.5,495.0 299.0,494.8 299.5,494.7 300.0,494.6 300.5,494.4 301.0,494.3 301.5,494.1 302.0,493.9 302.5,493.8 303.0,493.6 303.5,493.4 304.0,493.3 304.5,493.1 305.0,493.0 305.5,492.8 306.0,492.6 306.5,492.5 307.0,492.3 307.5,492.2 308.0,492.1 308.5,492.0 309.0,491.9 309.5,491.8 310.0,491.7 310.5,491.5 311.0,491.4 311.5,491.3 312.0,491.2 312.5,491.1 313.0,491.0 313.5,490.9 314.0,490.8 314.5,490.7 315.0,490.9 315.5,491.1 316.0,491.2 316.5,491.4 317.0,491.6 317.5,491.7 318.0,491.9 318.5,492.1 319.0,492.2 319.5,492.4 320.0,492.6 320.5,492.7 321.0,492.9 321.5,493.0 322.0,493.2 322.5,493.3 323.0,493.5 323.5,493.6 324.0,493.8 324.5,493.9 325.0,494.1 325.5,494.2 326.0,494.4 326.5,494.5 327.0,494.6 327.5,494.7 328.0,494.8 328.5,494.8 329.0,494.9 329.5,495.0 330.0,495.0 330.5,495.1 331.0,495.2 331.5,495.2 332.0,495.3 332.5,495.3 333.0,495.4 333.5,495.5 334.0,495.5 334.5,495.6 335.0,495.7 335.5,495.7 336.0,495.8 336.5,495.9 337.0,495.9 337.5,496.0 338.0,496.0 338.5,496.1 339.0,496.2 339.5,496.2 340.0,496.3 340.5,496.3 341.0,496.2 341.5,496.2 342.0,496.1 342.5,496.1 343.0,496.1 343.5,496.0 344.0,496.0 344.5,496.0 345.0,495.9 345.5,495.9 346.0,495.8 346.5,495.8 347.0,495.8 347.5,495.7 348.0,495.7 348.5,495.6 349.0,495.6 349.5,495.6 350.0,495.5 350.5,495.5 351.0,495.5 351.5,495.4 352.0,495.4 352.5,495.3 353.0,495.3 353.5,495.3 354.0,495.2 354.5,495.2 355.0,495.1 355.5,495.1 356.0,495.0 356.5,494.9 357.0,494.8 357.5,494.7 358.0,494.6 358.5,494.5 359.0,494.4 359.5,494.3 360.0,494.2 360.5,494.1 361.0,494.0 361.5,493.9 362.0,493.8 362.5,493.7 363.0,493.6 363.5,493.5 364.0,493.4 364.5,493.3 365.0,493.2 365.5,493.1 366.0,493.0 366.5,492.9 367.0,492.8 367.5,492.7 368.0,492.6 368.5,492.5 369.0,492.4 369.5,492.3 370.0,492.2 370.5,492.0 371.0,491.8 371.5,491.6 372.0,491.4 372.5,491.2 373.0,491.0 373.5,490.8 374.0,490.6 374.5,490.4 375.0,490.2 375.5,490.0 376.0,489.8 376.5,489.6 377.0,489.4 377.5,489.2 378.0,489.0 378.5,488.4 379.0,487.8 379.5,487.2 380.0,486.6 380.5,486.0 381.0,485.4 381.5,484.8 382.0,484.2 382.5,483.6 383.0,483.0 383.5,481.8 384.0,480.7 384.5,479.5 385.0,478.3 385.5,477.1 386.0,475.9 386.5,473.3 387.0,470.8 387.5,468.2 388.0,465.6 388.5,463.0 389.0,455.6 389.5,448.0 390.0,440.5 390.5,429.2 391.0,412.4 391.5,395.3 392.0,363.9 392.5,328.4 393.0,287.2 393.5,241.9 394.0,189.5 394.5,132.1 395.0,86.0 395.5,42.5 396.0,79.7 396.5,116.0 397.0,169.9 397.5,222.5 398.0,255.1 398.5,286.9 399.0,309.1 399.5,328.7 400.0,347.2 400.5,364.1 401.0,379.7 401.5,393.4 402.0,404.4 402.5,411.7 403.0,418.8 403.5,422.5 404.0,426.2 404.5,429.7 405.0,432.0 405.5,434.3 406.0,436.5 406.5,438.7 407.0,440.0 407.5,440.0 408.0,440.0 408.5,440.1 409.0,440.1 409.5,440.2 410.0,439.3 410.5,438.4 411.0,437.6 411.5,436.8 412.0,436.0 412.5,435.2 413.0,434.1 413.5,433.0 414.0,432.0 414.5,431.0 415.0,430.0 415.5,429.1 416.0,428.2 416.5,427.6 417.0,427.0 417.5,426.5 418.0,426.0 418.5,425.6 419.0,425.2 419.5,424.8 420.0,425.2 420.5,425.7 421.0,426.1 421.5,426.6 422.0,427.1 422.5,427.6 423.0,428.0 423.5,428.3 424.0,428.5 424.5,428.7 425.0,428.9 425.5,429.1 426.0,429.4 426.5,430.5 427.0,431.7 427.5,432.8 428.0,434.0 428.5,435.1 429.0,436.3 429.5,438.0 430.0,439.7 430.5,441.3 431.0,443.0 431.5,444.7 432.0,446.4 432.5,448.3 433.0,450.2 433.5,452.2 434.0,454.1 434.5,456.1 435.0,458.0 435.5,459.9 436.0,461.8 436.5,463.6 437.0,465.5 437.5,467.4 438.0,469.4 438.5,469.9 439.0,470.4 439.5,470.9 440.0,471.5 440.5,472.0 441.0,472.5 441.5,473.1 442.0,473.6 442.5,473.9 443.0,474.1 443.5,474.4 444.0,474.6 444.5,474.9 445.0,475.2 445.5,475.4 446.0,475.7 446.5,475.9 447.0,476.2 447.5,476.4 448.0,476.6 448.5,476.8 449.0,477.0 449.5,477.2 450.0,477.5 450.5,477.7 451.0,477.9 451.5,477.9 452.0,477.9 452.5,477.9 453.0,477.9 453.5,477.9 454.0,478.0 454.5,478.0 455.0,478.0 455.5,478.0 456.0,477.9 456.5,477.5 457.0,477.2 457.5,476.9 458.0,476.6 458.5,476.2 459.0,475.9 459.5,475.6 460.0,475.2 460.5,474.8 461.0,474.3 461.5,473.8 462.0,473.3 462.5,472.8 463.0,472.3 463.5,471.4 464.0,470.5 464.5,469.6 465.0,468.6 465.5,467.7 466.0,466.5 466.5,465.2 467.0,463.9 467.5,462.7 468.0,459.5 468.5,456.4 469.0,450.3 469.5,442.2 470.0,431.4 470.5,414.2 471.0,393.0 471.5,373.5 472.0,364.8 472.5,358.8 473.0,361.1 473.5,363.3 474.0,366.8 474.5,370.5 475.0,374.2 475.5,377.9 476.0,380.9 476.5,383.9 477.0,386.9 477.5,389.9 478.0,392.9 478.5,395.5 479.0,398.2 479.5,400.8 480.0,403.4 480.5,406.0 481.0,408.6 481.5,410.3 482.0,412.0 482.5,413.6 483.0,415.3 483.5,416.5 484.0,417.2 484.5,417.8 485.0,418.5 485.5,420.6 486.0,422.7 486.5,424.8 487.0,427.8 487.5,430.7 488.0,432.9 488.5,432.4 489.0,431.9 489.5,431.4 490.0,429.5 490.5,427.6 491.0,425.8 491.5,423.9 492.0,422.0 492.5,420.1 493.0,418.2 493.5,415.7 494.0,413.2 494.5,410.7 495.0,406.2 495.5,402.5 496.0,400.0 496.5,402.2 497.0,404.4 497.5,405.7 498.0,407.0 498.5,408.3 499.0,409.5 499.5,410.2 500.0,410.8 500.5,411.4 501.0,412.0 501.5,412.6 502.0,413.3 502.5,413.9 503.0,414.5 503.5,415.1 504.0,415.7 504.5,416.3 505.0,416.9 505.5,417.5 506.0,418.0 506.5,418.6 507.0,419.1 507.5,419.6 508.0,420.2 508.5,420.7 509.0,420.8 509.5,420.2 510.0,419.6 510.5,419.1 511.0,418.5 511.5,417.9 512.0,417.4 512.5,416.6 513.0,415.9 513.5,415.1 514.0,414.4 514.5,413.6 515.0,412.9 515.5,412.1 516.0,411.4 516.5,410.4 517.0,409.4 517.5,408.5 518.0,407.5 518.5,406.6 519.0,405.6 519.5,404.6 520.0,403.7 520.5,402.3 521.0,400.9 521.5,399.5 522.0,398.2 522.5,396.8 523.0,395.4 523.5,394.0 524.0,392.6 524.5,390.9 525.0,389.3 525.5,387.6 526.0,385.9 526.5,384.2 527.0,382.5 527.5,380.8 528.0,379.1 528.5,377.1 529.0,375.1 529.5,373.1 530.0,371.1 530.5,369.1 531.0,367.2 531.5,364.9 532.0,362.7 532.5,360.5 533.0,358.3 533.5,356.1 534.0,354.8 534.5,353.4 535.0,352.1 535.5,350.8 536.0,350.3 536.5,351.1 537.0,351.9 537.5,352.7 538.0,353.4 538.5,354.0 539.0,354.6 539.5,355.3 540.0,356.0 540.5,353.1 541.0,350.1 541.5,347.1 542.0,344.1 542.5,341.1 543.0,336.9 543.5,332.7 544.0,328.4 544.5,324.1 545.0,319.8 545.5,315.6 546.0,311.3 546.5,307.1 547.0,302.7 547.5,298.4 548.0,291.8 548.5,285.0 549.0,278.3 549.5,271.4 550.0,262.5 550.5,253.5 551.0,244.5 551.5,235.3 552.0,225.2 552.5,214.9 553.0,204.6 553.5,195.2 554.0,187.3 554.5,179.2 555.0,171.1 555.5,166.6 556.0,162.0 556.5,167.0 557.0,171.9 557.5,181.1 558.0,190.3 558.5,199.3 559.0,209.2 559.5,218.9 560.0,228.5 560.5,238.0 561.0,245.1 561.5,252.2 562.0,259.2 562.5,266.1 563.0,272.9 563.5,279.7 564.0,286.4 564.5,293.0 565.0,297.5 565.5,302.0 566.0,306.5 566.5,309.6 567.0,307.6 567.5,305.6 568.0,303.5 568.5,301.5 569.0,298.2 569.5,294.8 570.0,291.5 570.5,288.1 571.0,284.5 571.5,280.8 572.0,277.2 572.5,275.3 573.0,273.5 573.5,272.6 574.0,275.3 574.5,278.1 575.0,283.4 575.5,289.2 576.0,295.0 576.5,301.7 577.0,308.3 577.5,314.8 578.0,321.4 578.5,326.7 579.0,331.9 579.5,337.2 580.0,342.4 580.5,345.2 581.0,347.9 581.5,350.7 582.0,353.4 582.5,356.1 583.0,357.2 583.5,358.2 584.0,359.3 584.5,360.3 585.0,361.4 585.5,361.4 586.0,361.5 586.5,361.5 587.0,361.6 587.5,361.7 588.0,361.8 588.5,361.8 589.0,361.9 589.5,362.0 590.0,362.1 590.5,362.2 591.0,362.6 591.5,363.0 592.0,363.4 592.5,363.8 593.0,364.3 593.5,365.1 594.0,365.9 594.5,366.6 595.0,367.4 595.5,369.0 596.0,370.7 596.5,372.3 597.0,373.9 597.5,375.6 598.0,377.2 598.5,378.9 599.0,380.6 599.5,382.2 600.0,383.9 600.5,385.6 601.0,387.3 601.5,388.6 602.0,389.8 602.5,391.1 603.0,392.4 603.5,393.7 604.0,394.9 604.5,395.5 605.0,396.0 605.5,395.6 606.0,395.2 606.5,394.8 607.0,390.6 607.5,386.3 608.0,382.0 608.5,375.2 609.0,364.3 609.5,353.3 610.0,342.1 610.5,335.2 611.0,346.0 611.5,356.7 612.0,367.2 612.5,377.7 613.0,382.0 613.5,384.8 614.0,387.5 614.5,390.2 615.0,391.4 615.5,392.7 616.0,393.9 616.5,395.0 617.0,396.2 617.5,397.2 618.0,398.1 618.5,399.1 619.0,400.0 619.5,400.0 620.0,399.8 620.5,399.6 621.0,399.5 621.5,399.3 622.0,399.2 622.5,398.4 623.0,397.7 623.5,396.9 624.0,396.2 624.5,395.5 625.0,394.8 625.5,394.1 626.0,393.4 626.5,392.7 627.0,391.9 627.5,391.1 628.0,390.3 628.5,389.5 629.0,388.8 629.5,388.0 630.0,387.2 630.5,386.4 631.0,385.6 631.5,384.8 632.0,384.0 632.5,383.2 633.0,382.5 633.5,381.7 634.0,381.0 634.5,380.2 635.0,379.4 635.5,378.5 636.0,377.7 636.5,376.8 637.0,376.0 637.5,374.9 638.0,373.9 638.5,372.8 639.0,371.8 639.5,370.7 640.0,369.7 640.5,369.0 641.0,368.3 641.5,367.6 642.0,366.9 642.5,366.2 643.0,365.5 643.5,364.8 644.0,364.1 644.5,363.5 645.0,362.8 645.5,362.1 646.0,361.5 646.5,360.8 647.0,360.0 647.5,359.1 648.0,358.3 648.5,357.5 649.0,356.7 649.5,355.8 650.0,355.0 650.5,354.2 651.0,353.4 651.5,352.6 652.0,351.7 652.5,350.9 653.0,350.0 653.5,349.2 654.0,348.3 654.5,347.5 655.0,346.6 655.5,345.8 656.0,345.0 656.5,343.8 657.0,342.4 657.5,341.0 658.0,339.6 658.5,338.2 659.0,336.8 659.5,335.4 660.0,334.0 660.5,332.3 661.0,330.5 661.5,328.8 662.0,327.1 662.5,325.3 663.0,323.6 663.5,321.9 664.0,320.1 664.5,318.3 665.0,316.4 665.5,314.5 666.0,312.6 666.5,310.6 667.0,308.7 667.5,307.3 668.0,305.8 668.5,304.4 669.0,302.9 669.5,301.4 670.0,300.0 670.5,295.2 671.0,290.3 671.5,285.4 672.0,280.4 672.5,275.3 673.0,267.9 673.5,260.4 674.0,252.8 674.5,238.4 675.0,223.8 675.5,209.1 676.0,194.3 676.5,182.4 677.0,175.0 677.5,174.2 678.0,173.5 678.5,172.8 679.0,172.0 679.5,174.2 680.0,176.5 680.5,178.8 681.0,181.0 681.5,183.2 682.0,185.5 682.5,187.8 683.0,190.0 683.5,192.0 684.0,194.0 684.5,196.0 685.0,198.0 685.5,200.0 686.0,202.0 686.5,204.0 687.0,206.0 687.5,208.0 688.0,210.0 688.5,211.5 689.0,213.0 689.5,214.5 690.0,216.0 690.5,217.5 691.0,219.0 691.5,220.5 692.0,222.0 692.5,223.3 693.0,224.7 693.5,226.0 694.0,227.3 694.5,228.7 695.0,230.0 695.5,231.3 696.0,232.7 696.5,234.0" fill="none" stroke="#00ee00" stroke-width="1.25" stroke-linejoin="round"/>
<polyline points="49.0,501.0 49.5,500.9 50.0,500.9 50.5,500.9 51.0,500.9 51.5,500.9 52.0,500.9 52.5,500.9 53.0,500.9 53.5,500.9 54.0,500.9 54.5,500.9 55.0,500.8 55.5,500.8 56.0,500.8 56.5,500.8 57.0,500.8 57.5,500.8 58.0,500.7 58.5,500.7 59.0,500.7 59.5,500.7 60.0,500.6 60.5,500.6 61.0,500.6 61.5,500.5 62.0,500.5 62.5,500.5 63.0,500.4 63.5,500.4 64.0,500.3 64.5,500.3 65.0,500.2 65.5,500.1 66.0,500.1 66.5,500.0 67.0,499.9 67.5,499.8 68.0,499.7 68.5,499.7 69.0,499.5 69.5,499.4 70.0,499.3 70.5,499.2 71.0,499.1 71.5,498.9 72.0,498.8 72.5,498.6 73.0,498.4 73.5,498.3 74.0,498.1 74.5,497.9 75.0,497.7 75.5,497.4 76.0,497.2 76.5,496.9 77.0,496.7 77.5,496.4 78.0,496.1 78.5,495.8 79.0,495.4 79.5,495.1 80.0,494.7 80.5,494.3 81.0,493.9 81.5,493.5 82.0,493.0 82.5,492.6 83.0,492.1 83.5,491.5 84.0,491.0 84.5,490.4 85.0,489.8 85.5,489.2 86.0,488.5 86.5,487.9 87.0,487.1 87.5,486.4 88.0,485.6 88.5,484.8 89.0,484.0 89.5,483.1 90.0,482.2 90.5,481.3 91.0,480.3 91.5,479.3 92.0,478.2 92.5,477.1 93.0,476.0 93.5,474.9 94.0,473.7 94.5,472.4 95.0,471.1 95.5,469.8 96.0,468.5 96.5,467.1 97.0,465.6 97.5,464.2 98.0,462.7 98.5,461.1 99.0,459.5 99.5,457.9 100.0,456.2 100.5,454.5 101.0,452.7 101.5,451.0 102.0,449.1 102.5,447.3 103.0,445.4 103.5,443.5 104.0,441.5 104.5,439.5 105.0,437.5 105.5,435.4 106.0,433.3 106.5,431.2 107.0,429.1 107.5,427.0 108.0,424.8 108.5,422.6 109.0,420.4 109.5,418.1 110.0,415.9 110.5,413.6 111.0,411.4 111.5,409.1 112.0,406.8 112.5,404.6 113.0,402.3 113.5,400.0 114.0,397.8 114.5,395.5 115.0,393.3 115.5,391.0 116.0,388.8 116.5,386.6 117.0,384.5 117.5,382.3 118.0,380.2 118.5,378.1 119.0,376.1 119.5,374.1 120.0,372.1 120.5,370.2 121.0,368.3 121.5,366.5 122.0,364.7 122.5,363.0 123.0,361.3 123.5,359.7 124.0,358.2 124.5,356.7 125.0,355.3 125.5,354.0 126.0,352.7 126.5,351.5 127.0,350.4 127.5,349.4 128.0,348.4 128.5,347.6 129.0,346.8 129.5,346.1 130.0,345.4 130.5,344.9 131.0,344.4 131.5,344.1 132.0,343.8 132.5,343.6 133.0,343.5 133.5,343.5 134.0,343.6 134.5,343.8 135.0,344.0 135.5,344.3 136.0,344.6 136.5,344.9 137.0,345.3 137.5,345.7 138.0,346.2 138.5,346.7 139.0,347.2 139.5,347.7 140.0,348.3 140.5,348.9 141.0,349.5 141.5,350.2 142.0,350.9 142.5,351.6 143.0,352.4 143.5,353.1 144.0,353.9 144.5,354.8 145.0,355.6 145.5,356.5 146.0,357.4 146.5,358.4 147.0,359.3 147.5,360.3 148.0,361.3 148.5,362.3 149.0,363.4 149.5,364.5 150.0,365.6 150.5,366.7 151.0,367.9 151.5,369.0 152.0,370.2 152.5,371.5 153.0,372.7 153.5,373.9 154.0,375.2 154.5,376.5 155.0,377.9 155.5,379.2 156.0,380.6 156.5,381.9 157.0,383.3 157.5,384.8 158.0,386.2 158.5,387.7 159.0,389.2 159.5,390.6 160.0,392.2 160.5,393.7 161.0,395.2 161.5,396.8 162.0,398.4 162.5,400.0 163.0,401.6 163.5,403.2 164.0,404.9 164.5,406.6 165.0,408.2 165.5,409.9 166.0,411.6 166.5,413.4 167.0,415.1 167.5,416.9 168.0,418.6 168.5,420.4 169.0,422.2 169.5,424.0 170.0,425.8 170.5,427.6 171.0,429.5 171.5,431.3 172.0,433.2 172.5,435.1 173.0,437.0 173.5,438.8 174.0,440.8 174.5,442.7 175.0,444.6 175.5,446.5 176.0,448.5 176.5,450.4 177.0,452.4 177.5,454.3 178.0,456.3 178.5,458.3 179.0,460.3 179.5,462.3 180.0,464.3 180.5,466.3 181.0,468.3 181.5,470.3 182.0,469.4 182.5,468.6 183.0,467.7 183.5,465.7 184.0,463.1 184.5,460.4 185.0,457.7 185.5,455.0 186.0,457.2 186.5,459.9 187.0,460.8 187.5,461.5 188.0,459.5 188.5,456.8 189.0,454.0 189.5,448.9 190.0,443.6 190.5,438.1 191.0,430.8 191.5,423.2 192.0,415.1 192.5,406.7 193.0,393.4 193.5,372.3 194.0,345.3 194.5,309.7 195.0,267.1 195.5,220.2 196.0,166.5 196.5,113.1 197.0,84.6 197.5,70.0 198.0,78.3 198.5,92.7 199.0,134.3 199.5,190.3 200.0,249.1 200.5,302.5 201.0,337.8 201.5,362.9 202.0,373.4 202.5,380.6 203.0,383.4 203.5,382.6 204.0,376.5 204.5,366.3 205.0,339.5 205.5,308.6 206.0,271.8 206.5,239.3 207.0,212.8 207.5,201.6 208.0,199.8 208.5,211.2 209.0,233.7 209.5,280.0 210.0,327.5 210.5,376.2 211.0,406.4 211.5,432.3 212.0,444.3 212.5,456.6 213.0,463.2 213.5,468.5 214.0,474.0 214.5,477.0 215.0,479.8 215.5,482.6 216.0,485.2 216.5,486.2 217.0,487.2 217.5,488.1 218.0,489.0 218.5,489.9 219.0,490.7 219.5,491.1 220.0,491.4 220.5,491.8 221.0,492.1 221.5,492.4 222.0,492.7 222.5,492.9 223.0,493.1 223.5,493.3 224.0,493.5 224.5,493.6 225.0,493.7 225.5,493.8 226.0,494.0 226.5,494.1 227.0,494.2 227.5,494.3 228.0,494.4 228.5,494.5 229.0,494.6 229.5,494.8 230.0,494.9 230.5,494.9 231.0,495.0 231.5,495.0 232.0,495.1 232.5,495.1 233.0,495.2 233.5,495.2 234.0,495.3 234.5,495.3 235.0,495.4 235.5,495.5 236.0,495.5 236.5,495.6 237.0,495.7 237.5,495.8 238.0,495.8 238.5,495.9 239.0,496.0 239.5,496.0 240.0,496.1 240.5,496.2 241.0,496.2 241.5,496.3 242.0,496.4 242.5,496.4 243.0,496.5 243.5,496.6 244.0,496.7 244.5,496.7 245.0,496.8 245.5,496.9 246.0,496.9 246.5,497.0 247.0,497.1 247.5,497.1 248.0,497.2 248.5,497.3 249.0,497.4 249.5,497.4 250.0,497.5 250.5,497.6 251.0,497.6 251.5,497.7 252.0,497.8 252.5,497.8 253.0,497.9 253.5,497.9 254.0,498.0 254.5,498.1 255.0,498.1 255.5,498.2 256.0,498.3 256.5,498.3 257.0,498.4 257.5,498.4 258.0,498.5 258.5,498.6 259.0,498.6 259.5,498.7 260.0,498.8 260.5,498.8 261.0,498.9 261.5,499.0 262.0,499.0 262.5,499.1 263.0,499.1 263.5,499.2 264.0,499.3 264.5,499.3 265.0,499.4 265.5,499.3 266.0,499.3 266.5,499.2 267.0,499.2 267.5,499.1 268.0,499.1 268.5,499.0 269.0,499.0 269.5,498.9 270.0,498.9 270.5,498.8 271.0,498.8 271.5,498.7 272.0,498.7 272.5,498.6 273.0,498.5 273.5,498.5 274.0,498.4 274.5,498.4 275.0,498.3 275.5,498.3 276.0,498.2 276.5,498.2 277.0,498.1 277.5,498.1 278.0,498.0 278.5,498.0 279.0,497.9 279.5,497.9 280.0,497.8 280.5,497.7 281.0,497.6 281.5,497.5 282.0,497.4 282.5,497.3 283.0,497.2 283.5,497.1 284.0,497.0 284.5,496.9 285.0,496.8 285.5,496.6 286.0,496.5 286.5,496.4 287.0,496.3 287.5,496.2 288.0,496.1 288.5,496.0 289.0,495.9 289.5,495.8 290.0,495.7 290.5,495.6 291.0,495.5 291.5,495.4 292.0,495.2 292.5,495.1 293.0,495.0 293.5,494.9 294.0,494.8 294.5,494.7 295.0,494.6 295.5,494.4 296.0,494.3 296.5,494.2 297.0,494.1 297.5,494.0 298.0,493.9 298.5,493.8 299.0,493.6 299.5,493.5 300.0,493.4 300.5,493.3 301.0,493.1 301.5,492.9 302.0,492.8 302.5,492.6 303.0,492.5 303.5,492.3 304.0,492.2 304.5,492.0 305.0,491.8 305.5,491.7 306.0,491.5 306.5,491.4 307.0,491.2 307.5,491.1 308.0,491.0 308.5,490.9 309.0,490.8 309.5,490.7 310.0,490.6 310.5,490.5 311.0,490.4 311.5,490.3 312.0,490.2 312.5,490.1 313.0,490.0 313.5,489.9 314.0,489.8 314.5,489.7 315.0,489.9 315.5,490.1 316.0,490.2 316.5,490.4 317.0,490.5 317.5,490.7 318.0,490.9 318.5,491.0 319.0,491.2 319.5,491.3 320.0,491.5 320.5,491.6 321.0,491.8 321.5,491.9 322.0,492.1 322.5,492.2 323.0,492.4 323.5,492.5 324.0,492.6 324.5,492.8 325.0,492.9 325.5,493.1 326.0,493.2 326.5,493.4 327.0,493.5 327.5,493.6 328.0,493.6 328.5,493.7 329.0,493.7 329.5,493.8 330.0,493.8 330.5,493.9 331.0,494.0 331.5,494.0 332.0,494.1 332.5,494.1 333.0,494.2 333.5,494.2 334.0,494.3 334.5,494.4 335.0,494.4 335.5,494.5 336.0,494.5 336.5,494.6 337.0,494.7 337.5,494.7 338.0,494.8 338.5,494.8 339.0,494.9 339.5,494.9 340.0,495.0 340.5,495.0 341.0,494.9 341.5,494.9 342.0,494.9 342.5,494.8 343.0,494.8 343.5,494.8 344.0,494.7 344.5,494.7 345.0,494.7 345.5,494.6 346.0,494.6 346.5,494.6 347.0,494.5 347.5,494.5 348.0,494.5 348.5,494.4 349.0,494.4 349.5,494.4 350.0,494.3 350.5,494.3 351.0,494.3 351.5,494.2 352.0,494.2 352.5,494.2 353.0,494.1 353.5,494.1 354.0,494.1 354.5,494.0 355.0,494.0 355.5,493.9 356.0,493.8 356.5,493.7 357.0,493.6 357.5,493.5 358.0,493.4 358.5,493.3 359.0,493.3 359.5,493.2 360.0,493.1 360.5,493.0 361.0,492.9 361.5,492.8 362.0,492.7 362.5,492.6 363.0,492.5 363.5,492.4 364.0,492.3 364.5,492.2 365.0,492.1 365.5,492.0 366.0,491.9 366.5,491.9 367.0,491.8 367.5,491.7 368.0,491.6 368.5,491.5 369.0,491.4 369.5,491.3 370.0,491.2 370.5,491.0 371.0,490.8 371.5,490.6 372.0,490.4 372.5,490.2 373.0,490.0 373.5,489.8 374.0,489.6 374.5,489.4 375.0,489.2 375.5,489.0 376.0,488.8 376.5,488.6 377.0,488.4 377.5,488.2 378.0,488.0 378.5,487.4 379.0,486.8 379.5,486.2 380.0,485.6 380.5,485.0 381.0,484.4 381.5,483.8 382.0,483.2 382.5,482.6 383.0,482.0 383.5,480.8 384.0,479.7 384.5,478.5 385.0,477.3 385.5,476.2 386.0,475.0 386.5,472.6 387.0,470.2 387.5,467.7 388.0,465.2 388.5,462.7 389.0,455.4 389.5,448.1 390.0,440.7 390.5,429.6 391.0,413.1 391.5,396.4 392.0,365.4 392.5,330.5 393.0,289.9 393.5,245.4 394.0,194.0 394.5,137.6 395.0,92.5 395.5,50.0 396.0,84.2 396.5,117.9 397.0,169.6 397.5,220.5 398.0,251.7 398.5,282.6 399.0,304.0 399.5,322.9 400.0,340.9 400.5,357.5 401.0,372.9 401.5,386.6 402.0,397.5 402.5,404.6 403.0,411.5 403.5,414.9 404.0,418.2 404.5,421.5 405.0,423.4 405.5,425.2 406.0,427.1 406.5,428.9 407.0,430.0 407.5,429.9 408.0,429.8 408.5,429.7 409.0,429.6 409.5,429.6 410.0,428.4 410.5,427.3 411.0,426.1 411.5,425.0 412.0,424.0 412.5,422.9 413.0,421.5 413.5,420.0 414.0,418.6 414.5,417.2 415.0,415.9 415.5,414.6 416.0,413.3 416.5,412.4 417.0,411.6 417.5,410.7 418.0,409.9 418.5,409.2 419.0,408.4 419.5,407.7 420.0,408.0 420.5,408.3 421.0,408.6 421.5,409.0 422.0,409.3 422.5,409.7 423.0,410.0 423.5,410.3 424.0,410.6 424.5,410.8 425.0,411.1 425.5,411.3 426.0,411.6 426.5,413.0 427.0,414.4 427.5,415.8 428.0,417.3 428.5,418.7 429.0,420.2 429.5,422.2 430.0,424.3 430.5,426.4 431.0,428.5 431.5,430.6 432.0,432.7 432.5,435.1 433.0,437.5 433.5,439.9 434.0,442.3 434.5,444.7 435.0,447.2 435.5,449.5 436.0,451.8 436.5,454.2 437.0,456.6 437.5,458.9 438.0,461.3 438.5,462.0 439.0,462.6 439.5,463.3 440.0,464.0 440.5,464.6 441.0,465.3 441.5,466.0 442.0,466.6 442.5,467.0 443.0,467.3 443.5,467.6 444.0,467.9 444.5,468.2 445.0,468.5 445.5,468.8 446.0,469.2 446.5,469.5 447.0,469.8 447.5,470.0 448.0,470.3 448.5,470.6 449.0,470.8 449.5,471.1 450.0,471.4 450.5,471.6 451.0,471.9 451.5,471.9 452.0,471.9 452.5,471.9 453.0,471.9 453.5,472.0 454.0,472.0 454.5,472.0 455.0,472.0 455.5,472.0 456.0,471.8 456.5,471.4 457.0,470.9 457.5,470.5 458.0,470.1 458.5,469.6 459.0,469.2 459.5,468.7 460.0,468.3 460.5,467.6 461.0,467.0 461.5,466.3 462.0,465.7 462.5,465.0 463.0,464.4 463.5,463.2 464.0,462.0 464.5,460.8 465.0,459.5 465.5,458.3 466.0,456.7 466.5,455.0 467.0,453.4 467.5,451.7 468.0,447.6 468.5,443.5 469.0,435.6 469.5,425.2 470.0,411.2 470.5,388.9 471.0,361.5 471.5,336.2 472.0,324.9 472.5,317.0 473.0,320.7 473.5,324.4 474.0,329.5 474.5,334.9 475.0,340.3 475.5,345.7 476.0,350.2 476.5,354.6 477.0,359.0 477.5,363.3 478.0,367.6 478.5,371.5 479.0,375.3 479.5,379.1 480.0,382.9 480.5,386.6 481.0,390.2 481.5,392.8 482.0,395.3 482.5,397.7 483.0,400.2 483.5,402.1 484.0,403.4 484.5,404.7 485.0,405.9 485.5,408.8 486.0,411.7 486.5,414.6 487.0,418.3 487.5,422.1 488.0,424.9 488.5,424.3 489.0,423.7 489.5,423.2 490.0,421.1 490.5,419.0 491.0,416.9 491.5,414.8 492.0,412.7 492.5,410.5 493.0,408.4 493.5,405.6 494.0,402.8 494.5,400.0 495.0,394.9 495.5,390.8 496.0,388.0 496.5,390.4 497.0,392.8 497.5,394.2 498.0,395.5 498.5,396.9 499.0,398.3 499.5,398.9 500.0,399.6 500.5,400.2 501.0,400.8 501.5,401.5 502.0,402.1 502.5,402.7 503.0,403.4 503.5,404.0 504.0,404.6 504.5,405.2 505.0,405.9 505.5,406.4 506.0,407.0 506.5,407.5 507.0,408.0 507.5,408.6 508.0,409.1 508.5,409.7 509.0,409.7 509.5,409.0 510.0,408.3 510.5,407.6 511.0,406.8 511.5,406.1 512.0,405.4 512.5,404.5 513.0,403.5 513.5,402.6 514.0,401.6 514.5,400.7 515.0,399.8 515.5,398.8 516.0,397.9 516.5,396.7 517.0,395.5 517.5,394.3 518.0,393.1 518.5,391.9 519.0,390.7 519.5,389.5 520.0,388.3 520.5,386.7 521.0,385.0 521.5,383.3 522.0,381.6 522.5,379.9 523.0,378.2 523.5,376.5 524.0,374.8 524.5,372.7 525.0,370.6 525.5,368.6 526.0,366.5 526.5,364.4 527.0,362.3 527.5,360.2 528.0,358.1 528.5,355.7 529.0,353.2 529.5,350.8 530.0,348.4 530.5,345.9 531.0,343.5 531.5,340.7 532.0,338.0 532.5,335.3 533.0,332.5 533.5,329.8 534.0,328.1 534.5,326.4 535.0,324.7 535.5,323.0 536.0,322.8 536.5,324.9 537.0,327.0 537.5,329.0 538.0,330.8 538.5,332.6 539.0,334.4 539.5,336.2 540.0,338.0 540.5,335.6 541.0,333.2 541.5,330.8 542.0,328.4 542.5,326.0 543.0,322.4 543.5,318.8 544.0,315.1 544.5,311.4 545.0,307.8 545.5,304.3 546.0,300.8 546.5,297.3 547.0,293.8 547.5,290.3 548.0,284.5 548.5,278.6 549.0,272.7 549.5,266.9 550.0,258.9 550.5,251.0 551.0,243.0 551.5,235.0 552.0,226.1 552.5,217.2 553.0,208.3 553.5,200.4 554.0,194.0 554.5,187.5 555.0,181.0 555.5,178.0 556.0,175.0 556.5,178.4 557.0,181.7 557.5,189.3 558.0,196.9 558.5,204.4 559.0,212.7 559.5,221.0 560.0,229.3 560.5,237.6 561.0,243.5 561.5,249.4 562.0,255.2 562.5,261.1 563.0,266.9 563.5,272.7 564.0,278.5 564.5,284.3 565.0,287.9 565.5,291.5 566.0,295.1 566.5,297.7 567.0,296.1 567.5,294.5 568.0,292.8 568.5,291.2 569.0,288.3 569.5,285.3 570.0,282.4 570.5,279.4 571.0,276.2 571.5,272.9 572.0,269.7 572.5,268.4 573.0,267.1 573.5,266.5 574.0,269.1 574.5,271.6 575.0,276.8 575.5,282.6 576.0,288.3 576.5,294.9 577.0,301.5 577.5,308.0 578.0,314.6 578.5,319.8 579.0,325.1 579.5,330.3 580.0,335.5 580.5,338.2 581.0,340.9 581.5,343.5 582.0,346.2 582.5,348.8 583.0,349.8 583.5,350.7 584.0,351.6 584.5,352.5 585.0,353.4 585.5,353.2 586.0,353.1 586.5,353.0 587.0,352.8 587.5,352.7 588.0,352.6 588.5,352.4 589.0,352.3 589.5,352.2 590.0,352.1 590.5,352.0 591.0,352.2 591.5,352.4 592.0,352.6 592.5,352.8 593.0,353.1 593.5,353.7 594.0,354.3 594.5,354.9 595.0,355.5 595.5,357.0 596.0,358.6 596.5,360.2 597.0,361.7 597.5,363.3 598.0,364.9 598.5,366.5 599.0,368.1 599.5,369.8 600.0,371.4 600.5,373.1 601.0,374.8 601.5,376.0 602.0,377.2 602.5,378.4 603.0,379.7 603.5,380.9 604.0,382.2 604.5,382.6 605.0,383.0 605.5,383.0 606.0,383.0 606.5,383.1 607.0,378.9 607.5,374.8 608.0,370.5 608.5,363.5 609.0,352.2 609.5,340.8 610.0,329.3 610.5,322.3 611.0,333.7 611.5,345.0 612.0,356.2 612.5,367.3 613.0,371.7 613.5,374.5 614.0,377.3 614.5,380.1 615.0,381.2 615.5,382.3 616.0,383.5 616.5,384.6 617.0,385.7 617.5,386.5 618.0,387.3 618.5,388.2 619.0,389.0 619.5,388.8 620.0,388.5 620.5,388.2 621.0,387.8 621.5,387.5 622.0,387.2 622.5,386.2 623.0,385.2 623.5,384.2 624.0,383.2 624.5,382.3 625.0,381.3 625.5,380.4 626.0,379.4 626.5,378.5 627.0,377.4 627.5,376.3 628.0,375.2 628.5,374.1 629.0,373.1 629.5,372.0 630.0,370.9 630.5,369.8 631.0,368.7 631.5,367.6 632.0,366.5 632.5,365.4 633.0,364.3 633.5,363.2 634.0,362.1 634.5,361.0 635.0,359.9 635.5,358.6 636.0,357.4 636.5,356.2 637.0,355.0 637.5,353.3 638.0,351.6 638.5,349.9 639.0,348.2 639.5,346.5 640.0,344.8 640.5,343.5 641.0,342.2 641.5,340.8 642.0,339.5 642.5,338.2 643.0,336.8 643.5,335.5 644.0,334.2 644.5,332.8 645.0,331.5 645.5,330.1 646.0,328.8 646.5,327.4 647.0,325.8 647.5,324.3 648.0,322.7 648.5,321.1 649.0,319.5 649.5,317.9 650.0,316.3 650.5,314.7 651.0,313.1 651.5,311.4 652.0,309.7 652.5,308.0 653.0,306.3 653.5,304.6 654.0,302.9 654.5,301.2 655.0,299.4 655.5,297.7 656.0,296.0 656.5,294.1 657.0,291.8 657.5,289.5 658.0,287.3 658.5,285.0 659.0,282.7 659.5,280.4 660.0,278.1 660.5,275.4 661.0,272.6 661.5,269.8 662.0,267.0 662.5,264.2 663.0,261.4 663.5,258.6 664.0,255.8 664.5,252.8 665.0,249.7 665.5,246.6 666.0,243.5 666.5,240.4 667.0,237.2 667.5,234.7 668.0,232.2 668.5,229.6 669.0,227.1 669.5,224.6 670.0,222.0 670.5,218.6 671.0,215.1 671.5,211.7 672.0,208.2 672.5,204.8 673.0,198.3 673.5,191.9 674.0,185.4 674.5,170.6 675.0,155.8 675.5,141.2 676.0,126.8 676.5,116.1 677.0,113.3 677.5,117.2 678.0,121.1 678.5,125.0 679.0,128.4 679.5,131.8 680.0,135.3 680.5,138.1 681.0,138.7 681.5,139.3 682.0,139.8 682.5,140.4 683.0,141.0 683.5,141.4 684.0,141.8 684.5,142.2 685.0,142.6 685.5,143.1 686.0,143.1 686.5,142.6 687.0,142.1 687.5,141.5 688.0,141.0 688.5,140.5 689.0,140.0 689.5,140.2 690.0,140.4 690.5,140.6 691.0,140.7 691.5,140.9 692.0,141.1 692.5,141.7 693.0,142.5 693.5,143.3 694.0,144.2 694.5,145.0 695.0,145.9 695.5,146.8 696.0,147.8 696.5,148.7" fill="none" stroke="#000000" stroke-width="1.3" stroke-linejoin="round"/>
<polyline points="49.0,500.9 49.5,500.9 50.0,500.9 50.5,500.9 51.0,500.9 51.5,500.9 52.0,500.9 52.5,500.9 53.0,500.9 53.5,500.9 54.0,500.9 54.5,500.9 55.0,500.8 55.5,500.8 56.0,500.8 56.5,500.8 57.0,500.8 57.5,500.8 58.0,500.7 58.5,500.7 59.0,500.7 59.5,500.7 60.0,500.6 60.5,500.6 61.0,500.6 61.5,500.5 62.0,500.5 62.5,500.5 63.0,500.4 63.5,500.4 64.0,500.3 64.5,500.2 65.0,500.2 65.5,500.1 66.0,500.0 66.5,500.0 67.0,499.9 67.5,499.8 68.0,499.7 68.5,499.6 69.0,499.5 69.5,499.4 70.0,499.3 70.5,499.2 71.0,499.0 71.5,498.9 72.0,498.7 72.5,498.6 73.0,498.4 73.5,498.2 74.0,498.0 74.5,497.8 75.0,497.6 75.5,497.3 76.0,497.1 76.5,496.8 77.0,496.6 77.5,496.3 78.0,496.0 78.5,495.6 79.0,495.3 79.5,494.9 80.0,494.6 80.5,494.2 81.0,493.7 81.5,493.3 82.0,492.8 82.5,492.3 83.0,491.8 83.5,491.3 84.0,490.7 84.5,490.1 85.0,489.5 85.5,488.9 86.0,488.2 86.5,487.5 87.0,486.8 87.5,486.0 88.0,485.2 88.5,484.4 89.0,483.5 89.5,482.7 90.0,481.7 90.5,480.8 91.0,479.8 91.5,478.7 92.0,477.6 92.5,476.5 93.0,475.4 93.5,474.2 94.0,473.0 94.5,471.7 95.0,470.4 95.5,469.0 96.0,467.6 96.5,466.2 97.0,464.7 97.5,463.2 98.0,461.7 98.5,460.1 99.0,458.5 99.5,456.8 100.0,455.1 100.5,453.3 101.0,451.5 101.5,449.7 102.0,447.8 102.5,445.9 103.0,444.0 103.5,442.0 104.0,440.0 104.5,437.9 105.0,435.9 105.5,433.8 106.0,431.6 106.5,429.5 107.0,427.3 107.5,425.1 108.0,422.8 108.5,420.6 109.0,418.3 109.5,416.0 110.0,413.7 110.5,411.4 111.0,409.1 111.5,406.8 112.0,404.4 112.5,402.1 113.0,399.8 113.5,397.5 114.0,395.1 114.5,392.8 115.0,390.5 115.5,388.2 116.0,386.0 116.5,383.7 117.0,381.5 117.5,379.3 118.0,377.1 118.5,375.0 119.0,372.9 119.5,370.9 120.0,368.8 120.5,366.9 121.0,365.0 121.5,363.1 122.0,361.3 122.5,359.5 123.0,357.8 123.5,356.2 124.0,354.6 124.5,353.1 125.0,351.6 125.5,350.3 126.0,349.0 126.5,347.7 127.0,346.6 127.5,345.5 128.0,344.6 128.5,343.7 129.0,342.9 129.5,342.1 130.0,341.5 130.5,340.9 131.0,340.5 131.5,340.1 132.0,339.8 132.5,339.6 133.0,339.5 133.5,339.5 134.0,339.6 134.5,339.8 135.0,340.1 135.5,340.3 136.0,340.7 136.5,341.0 137.0,341.4 137.5,341.9 138.0,342.4 138.5,342.9 139.0,343.4 139.5,344.0 140.0,344.6 140.5,345.3 141.0,345.9 141.5,346.7 142.0,347.4 142.5,348.2 143.0,349.0 143.5,349.8 144.0,350.7 144.5,351.6 145.0,352.5 145.5,353.4 146.0,354.4 146.5,355.4 147.0,356.4 147.5,357.5 148.0,358.5 148.5,359.6 149.0,360.8 149.5,361.9 150.0,363.1 150.5,364.3 151.0,365.5 151.5,366.8 152.0,368.1 152.5,369.4 153.0,370.7 153.5,372.0 154.0,373.4 154.5,374.8 155.0,376.2 155.5,377.6 156.0,379.1 156.5,380.6 157.0,382.1 157.5,383.6 158.0,385.1 158.5,386.7 159.0,388.3 159.5,389.9 160.0,391.5 160.5,393.1 161.0,394.8 161.5,396.5 162.0,398.2 162.5,399.9 163.0,401.6 163.5,403.3 164.0,405.1 164.5,406.9 165.0,408.7 165.5,410.5 166.0,412.3 166.5,414.2 167.0,416.0 167.5,417.9 168.0,419.8 168.5,421.7 169.0,423.6 169.5,425.5 170.0,427.5 170.5,429.4 171.0,431.4 171.5,433.4 172.0,435.4 172.5,437.4 173.0,439.4 173.5,441.4 174.0,443.4 174.5,445.5 175.0,447.5 175.5,449.6 176.0,451.7 176.5,453.7 177.0,455.8 177.5,457.9 178.0,460.0 178.5,462.2 179.0,464.3 179.5,466.4 180.0,468.6 180.5,470.7 181.0,472.8 181.5,475.0 182.0,474.1 182.5,473.3 183.0,472.5 183.5,470.4 184.0,467.5 184.5,464.6 185.0,461.8 185.5,459.0 186.0,461.8 186.5,465.0 187.0,466.3 187.5,467.2 188.0,465.2 188.5,462.4 189.0,459.5 189.5,454.1 190.0,448.6 190.5,442.7 191.0,435.0 191.5,427.0 192.0,418.6 192.5,409.8 193.0,395.7 193.5,373.4 194.0,344.9 194.5,307.3 195.0,262.6 195.5,213.3 196.0,157.0 196.5,101.1 197.0,71.7 197.5,57.0 198.0,65.6 198.5,80.5 199.0,124.2 199.5,183.1 200.0,245.0 200.5,301.2 201.0,338.4 201.5,364.9 202.0,375.9 202.5,383.5 203.0,386.3 203.5,386.5 204.0,382.9 204.5,375.3 205.0,351.7 205.5,325.1 206.0,294.0 206.5,268.0 207.0,248.6 207.5,243.4 208.0,235.1 208.5,236.4 209.0,249.5 209.5,288.1 210.0,330.9 210.5,377.9 211.0,407.5 211.5,434.0 212.0,446.1 212.5,459.2 213.0,466.2 213.5,471.9 214.0,478.0 214.5,481.9 215.0,485.6 215.5,489.1 216.0,492.5 216.5,493.8 217.0,495.1 217.5,496.3 218.0,497.5 218.5,498.6 219.0,499.6 219.5,500.1 220.0,500.5 220.5,501.0 221.0,501.4 221.5,501.8 222.0,502.2 222.5,502.4 223.0,502.6 223.5,502.8 224.0,503.0 224.5,503.1 225.0,503.2 225.5,503.3 226.0,503.5 226.5,503.6 227.0,503.7 227.5,503.8 228.0,503.9 228.5,504.0 229.0,504.1 229.5,504.2 230.0,504.4 230.5,504.4 231.0,504.5 231.5,504.6 232.0,504.6 232.5,504.7 233.0,504.8 233.5,504.9 234.0,504.9 234.5,505.0 235.0,505.1 235.5,505.2 236.0,505.2 236.5,505.3 237.0,505.4 237.5,505.5 238.0,505.6 238.5,505.7 239.0,505.8 239.5,505.9 240.0,505.9 240.5,506.0 241.0,506.1 241.5,506.2 242.0,506.3 242.5,506.4 243.0,506.5 243.5,506.6 244.0,506.6 244.5,506.7 245.0,506.8 245.5,506.9 246.0,507.0 246.5,507.1 247.0,507.2 247.5,507.3 248.0,507.4 248.5,507.4 249.0,507.5 249.5,507.6 250.0,507.7 250.5,507.7 251.0,507.7 251.5,507.6 252.0,507.6 252.5,507.6 253.0,507.6 253.5,507.6 254.0,507.5 254.5,507.5 255.0,507.5 255.5,507.5 256.0,507.5 256.5,507.4 257.0,507.4 257.5,507.4 258.0,507.4 258.5,507.4 259.0,507.3 259.5,507.3 260.0,507.3 260.5,507.3 261.0,507.3 261.5,507.2 262.0,507.2 262.5,507.2 263.0,507.2 263.5,507.2 264.0,507.1 264.5,507.1 265.0,507.1 265.5,507.0 266.0,507.0 266.5,506.9 267.0,506.9 267.5,506.8 268.0,506.8 268.5,506.7 269.0,506.6 269.5,506.6 270.0,506.5 270.5,506.5 271.0,506.4 271.5,506.4 272.0,506.3 272.5,506.2 273.0,506.2 273.5,506.1 274.0,506.1 274.5,506.0 275.0,506.0 275.5,505.9 276.0,505.8 276.5,505.8 277.0,505.7 277.5,505.7 278.0,505.6 278.5,505.6 279.0,505.5 279.5,505.4 280.0,505.4 280.5,505.3 281.0,505.2 281.5,505.1 282.0,504.9 282.5,504.8 283.0,504.7 283.5,504.6 284.0,504.5 284.5,504.4 285.0,504.3 285.5,504.2 286.0,504.1 286.5,504.0 287.0,503.9 287.5,503.7 288.0,503.6 288.5,503.5 289.0,503.4 289.5,503.3 290.0,503.2 290.5,503.1 291.0,503.0 291.5,502.9 292.0,502.8 292.5,502.7 293.0,502.6 293.5,502.5 294.0,502.4 294.5,502.3 295.0,502.2 295.5,502.1 296.0,502.0 296.5,501.9 297.0,501.8 297.5,501.7 298.0,501.6 298.5,501.5 299.0,501.4 299.5,501.3 300.0,501.2 300.5,501.1 301.0,500.9 301.5,500.8 302.0,500.6 302.5,500.5 303.0,500.3 303.5,500.2 304.0,500.1 304.5,499.9 305.0,499.8 305.5,499.6 306.0,499.5 306.5,499.3 307.0,499.2 307.5,499.1 308.0,499.0 308.5,498.9 309.0,498.9 309.5,498.8 310.0,498.7 310.5,498.6 311.0,498.5 311.5,498.4 312.0,498.3 312.5,498.3 313.0,498.2 313.5,498.1 314.0,498.0 314.5,497.9 315.0,498.0 315.5,498.2 316.0,498.3 316.5,498.4 317.0,498.6 317.5,498.7 318.0,498.8 318.5,499.0 319.0,499.1 319.5,499.2 320.0,499.4 320.5,499.5 321.0,499.6 321.5,499.7 322.0,499.8 322.5,499.9 323.0,500.0 323.5,500.2 324.0,500.3 324.5,500.4 325.0,500.5 325.5,500.6 326.0,500.7 326.5,500.8 327.0,500.9 327.5,501.0 328.0,501.0 328.5,501.0 329.0,501.1 329.5,501.1 330.0,501.1 330.5,501.2 331.0,501.2 331.5,501.2 332.0,501.2 332.5,501.3 333.0,501.3 333.5,501.3 334.0,501.4 334.5,501.4 335.0,501.4 335.5,501.4 336.0,501.5 336.5,501.5 337.0,501.5 337.5,501.6 338.0,501.6 338.5,501.6 339.0,501.6 339.5,501.7 340.0,501.7 340.5,501.7 341.0,501.7 341.5,501.7 342.0,501.7 342.5,501.7 343.0,501.7 343.5,501.7 344.0,501.7 344.5,501.7 345.0,501.8 345.5,501.8 346.0,501.8 346.5,501.8 347.0,501.8 347.5,501.8 348.0,501.8 348.5,501.8 349.0,501.8 349.5,501.8 350.0,501.8 350.5,501.8 351.0,501.8 351.5,501.8 352.0,501.8 352.5,501.8 353.0,501.8 353.5,501.8 354.0,501.8 354.5,501.8 355.0,501.9 355.5,501.8 356.0,501.7 356.5,501.7 357.0,501.6 357.5,501.6 358.0,501.5 358.5,501.5 359.0,501.4 359.5,501.4 360.0,501.3 360.5,501.2 361.0,501.2 361.5,501.1 362.0,501.1 362.5,501.0 363.0,501.0 363.5,500.9 364.0,500.9 364.5,500.8 365.0,500.8 365.5,500.7 366.0,500.6 366.5,500.6 367.0,500.5 367.5,500.5 368.0,500.4 368.5,500.4 369.0,500.3 369.5,500.3 370.0,500.2 370.5,500.1 371.0,500.1 371.5,500.0 372.0,499.9 372.5,499.8 373.0,499.8 373.5,499.7 374.0,499.6 374.5,499.5 375.0,499.5 375.5,499.4 376.0,499.3 376.5,499.2 377.0,499.2 377.5,499.1 378.0,499.0 378.5,498.6 379.0,498.1 379.5,497.6 380.0,497.1 380.5,496.7 381.0,496.2 381.5,495.7 382.0,495.2 382.5,494.8 383.0,494.3 383.5,493.3 384.0,492.2 384.5,491.2 385.0,490.1 385.5,488.2 386.0,486.2 386.5,483.1 387.0,479.9 387.5,476.7 388.0,473.5 388.5,470.4 389.0,462.6 389.5,454.9 390.0,447.2 390.5,436.0 391.0,419.8 391.5,403.6 392.0,374.3 392.5,342.3 393.0,305.5 393.5,265.3 394.0,219.2 394.5,169.0 395.0,129.5 395.5,92.6 396.0,121.2 396.5,149.8 397.0,195.2 397.5,240.6 398.0,268.1 398.5,295.6 399.0,314.5 399.5,331.3 400.0,347.4 400.5,362.5 401.0,376.5 401.5,389.0 402.0,399.0 402.5,405.3 403.0,411.6 403.5,414.4 404.0,417.1 404.5,419.8 405.0,421.2 405.5,422.5 406.0,423.9 406.5,425.2 407.0,426.0 407.5,426.0 408.0,425.9 408.5,425.9 409.0,425.9 409.5,426.0 410.0,424.8 410.5,423.7 411.0,422.6 411.5,421.5 412.0,420.5 412.5,419.5 413.0,418.1 413.5,416.6 414.0,415.3 414.5,413.9 415.0,412.7 415.5,411.4 416.0,410.2 416.5,409.4 417.0,408.7 417.5,407.9 418.0,407.2 418.5,406.6 419.0,405.9 419.5,405.3 420.0,405.8 420.5,406.3 421.0,406.7 421.5,407.2 422.0,407.7 422.5,408.3 423.0,408.8 423.5,409.3 424.0,409.8 424.5,410.3 425.0,410.8 425.5,411.3 426.0,411.8 426.5,413.4 427.0,415.1 427.5,416.7 428.0,418.4 428.5,420.0 429.0,421.6 429.5,423.9 430.0,426.1 430.5,428.3 431.0,430.5 431.5,432.8 432.0,435.0 432.5,437.4 433.0,439.9 433.5,442.4 434.0,444.8 434.5,447.3 435.0,449.7 435.5,452.1 436.0,454.4 436.5,456.8 437.0,459.1 437.5,461.4 438.0,463.8 438.5,464.5 439.0,465.2 439.5,465.9 440.0,466.6 440.5,467.3 441.0,468.0 441.5,468.7 442.0,469.4 442.5,469.8 443.0,470.1 443.5,470.5 444.0,470.8 444.5,471.2 445.0,471.5 445.5,471.9 446.0,472.3 446.5,472.6 447.0,473.0 447.5,473.3 448.0,473.6 448.5,473.9 449.0,474.2 449.5,474.5 450.0,474.8 450.5,475.1 451.0,475.4 451.5,475.4 452.0,475.5 452.5,475.6 453.0,475.6 453.5,475.7 454.0,475.8 454.5,475.8 455.0,475.9 455.5,476.0 456.0,475.8 456.5,475.3 457.0,474.8 457.5,474.3 458.0,473.8 458.5,473.3 459.0,472.8 459.5,472.3 460.0,471.8 460.5,471.1 461.0,470.4 461.5,469.7 462.0,469.1 462.5,468.4 463.0,467.6 463.5,466.5 464.0,465.3 464.5,464.0 465.0,462.8 465.5,461.5 466.0,459.9 466.5,458.3 467.0,456.6 467.5,454.9 468.0,451.0 468.5,447.0 469.0,439.4 469.5,429.5 470.0,416.0 470.5,394.7 471.0,368.4 471.5,344.1 472.0,332.9 472.5,325.0 473.0,328.5 473.5,331.9 474.0,336.7 474.5,341.9 475.0,347.0 475.5,352.0 476.0,356.2 476.5,360.4 477.0,364.6 477.5,368.7 478.0,372.7 478.5,376.4 479.0,380.0 479.5,383.6 480.0,387.1 480.5,390.6 481.0,394.1 481.5,396.5 482.0,398.8 482.5,401.1 483.0,403.5 483.5,405.3 484.0,406.5 484.5,407.6 485.0,408.8 485.5,411.6 486.0,414.3 486.5,417.0 487.0,420.6 487.5,424.2 488.0,426.9 488.5,426.4 489.0,425.9 489.5,425.3 490.0,423.4 490.5,421.4 491.0,419.4 491.5,417.4 492.0,415.4 492.5,413.4 493.0,411.4 493.5,408.7 494.0,406.1 494.5,403.4 495.0,398.6 495.5,394.6 496.0,392.0 496.5,394.3 497.0,396.5 497.5,397.8 498.0,399.1 498.5,400.3 499.0,401.6 499.5,402.2 500.0,402.7 500.5,403.3 501.0,403.9 501.5,404.4 502.0,405.0 502.5,405.5 503.0,406.1 503.5,406.7 504.0,407.2 504.5,407.8 505.0,408.3 505.5,408.8 506.0,409.3 506.5,409.8 507.0,410.3 507.5,410.8 508.0,411.2 508.5,411.7 509.0,411.7 509.5,411.0 510.0,410.3 510.5,409.6 511.0,408.9 511.5,408.2 512.0,407.5 512.5,406.6 513.0,405.7 513.5,404.8 514.0,403.8 514.5,402.9 515.0,402.0 515.5,401.1 516.0,400.2 516.5,399.0 517.0,397.8 517.5,396.7 518.0,395.5 518.5,394.3 519.0,393.2 519.5,392.0 520.0,390.8 520.5,389.2 521.0,387.5 521.5,385.9 522.0,384.2 522.5,382.6 523.0,380.9 523.5,379.3 524.0,377.6 524.5,375.6 525.0,373.5 525.5,371.5 526.0,369.5 526.5,367.4 527.0,365.4 527.5,363.3 528.0,361.3 528.5,358.9 529.0,356.5 529.5,354.1 530.0,351.8 530.5,349.4 531.0,347.0 531.5,344.3 532.0,341.6 532.5,339.0 533.0,336.3 533.5,333.6 534.0,332.0 534.5,330.3 535.0,328.7 535.5,327.0 536.0,326.8 536.5,328.9 537.0,331.0 537.5,333.0 538.0,334.8 538.5,336.6 539.0,338.4 539.5,340.2 540.0,342.0 540.5,339.5 541.0,336.9 541.5,334.3 542.0,331.8 542.5,329.2 543.0,325.4 543.5,321.6 544.0,317.8 544.5,313.9 545.0,310.0 545.5,306.4 546.0,302.7 546.5,298.9 547.0,295.2 547.5,291.5 548.0,285.4 548.5,279.3 549.0,273.1 549.5,267.0 550.0,258.7 550.5,250.5 551.0,242.2 551.5,233.8 552.0,224.6 552.5,215.3 553.0,206.0 553.5,197.6 554.0,190.7 554.5,183.8 555.0,176.9 555.5,173.4 556.0,170.0 556.5,173.9 557.0,177.8 557.5,186.0 558.0,194.2 558.5,202.2 559.0,211.1 559.5,219.9 560.0,228.7 560.5,237.4 561.0,243.7 561.5,250.1 562.0,256.3 562.5,262.5 563.0,268.7 563.5,274.9 564.0,281.0 564.5,287.1 565.0,291.1 565.5,295.0 566.0,298.9 566.5,301.7 567.0,300.1 567.5,298.4 568.0,296.8 568.5,295.2 569.0,292.3 569.5,289.3 570.0,286.4 570.5,283.4 571.0,280.2 571.5,277.0 572.0,273.8 572.5,272.4 573.0,271.1 573.5,270.6 574.0,273.3 574.5,276.1 575.0,281.4 575.5,287.3 576.0,293.1 576.5,299.8 577.0,306.4 577.5,313.0 578.0,319.6 578.5,324.9 579.0,330.2 579.5,335.5 580.0,340.7 580.5,343.5 581.0,346.3 581.5,349.0 582.0,351.7 582.5,354.5 583.0,355.5 583.5,356.6 584.0,357.6 584.5,358.6 585.0,359.7 585.5,359.7 586.0,359.8 586.5,359.8 587.0,359.8 587.5,359.9 588.0,359.9 588.5,360.0 589.0,360.1 589.5,360.1 590.0,360.2 590.5,360.3 591.0,360.6 591.5,361.0 592.0,361.4 592.5,361.8 593.0,362.3 593.5,362.9 594.0,363.6 594.5,364.2 595.0,364.9 595.5,366.4 596.0,367.9 596.5,369.5 597.0,371.0 597.5,372.6 598.0,374.2 598.5,375.7 599.0,377.3 599.5,378.9 600.0,380.6 600.5,382.2 601.0,383.8 601.5,385.0 602.0,386.2 602.5,387.4 603.0,388.6 603.5,389.9 604.0,391.1 604.5,391.5 605.0,392.0 605.5,391.1 606.0,390.3 606.5,389.5 607.0,384.7 607.5,379.8 608.0,374.8 608.5,367.0 609.0,355.0 609.5,342.8 610.0,330.2 610.5,322.4 611.0,334.6 611.5,346.5 612.0,358.2 612.5,369.7 613.0,374.7 613.5,378.0 614.0,381.3 614.5,384.5 615.0,386.2 615.5,387.8 616.0,389.4 616.5,391.0 617.0,392.6 617.5,394.0 618.0,395.3 618.5,396.7 619.0,398.0 619.5,397.7 620.0,397.3 620.5,396.9 621.0,396.5 621.5,396.1 622.0,395.7 622.5,394.7 623.0,393.7 623.5,392.7 624.0,391.7 624.5,390.7 625.0,389.7 625.5,388.7 626.0,387.7 626.5,386.7 627.0,385.6 627.5,384.5 628.0,383.4 628.5,382.3 629.0,381.1 629.5,380.0 630.0,378.9 630.5,377.7 631.0,376.5 631.5,375.4 632.0,374.2 632.5,373.0 633.0,371.9 633.5,370.7 634.0,369.6 634.5,368.4 635.0,367.2 635.5,365.9 636.0,364.6 636.5,363.3 637.0,362.0 637.5,360.6 638.0,359.1 638.5,357.7 639.0,356.3 639.5,354.9 640.0,353.4 640.5,352.4 641.0,351.3 641.5,350.3 642.0,349.2 642.5,348.1 643.0,347.1 643.5,346.0 644.0,345.0 644.5,343.9 645.0,342.9 645.5,341.8 646.0,340.7 646.5,339.7 647.0,338.4 647.5,337.2 648.0,335.9 648.5,334.7 649.0,333.4 649.5,332.1 650.0,330.9 650.5,329.6 651.0,328.4 651.5,327.0 652.0,325.7 652.5,324.4 653.0,323.0 653.5,321.7 654.0,320.3 654.5,319.0 655.0,317.7 655.5,316.3 656.0,315.0 656.5,313.3 657.0,311.3 657.5,309.3 658.0,307.3 658.5,305.3 659.0,303.3 659.5,301.3 660.0,299.3 660.5,296.8 661.0,294.4 661.5,291.9 662.0,289.5 662.5,287.0 663.0,284.5 663.5,282.1 664.0,279.6 664.5,277.0 665.0,274.2 665.5,271.5 666.0,268.8 666.5,266.0 667.0,263.3 667.5,261.1 668.0,258.9 668.5,256.7 669.0,254.4 669.5,252.2 670.0,250.0 670.5,247.7 671.0,245.5 671.5,243.2 672.0,241.0 672.5,238.8 673.0,234.0 673.5,229.2 674.0,224.4 674.5,212.4 675.0,200.5 675.5,188.8 676.0,177.4 676.5,169.2 677.0,166.0 677.5,166.0 678.0,166.0 678.5,166.0 679.0,166.0 679.5,166.0 680.0,166.0 680.5,166.5 681.0,168.9 681.5,171.2 682.0,173.6 682.5,176.0 683.0,178.1 683.5,180.2 684.0,182.3 684.5,184.4 685.0,184.9 685.5,184.4 686.0,184.0 686.5,183.5 687.0,183.0 687.5,182.8 688.0,182.7 688.5,182.5 689.0,182.3 689.5,182.2 690.0,182.0 690.5,181.8 691.0,181.5 691.5,181.2 692.0,181.0 692.5,180.8 693.0,180.5 693.5,180.3 694.0,180.1 694.5,179.9 695.0,179.6 695.5,179.4 696.0,179.2 696.5,179.0" fill="none" stroke="#ff0000" stroke-width="1.25" stroke-linejoin="round"/>
<polyline points="49.0,500.9 49.5,500.9 50.0,500.9 50.5,500.9 51.0,500.9 51.5,500.9 52.0,500.9 52.5,500.9 53.0,500.9 53.5,500.9 54.0,500.8 54.5,500.8 55.0,500.8 55.5,500.8 56.0,500.8 56.5,500.7 57.0,500.7 57.5,500.7 58.0,500.7 58.5,500.6 59.0,500.6 59.5,500.6 60.0,500.5 60.5,500.5 61.0,500.5 61.5,500.4 62.0,500.4 62.5,500.3 63.0,500.3 63.5,500.2 64.0,500.1 64.5,500.1 65.0,500.0 65.5,499.9 66.0,499.8 66.5,499.7 67.0,499.6 67.5,499.5 68.0,499.4 68.5,499.3 69.0,499.1 69.5,499.0 70.0,498.8 70.5,498.7 71.0,498.5 71.5,498.3 72.0,498.1 72.5,497.9 73.0,497.7 73.5,497.5 74.0,497.2 74.5,497.0 75.0,496.7 75.5,496.4 76.0,496.1 76.5,495.8 77.0,495.4 77.5,495.0 78.0,494.7 78.5,494.2 79.0,493.8 79.5,493.4 80.0,492.9 80.5,492.4 81.0,491.9 81.5,491.3 82.0,490.7 82.5,490.1 83.0,489.5 83.5,488.8 84.0,488.1 84.5,487.3 85.0,486.6 85.5,485.8 86.0,484.9 86.5,484.0 87.0,483.1 87.5,482.2 88.0,481.2 88.5,480.1 89.0,479.0 89.5,477.9 90.0,476.7 90.5,475.5 91.0,474.3 91.5,473.0 92.0,471.6 92.5,470.2 93.0,468.8 93.5,467.3 94.0,465.7 94.5,464.1 95.0,462.5 95.5,460.8 96.0,459.0 96.5,457.2 97.0,455.4 97.5,453.5 98.0,451.5 98.5,449.5 99.0,447.4 99.5,445.3 100.0,443.2 100.5,441.0 101.0,438.7 101.5,436.4 102.0,434.1 102.5,431.7 103.0,429.2 103.5,426.7 104.0,424.2 104.5,421.6 105.0,419.0 105.5,416.4 106.0,413.7 106.5,411.0 107.0,408.2 107.5,405.4 108.0,402.6 108.5,399.8 109.0,396.9 109.5,394.0 110.0,391.1 110.5,388.2 111.0,385.3 111.5,382.4 112.0,379.5 112.5,376.5 113.0,373.6 113.5,370.7 114.0,367.7 114.5,364.8 115.0,361.9 115.5,359.1 116.0,356.2 116.5,353.4 117.0,350.6 117.5,347.8 118.0,345.1 118.5,342.4 119.0,339.8 119.5,337.2 120.0,334.6 120.5,332.2 121.0,329.7 121.5,327.4 122.0,325.1 122.5,322.9 123.0,320.7 123.5,318.7 124.0,316.7 124.5,314.8 125.0,313.0 125.5,311.3 126.0,309.6 126.5,308.1 127.0,306.6 127.5,305.3 128.0,304.1 128.5,302.9 129.0,301.9 129.5,301.0 130.0,300.2 130.5,299.5 131.0,298.9 131.5,298.4 132.0,298.1 132.5,297.8 133.0,297.7 133.5,297.7 134.0,297.9 134.5,298.1 135.0,298.4 135.5,298.8 136.0,299.2 136.5,299.7 137.0,300.2 137.5,300.8 138.0,301.4 138.5,302.1 139.0,302.8 139.5,303.6 140.0,304.4 140.5,305.2 141.0,306.1 141.5,307.1 142.0,308.0 142.5,309.0 143.0,310.1 143.5,311.2 144.0,312.3 144.5,313.5 145.0,314.7 145.5,315.9 146.0,317.2 146.5,318.5 147.0,319.8 147.5,321.2 148.0,322.6 148.5,324.1 149.0,325.5 149.5,327.0 150.0,328.6 150.5,330.2 151.0,331.8 151.5,333.4 152.0,335.1 152.5,336.8 153.0,338.5 153.5,340.3 154.0,342.1 154.5,343.9 155.0,345.7 155.5,347.6 156.0,349.5 156.5,351.5 157.0,353.4 157.5,355.4 158.0,357.4 158.5,359.5 159.0,361.5 159.5,363.6 160.0,365.7 160.5,367.9 161.0,370.1 161.5,372.2 162.0,374.5 162.5,376.7 163.0,379.0 163.5,381.2 164.0,383.6 164.5,385.9 165.0,388.2 165.5,390.6 166.0,393.0 166.5,395.4 167.0,397.8 167.5,400.3 168.0,402.7 168.5,405.2 169.0,407.7 169.5,410.3 170.0,412.8 170.5,415.4 171.0,417.9 171.5,420.5 172.0,423.1 172.5,425.7 173.0,428.4 173.5,431.0 174.0,433.7 174.5,436.4 175.0,439.0 175.5,441.7 176.0,444.5 176.5,447.2 177.0,449.9 177.5,452.7 178.0,455.4 178.5,458.2 179.0,461.0 179.5,463.8 180.0,466.6 180.5,469.4 181.0,472.2 181.5,475.0 182.0,474.1 182.5,473.3 183.0,472.5 183.5,470.4 184.0,467.5 184.5,464.6 185.0,461.8 185.5,459.0 186.0,461.5 186.5,464.6 187.0,465.7 187.5,466.4 188.0,464.2 188.5,461.2 189.0,458.0 189.5,452.3 190.0,446.4 190.5,440.1 191.0,431.9 191.5,423.3 192.0,414.3 192.5,404.9 193.0,389.8 193.5,366.0 194.0,335.7 194.5,295.5 195.0,247.7 195.5,194.9 196.0,134.5 196.5,74.3 197.0,42.4 197.5,26.0 198.0,38.7 198.5,58.0 199.0,107.3 199.5,171.5 200.0,237.9 200.5,297.4 201.0,336.8 201.5,364.8 202.0,377.0 202.5,385.7 203.0,389.7 203.5,389.0 204.0,381.5 204.5,369.6 205.0,340.0 205.5,305.5 206.0,264.2 206.5,226.9 207.0,195.8 207.5,181.2 208.0,175.7 208.5,184.7 209.0,206.7 209.5,256.8 210.0,309.5 210.5,364.7 211.0,399.1 211.5,429.1 212.0,443.0 212.5,457.4 213.0,465.2 213.5,471.5 214.0,478.0 214.5,481.9 215.0,485.6 215.5,489.1 216.0,492.5 216.5,493.8 217.0,495.1 217.5,496.3 218.0,497.5 218.5,498.6 219.0,499.6 219.5,500.1 220.0,500.5 220.5,501.0 221.0,501.4 221.5,501.8 222.0,502.2 222.5,502.4 223.0,502.6 223.5,502.8 224.0,503.0 224.5,503.1 225.0,503.2 225.5,503.3 226.0,503.5 226.5,503.6 227.0,503.7 227.5,503.8 228.0,503.9 228.5,504.0 229.0,504.1 229.5,504.2 230.0,504.4 230.5,504.4 231.0,504.5 231.5,504.6 232.0,504.6 232.5,504.7 233.0,504.8 233.5,504.9 234.0,504.9 234.5,505.0 235.0,505.1 235.5,505.2 236.0,505.2 236.5,505.3 237.0,505.4 237.5,505.5 238.0,505.6 238.5,505.7 239.0,505.8 239.5,505.9 240.0,505.9 240.5,506.0 241.0,506.1 241.5,506.2 242.0,506.3 242.5,506.4 243.0,506.5 243.5,506.6 244.0,506.6 244.5,506.7 245.0,506.8 245.5,506.9 246.0,507.0 246.5,507.1 247.0,507.2 247.5,507.3 248.0,507.4 248.5,507.4 249.0,507.5 249.5,507.6 250.0,507.7 250.5,507.7 251.0,507.7 251.5,507.6 252.0,507.6 252.5,507.6 253.0,507.6 253.5,507.6 254.0,507.5 254.5,507.5 255.0,507.5 255.5,507.5 256.0,507.5 256.5,507.4 257.0,507.4 257.5,507.4 258.0,507.4 258.5,507.4 259.0,507.3 259.5,507.3 260.0,507.3 260.5,507.3 261.0,507.3 261.5,507.2 262.0,507.2 262.5,507.2 263.0,507.2 263.5,507.2 264.0,507.1 264.5,507.1 265.0,507.1 265.5,507.0 266.0,507.0 266.5,506.9 267.0,506.9 267.5,506.8 268.0,506.8 268.5,506.7 269.0,506.6 269.5,506.6 270.0,506.5 270.5,506.5 271.0,506.4 271.5,506.4 272.0,506.3 272.5,506.2 273.0,506.2 273.5,506.1 274.0,506.1 274.5,506.0 275.0,506.0 275.5,505.9 276.0,505.8 276.5,505.8 277.0,505.7 277.5,505.7 278.0,505.6 278.5,505.6 279.0,505.5 279.5,505.4 280.0,505.4 280.5,505.3 281.0,505.2 281.5,505.1 282.0,504.9 282.5,504.8 283.0,504.7 283.5,504.6 284.0,504.5 284.5,504.4 285.0,504.3 285.5,504.2 286.0,504.1 286.5,504.0 287.0,503.9 287.5,503.7 288.0,503.6 288.5,503.5 289.0,503.4 289.5,503.3 290.0,503.2 290.5,503.1 291.0,503.0 291.5,502.9 292.0,502.8 292.5,502.7 293.0,502.6 293.5,502.5 294.0,502.4 294.5,502.3 295.0,502.2 295.5,502.1 296.0,502.0 296.5,501.9 297.0,501.8 297.5,501.7 298.0,501.6 298.5,501.5 299.0,501.4 299.5,501.3 300.0,501.2 300.5,501.1 301.0,500.9 301.5,500.8 302.0,500.6 302.5,500.5 303.0,500.3 303.5,500.2 304.0,500.1 304.5,499.9 305.0,499.8 305.5,499.6 306.0,499.5 306.5,499.3 307.0,499.2 307.5,499.1 308.0,499.0 308.5,498.9 309.0,498.9 309.5,498.8 310.0,498.7 310.5,498.6 311.0,498.5 311.5,498.4 312.0,498.3 312.5,498.3 313.0,498.2 313.5,498.1 314.0,498.0 314.5,497.9 315.0,498.0 315.5,498.2 316.0,498.3 316.5,498.4 317.0,498.6 317.5,498.7 318.0,498.8 318.5,499.0 319.0,499.1 319.5,499.2 320.0,499.4 320.5,499.5 321.0,499.6 321.5,499.7 322.0,499.8 322.5,499.9 323.0,500.0 323.5,500.2 324.0,500.3 324.5,500.4 325.0,500.5 325.5,500.6 326.0,500.7 326.5,500.8 327.0,500.9 327.5,501.0 328.0,501.0 328.5,501.0 329.0,501.1 329.5,501.1 330.0,501.1 330.5,501.2 331.0,501.2 331.5,501.2 332.0,501.2 332.5,501.3 333.0,501.3 333.5,501.3 334.0,501.4 334.5,501.4 335.0,501.4 335.5,501.4 336.0,501.5 336.5,501.5 337.0,501.5 337.5,501.6 338.0,501.6 338.5,501.6 339.0,501.6 339.5,501.7 340.0,501.7 340.5,501.7 341.0,501.7 341.5,501.7 342.0,501.7 342.5,501.7 343.0,501.7 343.5,501.7 344.0,501.7 344.5,501.7 345.0,501.8 345.5,501.8 346.0,501.8 346.5,501.8 347.0,501.8 347.5,501.8 348.0,501.8 348.5,501.8 349.0,501.8 349.5,501.8 350.0,501.8 350.5,501.8 351.0,501.8 351.5,501.8 352.0,501.8 352.5,501.8 353.0,501.8 353.5,501.8 354.0,501.8 354.5,501.8 355.0,501.9 355.5,501.8 356.0,501.7 356.5,501.7 357.0,501.6 357.5,501.6 358.0,501.5 358.5,501.5 359.0,501.4 359.5,501.4 360.0,501.3 360.5,501.2 361.0,501.2 361.5,501.1 362.0,501.1 362.5,501.0 363.0,501.0 363.5,500.9 364.0,500.9 364.5,500.8 365.0,500.8 365.5,500.7 366.0,500.6 366.5,500.6 367.0,500.5 367.5,500.5 368.0,500.4 368.5,500.4 369.0,500.3 369.5,500.3 370.0,500.2 370.5,500.1 371.0,500.1 371.5,500.0 372.0,499.9 372.5,499.8 373.0,499.8 373.5,499.7 374.0,499.6 374.5,499.5 375.0,499.5 375.5,499.4 376.0,499.3 376.5,499.2 377.0,499.2 377.5,499.1 378.0,499.0 378.5,498.6 379.0,498.1 379.5,497.6 380.0,497.1 380.5,496.7 381.0,496.2 381.5,495.7 382.0,495.2 382.5,494.8 383.0,494.3 383.5,493.3 384.0,492.2 384.5,491.2 385.0,490.1 385.5,488.1 386.0,486.0 386.5,482.7 387.0,479.3 387.5,476.0 388.0,472.6 388.5,469.2 389.0,461.0 389.5,452.8 390.0,444.5 390.5,432.5 391.0,415.1 391.5,397.6 392.0,365.8 392.5,331.1 393.0,290.7 393.5,246.4 394.0,195.1 394.5,139.1 395.0,94.3 395.5,52.0 396.0,84.9 396.5,117.5 397.0,168.2 397.5,218.6 398.0,249.3 398.5,279.7 399.0,300.9 399.5,319.5 400.0,337.3 400.5,353.9 401.0,369.3 401.5,382.9 402.0,393.9 402.5,400.9 403.0,407.8 403.5,411.0 404.0,414.1 404.5,417.3 405.0,419.0 405.5,420.7 406.0,422.3 406.5,424.0 407.0,424.9 407.5,424.8 408.0,424.7 408.5,424.6 409.0,424.5 409.5,424.4 410.0,423.1 410.5,421.9 411.0,420.6 411.5,419.4 412.0,418.3 412.5,417.1 413.0,415.5 413.5,413.9 414.0,412.4 414.5,410.8 415.0,409.4 415.5,407.9 416.0,406.5 416.5,405.5 417.0,404.5 417.5,403.6 418.0,402.7 418.5,401.8 419.0,401.0 419.5,400.1 420.0,400.4 420.5,400.7 421.0,401.0 421.5,401.3 422.0,401.7 422.5,402.0 423.0,402.4 423.5,403.0 424.0,403.6 424.5,404.1 425.0,404.7 425.5,405.3 426.0,405.9 426.5,407.6 427.0,409.4 427.5,411.2 428.0,413.0 428.5,414.8 429.0,416.6 429.5,419.0 430.0,421.4 430.5,423.8 431.0,426.1 431.5,428.5 432.0,430.9 432.5,433.6 433.0,436.2 433.5,438.8 434.0,441.5 434.5,444.1 435.0,446.7 435.5,449.2 436.0,451.7 436.5,454.2 437.0,456.7 437.5,459.2 438.0,461.7 438.5,462.5 439.0,463.2 439.5,464.0 440.0,464.7 440.5,465.5 441.0,466.2 441.5,467.0 442.0,467.7 442.5,468.1 443.0,468.5 443.5,468.9 444.0,469.3 444.5,469.7 445.0,470.1 445.5,470.5 446.0,470.9 446.5,471.3 447.0,471.6 447.5,472.0 448.0,472.3 448.5,472.6 449.0,472.9 449.5,473.3 450.0,473.6 450.5,473.9 451.0,474.2 451.5,474.3 452.0,474.4 452.5,474.5 453.0,474.6 453.5,474.6 454.0,474.7 454.5,474.8 455.0,474.9 455.5,475.0 456.0,474.8 456.5,474.3 457.0,473.9 457.5,473.4 458.0,472.9 458.5,472.5 459.0,472.0 459.5,471.5 460.0,471.0 460.5,470.4 461.0,469.7 461.5,469.1 462.0,468.4 462.5,467.7 463.0,467.0 463.5,465.9 464.0,464.7 464.5,463.5 465.0,462.2 465.5,461.0 466.0,459.4 466.5,457.8 467.0,456.2 467.5,454.5 468.0,450.6 468.5,446.7 469.0,439.1 469.5,429.2 470.0,415.7 470.5,394.4 471.0,368.1 471.5,343.8 472.0,332.8 472.5,325.0 473.0,328.5 473.5,332.0 474.0,336.9 474.5,342.1 475.0,347.2 475.5,352.3 476.0,356.6 476.5,360.8 477.0,365.0 477.5,369.2 478.0,373.3 478.5,377.0 479.0,380.6 479.5,384.2 480.0,387.8 480.5,391.3 481.0,394.8 481.5,397.2 482.0,399.6 482.5,402.0 483.0,404.3 483.5,406.2 484.0,407.4 484.5,408.6 485.0,409.8 485.5,412.5 486.0,415.3 486.5,418.0 487.0,421.6 487.5,425.2 488.0,427.9 488.5,427.2 489.0,426.5 489.5,425.9 490.0,423.8 490.5,421.6 491.0,419.5 491.5,417.3 492.0,415.2 492.5,413.0 493.0,410.8 493.5,407.9 494.0,405.1 494.5,402.2 495.0,397.1 495.5,392.9 496.0,390.0 496.5,392.4 497.0,394.7 497.5,396.1 498.0,397.5 498.5,398.8 499.0,400.2 499.5,400.8 500.0,401.5 500.5,402.1 501.0,402.8 501.5,403.4 502.0,404.0 502.5,404.7 503.0,405.3 503.5,405.9 504.0,406.6 504.5,407.2 505.0,407.8 505.5,408.4 506.0,408.9 506.5,409.5 507.0,410.0 507.5,410.6 508.0,411.1 508.5,411.7 509.0,411.7 509.5,411.0 510.0,410.3 510.5,409.6 511.0,408.9 511.5,408.2 512.0,407.5 512.5,406.6 513.0,405.7 513.5,404.8 514.0,403.8 514.5,402.9 515.0,402.0 515.5,401.1 516.0,400.2 516.5,399.0 517.0,397.8 517.5,396.7 518.0,395.5 518.5,394.3 519.0,393.2 519.5,392.0 520.0,390.8 520.5,389.2 521.0,387.5 521.5,385.9 522.0,384.2 522.5,382.6 523.0,380.9 523.5,379.3 524.0,377.6 524.5,375.6 525.0,373.5 525.5,371.5 526.0,369.5 526.5,367.4 527.0,365.4 527.5,363.3 528.0,361.3 528.5,358.9 529.0,356.5 529.5,354.1 530.0,351.8 530.5,349.4 531.0,347.0 531.5,344.3 532.0,341.6 532.5,339.0 533.0,336.3 533.5,333.6 534.0,332.0 534.5,330.3 535.0,328.7 535.5,327.0 536.0,326.9 536.5,329.1 537.0,331.3 537.5,333.5 538.0,335.4 538.5,337.3 539.0,339.2 539.5,341.1 540.0,343.0 540.5,340.4 541.0,337.8 541.5,335.1 542.0,332.5 542.5,329.8 543.0,326.0 543.5,322.1 544.0,318.2 544.5,314.2 545.0,310.3 545.5,306.5 546.0,302.7 546.5,298.9 547.0,295.0 547.5,291.2 548.0,285.0 548.5,278.8 549.0,272.5 549.5,266.2 550.0,257.9 550.5,249.4 551.0,241.0 551.5,232.5 552.0,223.1 552.5,213.6 553.0,204.1 553.5,195.5 554.0,188.5 554.5,181.4 555.0,174.2 555.5,170.6 556.0,167.0 556.5,171.1 557.0,175.2 557.5,183.5 558.0,191.9 558.5,200.1 559.0,209.2 559.5,218.2 560.0,227.1 560.5,236.0 561.0,242.5 561.5,248.9 562.0,255.3 562.5,261.7 563.0,268.0 563.5,274.3 564.0,280.5 564.5,286.7 565.0,290.8 565.5,294.8 566.0,298.8 566.5,301.7 567.0,299.9 567.5,298.2 568.0,296.4 568.5,294.6 569.0,291.6 569.5,288.5 570.0,285.4 570.5,282.3 571.0,278.9 571.5,275.6 572.0,272.2 572.5,270.7 573.0,269.2 573.5,268.5 574.0,271.2 574.5,273.9 575.0,279.1 575.5,285.0 576.0,290.8 576.5,297.5 577.0,304.1 577.5,310.7 578.0,317.2 578.5,322.5 579.0,327.8 579.5,333.1 580.0,338.3 580.5,341.1 581.0,343.8 581.5,346.5 582.0,349.2 582.5,351.9 583.0,352.9 583.5,353.9 584.0,354.9 584.5,355.9 585.0,356.8 585.5,356.8 586.0,356.8 586.5,356.7 587.0,356.7 587.5,356.7 588.0,356.7 588.5,356.6 589.0,356.6 589.5,356.6 590.0,356.6 590.5,356.6 591.0,356.9 591.5,357.2 592.0,357.5 592.5,357.8 593.0,358.2 593.5,358.9 594.0,359.5 594.5,360.1 595.0,360.8 595.5,362.3 596.0,363.8 596.5,365.4 597.0,366.9 597.5,368.5 598.0,370.1 598.5,371.7 599.0,373.3 599.5,374.9 600.0,376.5 600.5,378.2 601.0,379.8 601.5,381.0 602.0,382.2 602.5,383.4 603.0,384.7 603.5,385.9 604.0,387.1 604.5,387.6 605.0,388.0 605.5,386.6 606.0,385.2 606.5,383.8 607.0,378.2 607.5,372.5 608.0,366.7 608.5,357.9 609.0,344.5 609.5,330.7 610.0,316.6 610.5,307.8 611.0,321.6 611.5,335.1 612.0,348.3 612.5,361.2 613.0,367.0 613.5,371.1 614.0,375.1 614.5,379.1 615.0,381.3 615.5,383.6 616.0,385.8 616.5,388.0 617.0,390.2 617.5,392.2 618.0,394.1 618.5,396.1 619.0,398.0 619.5,397.6 620.0,397.1 620.5,396.5 621.0,396.0 621.5,395.4 622.0,394.9 622.5,393.7 623.0,392.6 623.5,391.4 624.0,390.2 624.5,389.1 625.0,387.9 625.5,386.7 626.0,385.6 626.5,384.4 627.0,383.1 627.5,381.8 628.0,380.5 628.5,379.2 629.0,377.8 629.5,376.5 630.0,375.2 630.5,373.8 631.0,372.4 631.5,371.0 632.0,369.7 632.5,368.3 633.0,366.9 633.5,365.5 634.0,364.1 634.5,362.7 635.0,361.2 635.5,359.7 636.0,358.1 636.5,356.6 637.0,355.0 637.5,353.5 638.0,352.0 638.5,350.5 639.0,348.9 639.5,347.4 640.0,345.9 640.5,344.8 641.0,343.7 641.5,342.5 642.0,341.4 642.5,340.3 643.0,339.2 643.5,338.0 644.0,336.9 644.5,335.8 645.0,334.7 645.5,333.5 646.0,332.4 646.5,331.3 647.0,330.0 647.5,328.6 648.0,327.3 648.5,325.9 649.0,324.6 649.5,323.3 650.0,321.9 650.5,320.6 651.0,319.3 651.5,317.8 652.0,316.4 652.5,315.0 653.0,313.5 653.5,312.1 654.0,310.7 654.5,309.3 655.0,307.8 655.5,306.4 656.0,305.0 656.5,303.2 657.0,301.0 657.5,298.9 658.0,296.7 658.5,294.6 659.0,292.4 659.5,290.3 660.0,288.1 660.5,285.5 661.0,282.8 661.5,280.2 662.0,277.6 662.5,274.9 663.0,272.3 663.5,269.6 664.0,266.9 664.5,264.1 665.0,261.2 665.5,258.2 666.0,255.3 666.5,252.3 667.0,249.4 667.5,247.0 668.0,244.6 668.5,242.2 669.0,239.8 669.5,237.4 670.0,235.0 670.5,230.8 671.0,226.6 671.5,222.4 672.0,218.2 672.5,213.9 673.0,206.7 673.5,199.5 674.0,192.2 674.5,176.7 675.0,161.1 675.5,145.5 676.0,130.1 676.5,118.3 677.0,112.0 677.5,110.2 678.0,110.5 678.5,114.3 679.0,118.3 679.5,122.2 680.0,126.1 680.5,130.0 681.0,134.0 681.5,138.1 682.0,142.1 682.5,146.1 683.0,150.2 683.5,154.2 684.0,154.7 684.5,154.2 685.0,153.8 685.5,153.4 686.0,153.0 686.5,152.7 687.0,152.4 687.5,152.2 688.0,151.9 688.5,151.6 689.0,151.4 689.5,151.1 690.0,150.8 690.5,150.8 691.0,150.7 691.5,150.7 692.0,150.6 692.5,150.6 693.0,150.5 693.5,150.4 694.0,150.3 694.5,150.2 695.0,150.0 695.5,149.9 696.0,149.8 696.5,149.7" fill="none" stroke="#ff0000" stroke-width="1.25" stroke-linejoin="round"/>
<polyline points="49.0,500.9 49.5,500.9 50.0,500.9 50.5,500.9 51.0,500.9 51.5,500.9 52.0,500.8 52.5,500.8 53.0,500.8 53.5,500.8 54.0,500.8 54.5,500.8 55.0,500.7 55.5,500.7 56.0,500.7 56.5,500.6 57.0,500.6 57.5,500.6 58.0,500.5 58.5,500.5 59.0,500.5 59.5,500.4 60.0,500.4 60.5,500.3 61.0,500.2 61.5,500.2 62.0,500.1 62.5,500.0 63.0,500.0 63.5,499.9 64.0,499.8 64.5,499.7 65.0,499.6 65.5,499.5 66.0,499.3 66.5,499.2 67.0,499.1 67.5,498.9 68.0,498.8 68.5,498.6 69.0,498.4 69.5,498.2 70.0,498.0 70.5,497.8 71.0,497.6 71.5,497.3 72.0,497.1 72.5,496.8 73.0,496.5 73.5,496.2 74.0,495.8 74.5,495.5 75.0,495.1 75.5,494.7 76.0,494.3 76.5,493.9 77.0,493.4 77.5,492.9 78.0,492.4 78.5,491.8 79.0,491.2 79.5,490.6 80.0,490.0 80.5,489.3 81.0,488.6 81.5,487.8 82.0,487.1 82.5,486.2 83.0,485.4 83.5,484.5 84.0,483.5 84.5,482.5 85.0,481.5 85.5,480.4 86.0,479.3 86.5,478.1 87.0,476.9 87.5,475.6 88.0,474.3 88.5,472.9 89.0,471.5 89.5,470.0 90.0,468.4 90.5,466.8 91.0,465.1 91.5,463.4 92.0,461.6 92.5,459.8 93.0,457.8 93.5,455.9 94.0,453.8 94.5,451.7 95.0,449.5 95.5,447.3 96.0,445.0 96.5,442.6 97.0,440.2 97.5,437.7 98.0,435.1 98.5,432.5 99.0,429.8 99.5,427.0 100.0,424.2 100.5,421.3 101.0,418.4 101.5,415.4 102.0,412.3 102.5,409.2 103.0,406.0 103.5,402.8 104.0,399.5 104.5,396.1 105.0,392.7 105.5,389.3 106.0,385.8 106.5,382.3 107.0,378.8 107.5,375.2 108.0,371.5 108.5,367.9 109.0,364.2 109.5,360.5 110.0,356.8 110.5,353.1 111.0,349.3 111.5,345.6 112.0,341.8 112.5,338.0 113.0,334.3 113.5,330.6 114.0,326.8 114.5,323.1 115.0,319.5 115.5,315.8 116.0,312.2 116.5,308.6 117.0,305.1 117.5,301.6 118.0,298.2 118.5,294.8 119.0,291.5 119.5,288.2 120.0,285.1 120.5,282.0 121.0,279.0 121.5,276.0 122.0,273.2 122.5,270.5 123.0,267.8 123.5,265.3 124.0,262.9 124.5,260.5 125.0,258.3 125.5,256.2 126.0,254.3 126.5,252.4 127.0,250.7 127.5,249.2 128.0,247.7 128.5,246.4 129.0,245.2 129.5,244.2 130.0,243.3 130.5,242.6 131.0,242.0 131.5,241.5 132.0,241.2 132.5,241.0 133.0,241.0 133.5,241.2 134.0,241.6 134.5,242.0 135.0,242.5 135.5,243.1 136.0,243.7 136.5,244.5 137.0,245.3 137.5,246.1 138.0,247.1 138.5,248.0 139.0,249.1 139.5,250.2 140.0,251.4 140.5,252.6 141.0,253.9 141.5,255.2 142.0,256.6 142.5,258.0 143.0,259.5 143.5,261.1 144.0,262.7 144.5,264.3 145.0,266.0 145.5,267.8 146.0,269.6 146.5,271.4 147.0,273.3 147.5,275.3 148.0,277.3 148.5,279.3 149.0,281.4 149.5,283.5 150.0,285.7 150.5,287.9 151.0,290.1 151.5,292.4 152.0,294.8 152.5,297.2 153.0,299.6 153.5,302.0 154.0,304.5 154.5,307.1 155.0,309.7 155.5,312.3 156.0,314.9 156.5,317.6 157.0,320.4 157.5,323.1 158.0,325.9 158.5,328.8 159.0,331.6 159.5,334.5 160.0,337.5 160.5,340.4 161.0,343.5 161.5,346.5 162.0,349.5 162.5,352.6 163.0,355.8 163.5,358.9 164.0,362.1 164.5,365.3 165.0,368.5 165.5,371.8 166.0,375.1 166.5,378.4 167.0,381.7 167.5,385.1 168.0,388.5 168.5,391.9 169.0,395.3 169.5,398.8 170.0,402.3 170.5,405.8 171.0,409.3 171.5,412.8 172.0,416.4 172.5,419.9 173.0,423.5 173.5,427.1 174.0,430.8 174.5,434.4 175.0,438.1 175.5,441.7 176.0,445.4 176.5,449.1 177.0,452.8 177.5,456.5 178.0,460.3 178.5,464.0 179.0,464.0 179.5,464.0 180.0,464.0 180.5,464.0 181.0,464.0 181.5,464.0 182.0,463.9 182.5,463.8 183.0,463.8 183.5,462.4 184.0,460.2 184.5,458.2 185.0,456.5 185.5,455.0 186.0,459.4 186.5,464.0 187.0,466.4 187.5,468.3 188.0,467.3 188.5,465.7 189.0,463.9 189.5,460.2 190.0,456.3 190.5,452.4 191.0,447.1 191.5,441.6 192.0,436.1 192.5,430.4 193.0,420.8 193.5,405.3 194.0,385.6 194.5,359.8 195.0,329.5 195.5,296.7 196.0,259.9 196.5,224.2 197.0,207.5 197.5,201.0 198.0,204.4 198.5,212.2 199.0,240.1 199.5,279.1 200.0,320.9 200.5,359.4 201.0,384.9 201.5,403.0 202.0,410.1 202.5,414.9 203.0,416.2 203.5,414.9 204.0,409.6 204.5,401.0 205.0,379.0 205.5,353.5 206.0,323.1 206.5,295.9 207.0,273.5 207.5,263.5 208.0,255.1 208.5,256.8 209.0,269.3 209.5,305.2 210.0,344.8 210.5,388.1 211.0,415.3 211.5,439.7 212.0,450.8 212.5,462.8 213.0,469.2 213.5,474.4 214.0,480.0 214.5,483.5 215.0,486.8 215.5,490.0 216.0,493.0 216.5,494.2 217.0,495.3 217.5,496.4 218.0,497.4 218.5,498.4 219.0,499.4 219.5,499.8 220.0,500.2 220.5,500.6 221.0,501.0 221.5,501.4 222.0,501.7 222.5,501.9 223.0,502.1 223.5,502.3 224.0,502.5 224.5,502.6 225.0,502.7 225.5,502.8 226.0,503.0 226.5,503.1 227.0,503.2 227.5,503.3 228.0,503.4 228.5,503.5 229.0,503.6 229.5,503.8 230.0,503.9 230.5,503.9 231.0,504.0 231.5,504.1 232.0,504.2 232.5,504.2 233.0,504.3 233.5,504.4 234.0,504.5 234.5,504.5 235.0,504.6 235.5,504.7 236.0,504.8 236.5,504.9 237.0,505.0 237.5,505.1 238.0,505.2 238.5,505.3 239.0,505.4 239.5,505.5 240.0,505.6 240.5,505.6 241.0,505.7 241.5,505.8 242.0,505.9 242.5,506.0 243.0,506.1 243.5,506.2 244.0,506.3 244.5,506.4 245.0,506.5 245.5,506.6 246.0,506.7 246.5,506.8 247.0,506.8 247.5,506.9 248.0,507.0 248.5,507.1 249.0,507.2 249.5,507.3 250.0,507.4 250.5,507.4 251.0,507.4 251.5,507.4 252.0,507.3 252.5,507.3 253.0,507.3 253.5,507.3 254.0,507.3 254.5,507.3 255.0,507.3 255.5,507.3 256.0,507.2 256.5,507.2 257.0,507.2 257.5,507.2 258.0,507.2 258.5,507.2 259.0,507.2 259.5,507.1 260.0,507.1 260.5,507.1 261.0,507.1 261.5,507.1 262.0,507.1 262.5,507.1 263.0,507.1 263.5,507.0 264.0,507.0 264.5,507.0 265.0,507.0 265.5,506.9 266.0,506.8 266.5,506.7 267.0,506.6 267.5,506.6 268.0,506.5 268.5,506.4 269.0,506.3 269.5,506.2 270.0,506.1 270.5,506.0 271.0,505.9 271.5,505.8 272.0,505.7 272.5,505.7 273.0,505.6 273.5,505.5 274.0,505.4 274.5,505.3 275.0,505.2 275.5,505.1 276.0,505.0 276.5,504.9 277.0,504.9 277.5,504.8 278.0,504.7 278.5,504.6 279.0,504.5 279.5,504.4 280.0,504.3 280.5,504.2 281.0,504.0 281.5,503.9 282.0,503.8 282.5,503.6 283.0,503.5 283.5,503.3 284.0,503.2 284.5,503.1 285.0,502.9 285.5,502.8 286.0,502.6 286.5,502.5 287.0,502.3 287.5,502.2 288.0,502.1 288.5,501.9 289.0,501.8 289.5,501.6 290.0,501.5 290.5,501.4 291.0,501.2 291.5,501.1 292.0,500.9 292.5,500.8 293.0,500.7 293.5,500.5 294.0,500.4 294.5,500.2 295.0,500.1 295.5,499.9 296.0,499.8 296.5,499.7 297.0,499.5 297.5,499.4 298.0,499.2 298.5,499.1 299.0,499.0 299.5,498.8 300.0,498.7 300.5,498.5 301.0,498.3 301.5,498.1 302.0,497.9 302.5,497.8 303.0,497.6 303.5,497.4 304.0,497.2 304.5,497.0 305.0,496.8 305.5,496.6 306.0,496.5 306.5,496.3 307.0,496.1 307.5,496.0 308.0,495.8 308.5,495.7 309.0,495.6 309.5,495.4 310.0,495.3 310.5,495.2 311.0,495.1 311.5,494.9 312.0,494.8 312.5,494.7 313.0,494.6 313.5,494.4 314.0,494.3 314.5,494.2 315.0,494.4 315.5,494.5 316.0,494.7 316.5,494.9 317.0,495.0 317.5,495.2 318.0,495.3 318.5,495.5 319.0,495.7 319.5,495.8 320.0,496.0 320.5,496.1 321.0,496.3 321.5,496.4 322.0,496.5 322.5,496.7 323.0,496.8 323.5,497.0 324.0,497.1 324.5,497.2 325.0,497.4 325.5,497.5 326.0,497.7 326.5,497.8 327.0,497.9 327.5,498.0 328.0,498.1 328.5,498.1 329.0,498.2 329.5,498.2 330.0,498.3 330.5,498.3 331.0,498.4 331.5,498.5 332.0,498.5 332.5,498.6 333.0,498.6 333.5,498.7 334.0,498.7 334.5,498.8 335.0,498.8 335.5,498.9 336.0,499.0 336.5,499.0 337.0,499.1 337.5,499.1 338.0,499.2 338.5,499.2 339.0,499.3 339.5,499.3 340.0,499.4 340.5,499.4 341.0,499.3 341.5,499.3 342.0,499.2 342.5,499.2 343.0,499.2 343.5,499.1 344.0,499.1 344.5,499.0 345.0,499.0 345.5,499.0 346.0,498.9 346.5,498.9 347.0,498.8 347.5,498.8 348.0,498.8 348.5,498.7 349.0,498.7 349.5,498.6 350.0,498.6 350.5,498.6 351.0,498.5 351.5,498.5 352.0,498.4 352.5,498.4 353.0,498.4 353.5,498.3 354.0,498.3 354.5,498.2 355.0,498.2 355.5,498.1 356.0,498.0 356.5,497.9 357.0,497.8 357.5,497.7 358.0,497.6 358.5,497.5 359.0,497.4 359.5,497.3 360.0,497.2 360.5,497.1 361.0,497.0 361.5,496.9 362.0,496.8 362.5,496.7 363.0,496.6 363.5,496.5 364.0,496.4 364.5,496.3 365.0,496.2 365.5,496.1 366.0,496.0 366.5,495.9 367.0,495.8 367.5,495.7 368.0,495.6 368.5,495.5 369.0,495.4 369.5,495.3 370.0,495.2 370.5,495.0 371.0,494.8 371.5,494.6 372.0,494.4 372.5,494.2 373.0,494.0 373.5,493.8 374.0,493.6 374.5,493.4 375.0,493.2 375.5,493.0 376.0,492.8 376.5,492.6 377.0,492.4 377.5,492.2 378.0,492.0 378.5,491.4 379.0,490.8 379.5,490.2 380.0,489.6 380.5,489.0 381.0,488.4 381.5,487.8 382.0,487.2 382.5,486.6 383.0,486.0 383.5,484.8 384.0,483.7 384.5,482.5 385.0,481.3 385.5,480.1 386.0,478.8 386.5,476.3 387.0,473.8 387.5,471.4 388.0,468.9 388.5,466.5 389.0,459.6 389.5,452.7 390.0,445.8 390.5,435.7 391.0,420.6 391.5,405.6 392.0,377.9 392.5,347.2 393.0,311.8 393.5,273.5 394.0,229.5 394.5,181.8 395.0,144.5 395.5,110.0 396.0,136.5 396.5,163.1 397.0,206.1 397.5,249.2 398.0,275.2 398.5,301.4 399.0,319.3 399.5,335.3 400.0,350.6 400.5,365.0 401.0,378.5 401.5,390.5 402.0,400.2 402.5,406.1 403.0,412.1 403.5,414.7 404.0,417.2 404.5,419.7 405.0,420.8 405.5,422.0 406.0,423.1 406.5,424.3 407.0,424.7 407.5,424.0 408.0,423.4 408.5,422.7 409.0,422.0 409.5,421.3 410.0,419.3 410.5,417.4 411.0,415.4 411.5,413.5 412.0,411.5 412.5,409.5 413.0,407.0 413.5,404.5 414.0,402.0 414.5,399.5 415.0,396.9 415.5,394.4 416.0,391.9 416.5,389.8 417.0,387.7 417.5,385.6 418.0,383.5 418.5,381.4 419.0,379.3 419.5,377.2 420.0,376.5 420.5,375.7 421.0,374.9 421.5,374.2 422.0,373.4 422.5,372.6 423.0,372.2 423.5,373.1 424.0,374.0 424.5,374.9 425.0,375.8 425.5,376.7 426.0,377.6 426.5,380.1 427.0,382.6 427.5,385.1 428.0,387.5 428.5,390.0 429.0,392.4 429.5,395.6 430.0,398.8 430.5,402.0 431.0,405.2 431.5,408.4 432.0,411.6 432.5,415.1 433.0,418.6 433.5,422.0 434.0,425.5 434.5,428.9 435.0,432.3 435.5,435.6 436.0,438.8 436.5,442.0 437.0,445.3 437.5,448.5 438.0,451.7 438.5,452.7 439.0,453.7 439.5,454.7 440.0,455.7 440.5,456.7 441.0,457.7 441.5,458.7 442.0,459.7 442.5,460.3 443.0,460.8 443.5,461.3 444.0,461.9 444.5,462.4 445.0,463.0 445.5,463.5 446.0,464.0 446.5,464.5 447.0,465.1 447.5,465.5 448.0,466.0 448.5,466.4 449.0,466.9 449.5,467.3 450.0,467.7 450.5,468.2 451.0,468.6 451.5,468.8 452.0,468.9 452.5,469.1 453.0,469.2 453.5,469.3 454.0,469.5 454.5,469.6 455.0,469.8 455.5,469.9 456.0,470.0 456.5,469.9 457.0,469.9 457.5,469.8 458.0,469.7 458.5,469.7 459.0,469.6 459.5,469.6 460.0,469.5 460.5,469.3 461.0,469.1 461.5,468.8 462.0,468.6 462.5,468.4 463.0,468.2 463.5,467.5 464.0,466.8 464.5,466.1 465.0,465.4 465.5,464.8 466.0,463.8 466.5,462.8 467.0,461.9 467.5,460.9 468.0,458.1 468.5,455.3 469.0,449.5 469.5,441.9 470.0,431.7 470.5,415.3 471.0,395.4 471.5,377.5 472.0,370.3 472.5,365.8 473.0,368.0 473.5,370.2 474.0,373.4 474.5,377.0 475.0,380.5 475.5,384.0 476.0,386.9 476.5,389.8 477.0,392.7 477.5,395.5 478.0,398.4 478.5,400.9 479.0,403.4 479.5,406.0 480.0,408.5 480.5,411.0 481.0,413.4 481.5,415.0 482.0,416.6 482.5,418.2 483.0,419.8 483.5,421.0 484.0,421.6 484.5,422.3 485.0,422.9 485.5,424.9 486.0,426.9 486.5,428.9 487.0,431.7 487.5,434.5 488.0,436.6 488.5,436.1 489.0,435.6 489.5,435.1 490.0,433.3 490.5,431.5 491.0,429.7 491.5,427.9 492.0,426.1 492.5,424.3 493.0,422.4 493.5,420.1 494.0,417.7 494.5,415.3 495.0,410.9 495.5,407.4 496.0,405.0 496.5,407.1 497.0,409.1 497.5,410.3 498.0,411.5 498.5,412.6 499.0,413.8 499.5,414.4 500.0,414.9 500.5,415.5 501.0,416.0 501.5,416.6 502.0,417.1 502.5,417.7 503.0,418.2 503.5,418.8 504.0,419.3 504.5,419.9 505.0,420.4 505.5,420.9 506.0,421.4 506.5,421.8 507.0,422.3 507.5,422.8 508.0,423.2 508.5,423.7 509.0,423.8 509.5,423.3 510.0,422.7 510.5,422.2 511.0,421.7 511.5,421.1 512.0,420.6 512.5,419.9 513.0,419.2 513.5,418.5 514.0,417.8 514.5,417.1 515.0,416.4 515.5,415.7 516.0,415.0 516.5,414.1 517.0,413.2 517.5,412.3 518.0,411.4 518.5,410.5 519.0,409.6 519.5,408.7 520.0,407.8 520.5,406.5 521.0,405.2 521.5,403.9 522.0,402.6 522.5,401.3 523.0,400.0 523.5,398.7 524.0,397.4 524.5,395.8 525.0,394.2 525.5,392.6 526.0,391.0 526.5,389.4 527.0,387.8 527.5,386.2 528.0,384.6 528.5,382.8 529.0,380.9 529.5,379.0 530.0,377.2 530.5,375.3 531.0,373.4 531.5,371.4 532.0,369.3 532.5,367.2 533.0,365.1 533.5,363.0 534.0,361.8 534.5,360.6 535.0,359.4 535.5,358.1 536.0,357.8 536.5,359.0 537.0,360.1 537.5,361.2 538.0,362.2 538.5,363.1 539.0,364.1 539.5,365.0 540.0,366.0 540.5,364.2 541.0,362.5 541.5,360.7 542.0,359.0 542.5,357.2 543.0,354.4 543.5,351.7 544.0,348.9 544.5,346.2 545.0,343.4 545.5,340.8 546.0,338.2 546.5,335.6 547.0,333.1 547.5,330.5 548.0,326.0 548.5,321.5 549.0,317.1 549.5,312.6 550.0,306.5 550.5,300.5 551.0,294.4 551.5,288.3 552.0,281.5 552.5,274.8 553.0,268.0 553.5,262.1 554.0,257.3 554.5,252.5 555.0,247.8 555.5,245.8 556.0,243.8 556.5,247.7 557.0,251.5 557.5,258.7 558.0,265.7 558.5,272.7 559.0,280.3 559.5,287.7 560.0,295.1 560.5,302.4 561.0,307.9 561.5,313.3 562.0,318.7 562.5,324.0 563.0,329.3 563.5,334.5 564.0,339.6 564.5,344.7 565.0,348.2 565.5,351.6 566.0,355.1 566.5,357.1 567.0,353.8 567.5,350.4 568.0,346.9 568.5,343.5 569.0,339.0 569.5,334.4 570.0,329.8 570.5,325.1 571.0,320.1 571.5,315.1 572.0,310.0 572.5,306.5 573.0,302.9 573.5,300.5 574.0,302.9 574.5,305.3 575.0,309.9 575.5,315.0 576.0,320.1 576.5,325.9 577.0,331.7 577.5,337.4 578.0,343.1 578.5,347.8 579.0,352.4 579.5,357.0 580.0,361.5 580.5,363.9 581.0,366.3 581.5,368.7 582.0,371.1 582.5,373.5 583.0,374.4 583.5,375.3 584.0,376.2 584.5,377.1 585.0,378.0 585.5,378.0 586.0,378.1 586.5,378.1 587.0,378.1 587.5,378.2 588.0,378.2 588.5,378.3 589.0,378.3 589.5,378.4 590.0,378.4 590.5,378.5 591.0,378.8 591.5,379.1 592.0,379.5 592.5,379.8 593.0,380.2 593.5,380.6 594.0,381.1 594.5,381.5 595.0,382.0 595.5,383.2 596.0,384.5 596.5,385.7 597.0,387.0 597.5,388.2 598.0,389.5 598.5,390.8 599.0,392.1 599.5,393.4 600.0,394.7 600.5,396.1 601.0,397.4 601.5,398.4 602.0,399.4 602.5,400.4 603.0,401.3 603.5,402.3 604.0,403.4 604.5,403.7 605.0,404.0 605.5,407.0 606.0,409.9 606.5,412.8 607.0,412.6 607.5,412.6 608.0,412.6 608.5,411.1 609.0,407.1 609.5,403.5 610.0,400.3 610.5,398.8 611.0,402.9 611.5,407.2 612.0,411.8 612.5,416.6 613.0,417.5 613.5,417.4 614.0,417.3 614.5,417.3 615.0,416.2 615.5,415.1 616.0,414.1 616.5,413.0 617.0,411.9 617.5,410.7 618.0,409.5 618.5,408.2 619.0,407.0 619.5,406.4 620.0,405.7 620.5,405.0 621.0,404.3 621.5,403.6 622.0,402.9 622.5,401.6 623.0,400.3 623.5,399.0 624.0,397.6 624.5,396.3 625.0,395.0 625.5,393.7 626.0,392.3 626.5,391.0 627.0,389.6 627.5,388.1 628.0,386.6 628.5,385.1 629.0,383.6 629.5,382.1 630.0,380.5 630.5,379.0 631.0,377.4 631.5,375.8 632.0,374.1 632.5,372.5 633.0,370.9 633.5,369.3 634.0,367.7 634.5,366.0 635.0,364.3 635.5,362.5 636.0,360.6 636.5,358.8 637.0,357.0 637.5,355.5 638.0,354.0 638.5,352.5 639.0,351.0 639.5,349.5 640.0,348.0 640.5,346.8 641.0,345.7 641.5,344.6 642.0,343.5 642.5,342.3 643.0,341.2 643.5,340.1 644.0,339.0 644.5,337.8 645.0,336.7 645.5,335.6 646.0,334.5 646.5,333.3 647.0,332.0 647.5,330.6 648.0,329.3 648.5,328.0 649.0,326.6 649.5,325.3 650.0,324.0 650.5,322.6 651.0,321.3 651.5,319.8 652.0,318.4 652.5,317.0 653.0,315.6 653.5,314.1 654.0,312.7 654.5,311.3 655.0,309.9 655.5,308.4 656.0,307.0 656.5,305.2 657.0,303.1 657.5,301.0 658.0,298.8 658.5,296.7 659.0,294.6 659.5,292.5 660.0,290.3 660.5,287.7 661.0,285.1 661.5,282.5 662.0,279.9 662.5,277.3 663.0,274.7 663.5,272.1 664.0,269.5 664.5,266.7 665.0,263.8 665.5,260.9 666.0,258.0 666.5,255.1 667.0,252.2 667.5,249.8 668.0,247.5 668.5,245.1 669.0,242.7 669.5,240.4 670.0,238.0 670.5,235.1 671.0,232.2 671.5,229.3 672.0,226.4 672.5,223.6 673.0,217.9 673.5,212.2 674.0,206.6 674.5,193.2 675.0,179.8 675.5,166.6 676.0,153.7 676.5,144.2 677.0,140.0 677.5,142.5 678.0,145.0 678.5,147.5 679.0,150.0 679.5,151.9 680.0,153.8 680.5,155.6 681.0,157.5 681.5,159.4 682.0,158.5 682.5,157.6 683.0,156.8 683.5,155.9 684.0,155.0 684.5,154.2 685.0,153.3 685.5,152.5 686.0,151.7 686.5,150.8 687.0,150.0 687.5,149.1 688.0,148.1 688.5,147.2 689.0,146.3 689.5,145.3 690.0,144.4 690.5,144.0 691.0,143.6 691.5,143.2 692.0,142.8 692.5,142.4 693.0,142.0 693.5,141.8 694.0,141.7 694.5,141.5 695.0,141.3 695.5,145.3 696.0,145.4 696.5,145.4" fill="none" stroke="#ff00ff" stroke-width="1.25" stroke-linejoin="round"/>
<polyline points="49.0,500.9 49.5,500.9 50.0,500.9 50.5,500.9 51.0,500.9 51.5,500.9 52.0,500.9 52.5,500.8 53.0,500.8 53.5,500.8 54.0,500.8 54.5,500.8 55.0,500.8 55.5,500.7 56.0,500.7 56.5,500.7 57.0,500.6 57.5,500.6 58.0,500.6 58.5,500.5 59.0,500.5 59.5,500.5 60.0,500.4 60.5,500.4 61.0,500.3 61.5,500.2 62.0,500.2 62.5,500.1 63.0,500.0 63.5,500.0 64.0,499.9 64.5,499.8 65.0,499.7 65.5,499.6 66.0,499.5 66.5,499.3 67.0,499.2 67.5,499.1 68.0,498.9 68.5,498.8 69.0,498.6 69.5,498.4 70.0,498.2 70.5,498.0 71.0,497.8 71.5,497.6 72.0,497.3 72.5,497.1 73.0,496.8 73.5,496.5 74.0,496.2 74.5,495.8 75.0,495.5 75.5,495.1 76.0,494.7 76.5,494.3 77.0,493.8 77.5,493.4 78.0,492.9 78.5,492.3 79.0,491.8 79.5,491.2 80.0,490.6 80.5,489.9 81.0,489.3 81.5,488.5 82.0,487.8 82.5,487.0 83.0,486.2 83.5,485.3 84.0,484.4 84.5,483.5 85.0,482.5 85.5,481.4 86.0,480.3 86.5,479.2 87.0,478.0 87.5,476.8 88.0,475.5 88.5,474.2 89.0,472.8 89.5,471.4 90.0,469.9 90.5,468.3 91.0,466.7 91.5,465.0 92.0,463.3 92.5,461.5 93.0,459.6 93.5,457.7 94.0,455.7 94.5,453.6 95.0,451.5 95.5,449.3 96.0,447.1 96.5,444.8 97.0,442.4 97.5,440.0 98.0,437.5 98.5,434.9 99.0,432.2 99.5,429.5 100.0,426.8 100.5,423.9 101.0,421.0 101.5,418.1 102.0,415.1 102.5,412.0 103.0,408.8 103.5,405.6 104.0,402.4 104.5,399.1 105.0,395.7 105.5,392.3 106.0,388.9 106.5,385.4 107.0,381.9 107.5,378.3 108.0,374.7 108.5,371.0 109.0,367.4 109.5,363.7 110.0,360.0 110.5,356.2 111.0,352.5 111.5,348.7 112.0,345.0 112.5,341.2 113.0,337.4 113.5,333.7 114.0,329.9 114.5,326.2 115.0,322.5 115.5,318.8 116.0,315.1 116.5,311.5 117.0,307.9 117.5,304.3 118.0,300.8 118.5,297.4 119.0,294.0 119.5,290.7 120.0,287.4 120.5,284.2 121.0,281.1 121.5,278.1 122.0,275.2 122.5,272.3 123.0,269.6 123.5,266.9 124.0,264.4 124.5,261.9 125.0,259.6 125.5,257.4 126.0,255.3 126.5,253.3 127.0,251.5 127.5,249.8 128.0,248.2 128.5,246.7 129.0,245.4 129.5,244.2 130.0,243.2 130.5,242.3 131.0,241.6 131.5,241.0 132.0,240.5 132.5,240.2 133.0,240.0 133.5,240.0 134.0,240.2 134.5,240.5 135.0,240.9 135.5,241.3 136.0,241.8 136.5,242.4 137.0,243.0 137.5,243.7 138.0,244.5 138.5,245.3 139.0,246.1 139.5,247.0 140.0,248.0 140.5,249.0 141.0,250.1 141.5,251.2 142.0,252.3 142.5,253.5 143.0,254.8 143.5,256.1 144.0,257.4 144.5,258.8 145.0,260.2 145.5,261.7 146.0,263.2 146.5,264.8 147.0,266.4 147.5,268.0 148.0,269.7 148.5,271.4 149.0,273.2 149.5,275.0 150.0,276.8 150.5,278.7 151.0,280.6 151.5,282.6 152.0,284.6 152.5,286.6 153.0,288.7 153.5,290.8 154.0,292.9 154.5,295.1 155.0,297.3 155.5,299.5 156.0,301.8 156.5,304.1 157.0,306.5 157.5,308.8 158.0,311.2 158.5,313.7 159.0,316.1 159.5,318.6 160.0,321.2 160.5,323.7 161.0,326.3 161.5,328.9 162.0,331.6 162.5,334.2 163.0,336.9 163.5,339.7 164.0,342.4 164.5,345.2 165.0,348.0 165.5,350.8 166.0,353.7 166.5,356.5 167.0,359.4 167.5,362.4 168.0,365.3 168.5,368.3 169.0,371.3 169.5,374.3 170.0,377.3 170.5,380.3 171.0,383.4 171.5,386.5 172.0,389.6 172.5,392.7 173.0,395.9 173.5,399.0 174.0,402.2 174.5,405.4 175.0,408.6 175.5,411.8 176.0,415.1 176.5,418.3 177.0,421.6 177.5,424.9 178.0,428.2 178.5,431.5 179.0,434.8 179.5,438.1 180.0,441.4 180.5,444.8 181.0,448.1 181.5,451.5 182.0,449.9 182.5,448.3 183.0,446.6 183.5,443.0 184.0,437.9 184.5,432.8 185.0,427.8 185.5,422.7 186.0,430.6 186.5,438.4 187.0,442.8 187.5,446.3 188.0,445.6 188.5,443.8 189.0,442.0 189.5,437.3 190.0,432.7 190.5,428.0 191.0,421.5 191.5,415.0 192.0,408.5 192.5,401.9 193.0,390.4 193.5,371.4 194.0,347.5 194.5,316.2 195.0,280.0 195.5,241.4 196.0,198.6 196.5,158.0 197.0,141.2 197.5,137.0 198.0,140.8 198.5,150.0 199.0,183.3 199.5,230.0 200.0,280.0 200.5,326.1 201.0,356.7 201.5,378.4 202.0,386.9 202.5,392.6 203.0,394.1 203.5,393.7 204.0,390.5 204.5,383.8 205.0,362.7 205.5,338.9 206.0,311.1 206.5,288.0 207.0,270.8 207.5,266.3 208.0,268.2 208.5,280.0 209.0,300.0 209.5,337.5 210.0,375.0 210.5,412.5 211.0,435.6 211.5,455.0 212.0,464.1 212.5,473.2 213.0,478.1 213.5,482.1 214.0,486.0 214.5,487.8 215.0,489.5 215.5,491.2 216.0,493.0 216.5,493.6 217.0,494.2 217.5,494.8 218.0,495.3 218.5,495.9 219.0,496.5 219.5,496.7 220.0,496.9 220.5,497.1 221.0,497.3 221.5,497.5 222.0,497.7 222.5,497.9 223.0,498.1 223.5,498.3 224.0,498.5 224.5,498.6 225.0,498.7 225.5,498.8 226.0,499.0 226.5,499.1 227.0,499.2 227.5,499.3 228.0,499.4 228.5,499.5 229.0,499.6 229.5,499.8 230.0,499.9 230.5,500.0 231.0,500.1 231.5,500.2 232.0,500.3 232.5,500.4 233.0,500.5 233.5,500.7 234.0,500.8 234.5,500.9 235.0,501.0 235.5,501.1 236.0,501.3 236.5,501.4 237.0,501.5 237.5,501.6 238.0,501.8 238.5,501.9 239.0,502.0 239.5,502.2 240.0,502.3 240.5,502.4 241.0,502.6 241.5,502.7 242.0,502.8 242.5,502.9 243.0,503.1 243.5,503.2 244.0,503.3 244.5,503.5 245.0,503.6 245.5,503.7 246.0,503.9 246.5,504.0 247.0,504.1 247.5,504.2 248.0,504.4 248.5,504.5 249.0,504.6 249.5,504.8 250.0,504.9 250.5,504.9 251.0,504.9 251.5,504.9 252.0,505.0 252.5,505.0 253.0,505.0 253.5,505.0 254.0,505.0 254.5,505.0 255.0,505.1 255.5,505.1 256.0,505.1 256.5,505.1 257.0,505.1 257.5,505.1 258.0,505.2 258.5,505.2 259.0,505.2 259.5,505.2 260.0,505.2 260.5,505.2 261.0,505.3 261.5,505.3 262.0,505.3 262.5,505.3 263.0,505.3 263.5,505.3 264.0,505.4 264.5,505.4 265.0,505.4 265.5,505.3 266.0,505.2 266.5,505.1 267.0,504.9 267.5,504.8 268.0,504.7 268.5,504.6 269.0,504.5 269.5,504.4 270.0,504.3 270.5,504.2 271.0,504.0 271.5,503.9 272.0,503.8 272.5,503.7 273.0,503.6 273.5,503.5 274.0,503.4 274.5,503.2 275.0,503.1 275.5,503.0 276.0,502.9 276.5,502.8 277.0,502.7 277.5,502.6 278.0,502.5 278.5,502.3 279.0,502.2 279.5,502.1 280.0,502.0 280.5,501.8 281.0,501.7 281.5,501.5 282.0,501.3 282.5,501.2 283.0,501.0 283.5,500.8 284.0,500.7 284.5,500.5 285.0,500.4 285.5,500.2 286.0,500.0 286.5,499.9 287.0,499.7 287.5,499.5 288.0,499.4 288.5,499.2 289.0,499.0 289.5,498.9 290.0,498.7 290.5,498.6 291.0,498.4 291.5,498.3 292.0,498.2 292.5,498.0 293.0,497.9 293.5,497.8 294.0,497.6 294.5,497.5 295.0,497.4 295.5,497.2 296.0,497.1 296.5,496.9 297.0,496.8 297.5,496.7 298.0,496.5 298.5,496.4 299.0,496.3 299.5,496.1 300.0,496.0 300.5,495.8 301.0,495.6 301.5,495.5 302.0,495.3 302.5,495.1 303.0,494.9 303.5,494.8 304.0,494.6 304.5,494.4 305.0,494.2 305.5,494.0 306.0,493.9 306.5,493.7 307.0,493.5 307.5,493.4 308.0,493.3 308.5,493.1 309.0,493.0 309.5,492.9 310.0,492.8 310.5,492.6 311.0,492.5 311.5,492.4 312.0,492.3 312.5,492.2 313.0,492.0 313.5,491.9 314.0,491.8 314.5,491.7 315.0,491.9 315.5,492.1 316.0,492.2 316.5,492.4 317.0,492.5 317.5,492.7 318.0,492.9 318.5,493.0 319.0,493.2 319.5,493.3 320.0,493.5 320.5,493.6 321.0,493.8 321.5,493.9 322.0,494.1 322.5,494.2 323.0,494.4 323.5,494.5 324.0,494.6 324.5,494.8 325.0,494.9 325.5,495.1 326.0,495.2 326.5,495.4 327.0,495.5 327.5,495.6 328.0,495.6 328.5,495.7 329.0,495.7 329.5,495.8 330.0,495.8 330.5,495.9 331.0,496.0 331.5,496.0 332.0,496.1 332.5,496.1 333.0,496.2 333.5,496.2 334.0,496.3 334.5,496.4 335.0,496.4 335.5,496.5 336.0,496.5 336.5,496.6 337.0,496.7 337.5,496.7 338.0,496.8 338.5,496.8 339.0,496.9 339.5,496.9 340.0,497.0 340.5,497.0 341.0,496.9 341.5,496.9 342.0,496.9 342.5,496.8 343.0,496.8 343.5,496.8 344.0,496.7 344.5,496.7 345.0,496.7 345.5,496.6 346.0,496.6 346.5,496.6 347.0,496.5 347.5,496.5 348.0,496.5 348.5,496.4 349.0,496.4 349.5,496.4 350.0,496.3 350.5,496.3 351.0,496.3 351.5,496.2 352.0,496.2 352.5,496.2 353.0,496.1 353.5,496.1 354.0,496.1 354.5,496.0 355.0,496.0 355.5,495.9 356.0,495.8 356.5,495.7 357.0,495.6 357.5,495.5 358.0,495.4 358.5,495.3 359.0,495.3 359.5,495.2 360.0,495.1 360.5,495.0 361.0,494.9 361.5,494.8 362.0,494.7 362.5,494.6 363.0,494.5 363.5,494.4 364.0,494.3 364.5,494.2 365.0,494.1 365.5,494.0 366.0,493.9 366.5,493.9 367.0,493.8 367.5,493.7 368.0,493.6 368.5,493.5 369.0,493.4 369.5,493.3 370.0,493.2 370.5,493.0 371.0,492.8 371.5,492.6 372.0,492.4 372.5,492.2 373.0,492.0 373.5,491.8 374.0,491.6 374.5,491.4 375.0,491.2 375.5,491.0 376.0,490.8 376.5,490.6 377.0,490.4 377.5,490.2 378.0,490.0 378.5,489.4 379.0,488.8 379.5,488.2 380.0,487.6 380.5,487.0 381.0,486.4 381.5,485.8 382.0,485.2 382.5,484.6 383.0,484.0 383.5,482.8 384.0,481.7 384.5,480.5 385.0,479.3 385.5,478.2 386.0,477.0 386.5,474.6 387.0,472.2 387.5,469.8 388.0,467.4 388.5,465.0 389.0,458.1 389.5,451.1 390.0,444.2 390.5,433.8 391.0,418.5 391.5,403.1 392.0,374.5 392.5,342.7 393.0,306.0 393.5,266.0 394.0,220.0 394.5,170.0 395.0,130.7 395.5,94.0 396.0,122.0 396.5,150.0 397.0,195.0 397.5,240.0 398.0,267.3 398.5,294.5 399.0,313.3 399.5,330.0 400.0,346.0 400.5,361.0 401.0,375.0 401.5,387.5 402.0,397.5 402.5,403.7 403.0,410.0 403.5,412.7 404.0,415.3 404.5,418.0 405.0,419.3 405.5,420.5 406.0,421.8 406.5,423.0 407.0,423.5 407.5,422.8 408.0,422.1 408.5,421.4 409.0,420.7 409.5,420.0 410.0,418.0 410.5,416.0 411.0,414.0 411.5,412.0 412.0,410.0 412.5,408.0 413.0,405.4 413.5,402.9 414.0,400.3 414.5,397.7 415.0,395.1 415.5,392.6 416.0,390.0 416.5,387.9 417.0,385.7 417.5,383.6 418.0,381.4 418.5,379.3 419.0,377.1 419.5,375.0 420.0,374.2 420.5,373.4 421.0,372.6 421.5,371.8 422.0,371.0 422.5,370.2 423.0,369.7 423.5,370.5 424.0,371.2 424.5,371.9 425.0,372.6 425.5,373.3 426.0,374.0 426.5,376.3 427.0,378.7 427.5,381.0 428.0,383.3 428.5,385.7 429.0,388.0 429.5,391.2 430.0,394.3 430.5,397.5 431.0,400.7 431.5,403.8 432.0,407.0 432.5,410.5 433.0,414.0 433.5,417.5 434.0,421.0 434.5,424.5 435.0,428.0 435.5,431.3 436.0,434.7 436.5,438.0 437.0,441.3 437.5,444.7 438.0,448.0 438.5,449.0 439.0,450.0 439.5,451.0 440.0,452.0 440.5,453.0 441.0,454.0 441.5,455.0 442.0,456.0 442.5,456.5 443.0,457.0 443.5,457.5 444.0,458.0 444.5,458.6 445.0,459.1 445.5,459.6 446.0,460.1 446.5,460.6 447.0,461.1 447.5,461.5 448.0,461.9 448.5,462.4 449.0,462.8 449.5,463.2 450.0,463.6 450.5,464.1 451.0,464.5 451.5,464.6 452.0,464.7 452.5,464.8 453.0,464.9 453.5,465.0 454.0,465.1 454.5,465.2 455.0,465.2 455.5,465.3 456.0,465.4 456.5,465.2 457.0,465.1 457.5,465.0 458.0,464.9 458.5,464.8 459.0,464.7 459.5,464.6 460.0,464.5 460.5,464.2 461.0,463.9 461.5,463.6 462.0,463.3 462.5,463.0 463.0,462.7 463.5,461.9 464.0,461.0 464.5,460.2 465.0,459.3 465.5,458.5 466.0,457.3 466.5,456.1 467.0,455.0 467.5,453.8 468.0,450.4 468.5,447.0 469.0,440.1 469.5,431.1 470.0,418.9 470.5,399.4 471.0,375.7 471.5,354.3 472.0,345.6 472.5,340.0 473.0,342.3 473.5,344.5 474.0,348.2 474.5,352.1 475.0,356.1 475.5,360.0 476.0,363.2 476.5,366.4 477.0,369.6 477.5,372.8 478.0,376.0 478.5,378.8 479.0,381.7 479.5,384.5 480.0,387.3 480.5,390.2 481.0,393.0 481.5,394.7 482.0,396.5 482.5,398.2 483.0,400.0 483.5,401.2 484.0,401.8 484.5,402.4 485.0,403.0 485.5,405.3 486.0,407.7 486.5,410.0 487.0,413.3 487.5,416.6 488.0,419.2 488.5,418.8 489.0,418.4 489.5,418.0 490.0,416.0 490.5,414.0 491.0,412.0 491.5,410.0 492.0,408.0 492.5,406.0 493.0,404.0 493.5,401.3 494.0,398.7 494.5,396.0 495.0,391.0 495.5,387.0 496.0,384.4 496.5,386.7 497.0,389.0 497.5,390.2 498.0,391.5 498.5,392.8 499.0,394.0 499.5,394.5 500.0,395.0 500.5,395.5 501.0,396.0 501.5,396.5 502.0,397.0 502.5,397.5 503.0,398.0 503.5,398.5 504.0,399.0 504.5,399.5 505.0,400.0 505.5,400.4 506.0,400.8 506.5,401.3 507.0,401.7 507.5,402.1 508.0,402.5 508.5,402.9 509.0,402.9 509.5,402.3 510.0,401.6 510.5,401.0 511.0,400.3 511.5,399.7 512.0,399.0 512.5,398.1 513.0,397.2 513.5,396.4 514.0,395.5 514.5,394.6 515.0,393.8 515.5,392.9 516.0,392.0 516.5,390.9 517.0,389.8 517.5,388.6 518.0,387.5 518.5,386.4 519.0,385.2 519.5,384.1 520.0,383.0 520.5,381.4 521.0,379.8 521.5,378.1 522.0,376.5 522.5,374.9 523.0,373.2 523.5,371.6 524.0,370.0 524.5,368.0 525.0,366.0 525.5,364.0 526.0,362.0 526.5,360.0 527.0,358.0 527.5,356.0 528.0,354.0 528.5,351.7 529.0,349.3 529.5,347.0 530.0,344.7 530.5,342.3 531.0,340.0 531.5,337.4 532.0,334.8 532.5,332.2 533.0,329.6 533.5,327.0 534.0,325.5 534.5,324.0 535.0,322.4 535.5,320.9 536.0,320.8 536.5,322.9 537.0,324.9 537.5,327.0 538.0,328.8 538.5,330.6 539.0,332.3 539.5,334.1 540.0,335.9 540.5,333.7 541.0,331.5 541.5,329.4 542.0,327.2 542.5,325.0 543.0,321.6 543.5,318.2 544.0,314.8 544.5,311.4 545.0,308.0 545.5,304.8 546.0,301.6 546.5,298.4 547.0,295.2 547.5,292.0 548.0,286.5 548.5,281.0 549.0,275.5 549.5,270.0 550.0,262.5 550.5,255.0 551.0,247.5 551.5,240.0 552.0,231.7 552.5,223.3 553.0,215.0 553.5,207.6 554.0,201.8 554.5,195.9 555.0,190.0 555.5,187.5 556.0,185.0 556.5,187.5 557.0,190.0 557.5,196.7 558.0,203.3 558.5,210.0 559.0,217.5 559.5,225.0 560.0,232.5 560.5,240.0 561.0,245.2 561.5,250.5 562.0,255.7 562.5,261.0 563.0,266.2 563.5,271.5 564.0,276.7 564.5,282.0 565.0,285.1 565.5,288.3 566.0,291.4 566.5,293.6 567.0,292.2 567.5,290.8 568.0,289.4 568.5,288.0 569.0,285.2 569.5,282.5 570.0,279.8 570.5,277.0 571.0,274.0 571.5,271.0 572.0,268.0 572.5,266.9 573.0,265.9 573.5,265.4 574.0,267.5 574.5,269.6 575.0,274.3 575.5,279.6 576.0,285.0 576.5,291.2 577.0,297.5 577.5,303.8 578.0,310.0 578.5,315.0 579.0,320.0 579.5,325.0 580.0,330.0 580.5,332.4 581.0,334.8 581.5,337.2 582.0,339.6 582.5,342.0 583.0,342.6 583.5,343.2 584.0,343.8 584.5,344.4 585.0,345.0 585.5,344.5 586.0,344.0 586.5,343.5 587.0,343.0 587.5,342.5 588.0,342.0 588.5,341.5 589.0,341.0 589.5,340.5 590.0,340.0 590.5,339.5 591.0,339.3 591.5,339.2 592.0,339.0 592.5,338.9 593.0,339.3 593.5,340.5 594.0,341.6 594.5,342.8 595.0,344.0 595.5,346.2 596.0,348.3 596.5,350.5 597.0,352.7 597.5,354.8 598.0,357.0 598.5,359.2 599.0,361.3 599.5,363.5 600.0,365.7 600.5,367.8 601.0,370.0 601.5,371.7 602.0,373.3 602.5,375.0 603.0,376.7 603.5,378.3 604.0,380.0 604.5,380.8 605.0,381.6 605.5,382.4 606.0,383.2 606.5,384.0 607.0,380.7 607.5,377.3 608.0,374.0 608.5,368.0 609.0,358.0 609.5,348.0 610.0,338.0 610.5,332.0 611.0,342.0 611.5,352.0 612.0,362.0 612.5,372.0 613.0,375.7 613.5,377.8 614.0,379.9 614.5,382.0 615.0,382.5 615.5,383.0 616.0,383.5 616.5,384.0 617.0,384.5 617.5,384.7 618.0,385.0 618.5,385.2 619.0,385.5 619.5,385.0 620.0,384.4 620.5,383.8 621.0,383.2 621.5,382.6 622.0,382.0 622.5,380.7 623.0,379.4 623.5,378.1 624.0,376.8 624.5,375.5 625.0,374.2 625.5,372.9 626.0,371.6 626.5,370.3 627.0,368.8 627.5,367.4 628.0,365.9 628.5,364.4 629.0,362.9 629.5,361.5 630.0,360.0 630.5,358.4 631.0,356.9 631.5,355.3 632.0,353.8 632.5,352.2 633.0,350.7 633.5,349.1 634.0,347.6 634.5,346.0 635.0,344.4 635.5,342.6 636.0,340.9 636.5,339.2 637.0,337.4 637.5,335.7 638.0,333.9 638.5,332.2 639.0,330.5 639.5,328.7 640.0,327.0 640.5,325.7 641.0,324.4 641.5,323.1 642.0,321.8 642.5,320.5 643.0,319.2 643.5,317.8 644.0,316.5 644.5,315.2 645.0,313.9 645.5,312.6 646.0,311.3 646.5,310.0 647.0,308.4 647.5,306.9 648.0,305.3 648.5,303.8 649.0,302.2 649.5,300.7 650.0,299.1 650.5,297.6 651.0,296.0 651.5,294.3 652.0,292.7 652.5,291.0 653.0,289.4 653.5,287.7 654.0,286.0 654.5,284.4 655.0,282.7 655.5,281.1 656.0,279.4 656.5,277.5 657.0,275.3 657.5,273.1 658.0,270.9 658.5,268.6 659.0,266.4 659.5,264.2 660.0,262.0 660.5,259.3 661.0,256.5 661.5,253.8 662.0,251.0 662.5,248.3 663.0,245.6 663.5,242.8 664.0,240.1 664.5,237.2 665.0,234.1 665.5,231.1 666.0,228.1 666.5,225.0 667.0,222.0 667.5,219.6 668.0,217.2 668.5,214.8 669.0,212.4 669.5,210.0 670.0,207.6 670.5,204.1 671.0,200.6 671.5,197.0 672.0,193.5 672.5,190.0 673.0,183.3 673.5,176.7 674.0,170.0 674.5,154.6 675.0,139.2 675.5,124.0 676.0,109.0 676.5,97.9 677.0,92.8 677.5,90.9 678.0,91.2 678.5,91.8 679.0,93.0 679.5,94.3 680.0,95.5 680.5,96.8 681.0,98.0 681.5,99.3 682.0,98.7 682.5,98.1 683.0,97.6 683.5,97.0 684.0,96.8 684.5,96.6 685.0,96.3 685.5,96.1 686.0,96.2 686.5,96.7 687.0,97.3 687.5,97.8 688.0,98.3 688.5,98.1 689.0,97.9 689.5,97.8 690.0,97.6 690.5,97.7 691.0,97.9 691.5,98.0 692.0,98.1 692.5,98.3 693.0,98.4 693.5,98.5 694.0,98.5 694.5,98.6 695.0,98.7 695.5,98.8 696.0,98.8 696.5,98.9" fill="none" stroke="#000080" stroke-width="1.25" stroke-linejoin="round"/>
</g>
<rect x="115" y="274.4" width="40" height="2.6" fill="#fff"/>
<g id="axes" stroke-width="0">
<line x1="48.5" y1="9" x2="48.5" y2="513.5" stroke="#222" stroke-width="1.2"/>
<line x1="48.0" y1="513.8" x2="697.5" y2="513.8" stroke="#4a4a52" stroke-width="1.5"/>
<line x1="45" y1="501.5" x2="48.5" y2="501.5" stroke="#222" stroke-width="1"/>
<line x1="45" y1="452.5" x2="48.5" y2="452.5" stroke="#222" stroke-width="1"/>
<line x1="45" y1="403.5" x2="48.5" y2="403.5" stroke="#222" stroke-width="1"/>
<line x1="45" y1="354.5" x2="48.5" y2="354.5" stroke="#222" stroke-width="1"/>
<line x1="45" y1="304.5" x2="48.5" y2="304.5" stroke="#222" stroke-width="1"/>
<line x1="45" y1="255.5" x2="48.5" y2="255.5" stroke="#222" stroke-width="1"/>
<line x1="45" y1="206.5" x2="48.5" y2="206.5" stroke="#222" stroke-width="1"/>
<line x1="45" y1="157.5" x2="48.5" y2="157.5" stroke="#222" stroke-width="1"/>
<line x1="45" y1="108.5" x2="48.5" y2="108.5" stroke="#222" stroke-width="1"/>
<line x1="45" y1="58.5" x2="48.5" y2="58.5" stroke="#222" stroke-width="1"/>
<line x1="45" y1="9.5" x2="48.5" y2="9.5" stroke="#222" stroke-width="1"/>
<line x1="49.5" y1="513.5" x2="49.5" y2="517" stroke="#333" stroke-width="1"/>
<line x1="104.5" y1="513.5" x2="104.5" y2="517" stroke="#333" stroke-width="1"/>
<line x1="159.5" y1="513.5" x2="159.5" y2="517" stroke="#333" stroke-width="1"/>
<line x1="214.5" y1="513.5" x2="214.5" y2="517" stroke="#333" stroke-width="1"/>
<line x1="270.5" y1="513.5" x2="270.5" y2="517" stroke="#333" stroke-width="1"/>
<line x1="324.5" y1="513.5" x2="324.5" y2="517" stroke="#333" stroke-width="1"/>
<line x1="379.5" y1="513.5" x2="379.5" y2="517" stroke="#333" stroke-width="1"/>
<line x1="435.5" y1="513.5" x2="435.5" y2="517" stroke="#333" stroke-width="1"/>
<line x1="490.5" y1="513.5" x2="490.5" y2="517" stroke="#333" stroke-width="1"/>
<line x1="546.5" y1="513.5" x2="546.5" y2="517" stroke="#333" stroke-width="1"/>
<line x1="601.5" y1="513.5" x2="601.5" y2="517" stroke="#333" stroke-width="1"/>
<line x1="656.5" y1="513.5" x2="656.5" y2="517" stroke="#333" stroke-width="1"/>
<line x1="697.5" y1="513.5" x2="697.5" y2="517" stroke="#333" stroke-width="1"/>
<text x="18.0" y="10" font-family="'Liberation Serif', serif" font-size="13.6" textLength="21" lengthAdjust="spacingAndGlyphs" fill="#111">2.00</text>
<text x="24.5" y="58.8" font-family="'Liberation Serif', serif" font-size="13.6" textLength="14" lengthAdjust="spacingAndGlyphs" fill="#111">1.8</text>
<text x="24.5" y="108" font-family="'Liberation Serif', serif" font-size="13.6" textLength="14" lengthAdjust="spacingAndGlyphs" fill="#111">1.6</text>
<text x="24.5" y="157.2" font-family="'Liberation Serif', serif" font-size="13.6" textLength="14" lengthAdjust="spacingAndGlyphs" fill="#111">1.4</text>
<text x="24.5" y="206.4" font-family="'Liberation Serif', serif" font-size="13.6" textLength="14" lengthAdjust="spacingAndGlyphs" fill="#111">1.2</text>
<text x="24.6" y="255.8" font-family="'Liberation Serif', serif" font-size="13.6" textLength="14.4" lengthAdjust="spacingAndGlyphs" fill="#111">1.0</text>
<text x="24.0" y="306.3" font-family="'Liberation Serif', serif" font-size="13.6" textLength="15" lengthAdjust="spacingAndGlyphs" fill="#111">0.8</text>
<text x="24.0" y="354.2" font-family="'Liberation Serif', serif" font-size="13.6" textLength="15" lengthAdjust="spacingAndGlyphs" fill="#111">0.6</text>
<text x="24.0" y="403.4" font-family="'Liberation Serif', serif" font-size="13.6" textLength="15" lengthAdjust="spacingAndGlyphs" fill="#111">0.4</text>
<text x="24.0" y="452.6" font-family="'Liberation Serif', serif" font-size="13.6" textLength="15" lengthAdjust="spacingAndGlyphs" fill="#111">0.2</text>
<text x="14.5" y="514.5" font-family="'Liberation Serif', serif" font-size="13.6" textLength="24.5" lengthAdjust="spacingAndGlyphs" fill="#111">-0.05</text>
<text x="31.5" y="535.8" font-family="'Liberation Serif', serif" font-size="13.6" textLength="33.8" lengthAdjust="spacingAndGlyphs" fill="#111">4000.0</text>
<text x="90.3" y="535.8" font-family="'Liberation Serif', serif" font-size="13.6" textLength="24.2" lengthAdjust="spacingAndGlyphs" fill="#111">3600</text>
<text x="145.6" y="535.8" font-family="'Liberation Serif', serif" font-size="13.6" textLength="24.2" lengthAdjust="spacingAndGlyphs" fill="#111">3200</text>
<text x="201.4" y="535.8" font-family="'Liberation Serif', serif" font-size="13.6" textLength="24.2" lengthAdjust="spacingAndGlyphs" fill="#111">2800</text>
<text x="256.5" y="535.8" font-family="'Liberation Serif', serif" font-size="13.6" textLength="24.2" lengthAdjust="spacingAndGlyphs" fill="#111">2400</text>
<text x="311.4" y="535.8" font-family="'Liberation Serif', serif" font-size="13.6" textLength="24.2" lengthAdjust="spacingAndGlyphs" fill="#111">2000</text>
<text x="366.4" y="535.8" font-family="'Liberation Serif', serif" font-size="13.6" textLength="24.2" lengthAdjust="spacingAndGlyphs" fill="#111">1800</text>
<text x="421.7" y="535.8" font-family="'Liberation Serif', serif" font-size="13.6" textLength="24.2" lengthAdjust="spacingAndGlyphs" fill="#111">1600</text>
<text x="477.1" y="535.8" font-family="'Liberation Serif', serif" font-size="13.6" textLength="24.2" lengthAdjust="spacingAndGlyphs" fill="#111">1400</text>
<text x="532.5" y="535.8" font-family="'Liberation Serif', serif" font-size="13.6" textLength="24.2" lengthAdjust="spacingAndGlyphs" fill="#111">1200</text>
<text x="586.9" y="535.8" font-family="'Liberation Serif', serif" font-size="13.6" textLength="25.5" lengthAdjust="spacingAndGlyphs" fill="#111">1000</text>
<text x="646.0" y="535.8" font-family="'Liberation Serif', serif" font-size="13.6" textLength="18" lengthAdjust="spacingAndGlyphs" fill="#111">800</text>
<text x="682.7" y="535.8" font-family="'Liberation Serif', serif" font-size="13.6" textLength="28" lengthAdjust="spacingAndGlyphs" fill="#111">650.0</text>
<text x="0.8" y="276.6" font-family="{SERIF}" font-size="20" textLength="13" lengthAdjust="spacingAndGlyphs" fill="#000">A</text>
<text x="356.5" y="558.3" font-family="{SERIF}" font-size="19.5" textLength="33" lengthAdjust="spacingAndGlyphs" fill="#000">cm-1</text>
</g>
<g id="annot" fill="#111" stroke="#111" stroke-width="0.22">
<text x="137.1" y="85.5" font-family="'Liberation Sans', sans-serif" font-size="11" textLength="43.5" lengthAdjust="spacingAndGlyphs">2918 cm</text>
<text x="181.0" y="82.1" font-family="'Liberation Sans', sans-serif" font-size="6.8">-1</text>
<line x1="164.6" y1="65.6" x2="188.6" y2="51.1" stroke="#111" stroke-width="1.0"/>
<polygon points="194.2,47.8 189.2,54.0 186.4,49.3" fill="#000"/>
<text x="127.3" y="116.3" font-family="'Liberation Sans', sans-serif" font-size="11">–</text>
<text x="137.0" y="116.3" font-family="'Liberation Sans', sans-serif" font-size="12">C</text>
<line x1="147.2" y1="112.3" x2="158.6" y2="112.3" stroke="#111" stroke-width="1.0"/>
<text x="160.9" y="116.3" font-family="'Liberation Sans', sans-serif" font-size="12">H</text>
<text x="149.6" y="103.9" font-family="'Liberation Sans', sans-serif" font-size="12">H</text>
<line x1="141.5" y1="106.0" x2="147.3" y2="100.6" stroke="#111" stroke-width="1.0"/>
<text x="149.6" y="127.2" font-family="'Liberation Sans', sans-serif" font-size="12">H</text>
<line x1="142.0" y1="118.3" x2="147.2" y2="123.4" stroke="#111" stroke-width="1.0"/>
<text x="144.8" y="145.2" font-family="'Liberation Sans', sans-serif" font-size="11">–</text>
<text x="154.6" y="145.2" font-family="'Liberation Sans', sans-serif" font-size="12">C</text>
<text x="166.4" y="133.2" font-family="'Liberation Sans', sans-serif" font-size="12">H</text>
<line x1="158.5" y1="136.8" x2="164.6" y2="130.3" stroke="#111" stroke-width="1.0"/>
<text x="166.4" y="156.5" font-family="'Liberation Sans', sans-serif" font-size="12">H</text>
<line x1="159.5" y1="148.0" x2="164.6" y2="152.6" stroke="#111" stroke-width="1.0"/>
<text x="237.4" y="197.6" font-family="'Liberation Sans', sans-serif" font-size="11" textLength="42.7" lengthAdjust="spacingAndGlyphs">2850 cm</text>
<text x="280.5" y="194.2" font-family="'Liberation Sans', sans-serif" font-size="6.8">-1</text>
<line x1="235.4" y1="201.1" x2="218.7" y2="208.9" stroke="#111" stroke-width="1.0"/>
<polygon points="212.8,211.7 218.4,206.0 220.8,211.0" fill="#000"/>
<text x="228.0" y="227.4" font-family="'Liberation Sans', sans-serif" font-size="11">-</text>
<text x="235.0" y="227.4" font-family="'Liberation Sans', sans-serif" font-size="11">C</text>
<text x="249.2" y="215.3" font-family="'Liberation Sans', sans-serif" font-size="11">H</text>
<line x1="241.7" y1="218.4" x2="247.6" y2="212.5" stroke="#111" stroke-width="1.0"/>
<text x="249.2" y="238.5" font-family="'Liberation Sans', sans-serif" font-size="11">H</text>
<line x1="243.0" y1="231.0" x2="247.4" y2="235.0" stroke="#111" stroke-width="1.0"/>
<text x="233.6" y="268.4" font-family="'Liberation Sans', sans-serif" font-size="11">-</text>
<text x="240.9" y="268.4" font-family="'Liberation Sans', sans-serif" font-size="11">C</text>
<text x="255.4" y="256.2" font-family="'Liberation Sans', sans-serif" font-size="11">H</text>
<line x1="247.6" y1="259.7" x2="253.5" y2="253.8" stroke="#111" stroke-width="1.0"/>
<line x1="254.0" y1="265.4" x2="265.3" y2="265.4" stroke="#111" stroke-width="1.0"/>
<text x="264.8" y="268.1" font-family="'Liberation Sans', sans-serif" font-size="11">H</text>
<text x="255.4" y="279.9" font-family="'Liberation Sans', sans-serif" font-size="11">H</text>
<line x1="247.6" y1="271.5" x2="253.5" y2="277.2" stroke="#111" stroke-width="1.0"/>
<text x="78.6" y="232.9" font-family="'Liberation Sans', sans-serif" font-size="11" textLength="80.9" lengthAdjust="spacingAndGlyphs">3650 – 3050 cm</text>
<text x="159.89999999999998" y="229.5" font-family="'Liberation Sans', sans-serif" font-size="6.8">-1</text>
<text x="90.0" y="254.0" font-family="'Liberation Sans', sans-serif" font-size="11">-O – H</text>
<line x1="99.6" y1="266.3" x2="108.6" y2="282.0" stroke="#111" stroke-width="1.0"/>
<polygon points="111.8,287.6 105.7,282.5 110.5,279.7" fill="#000"/>
<text x="225.8" y="433.5" font-family="'Liberation Sans', sans-serif" font-size="11" textLength="43.2" lengthAdjust="spacingAndGlyphs">3006 cm</text>
<text x="269.4" y="430.1" font-family="'Liberation Sans', sans-serif" font-size="6.8">-1</text>
<text x="225.6" y="455.6" font-family="'Liberation Sans', sans-serif" font-size="12" textLength="35.8" lengthAdjust="spacingAndGlyphs">C=C-H</text>
<path d="M241.7,416.1 C236,396 223,382.6 208.8,382.6 C196,382.6 186.5,394 183.6,412" fill="none" stroke="#111" stroke-width="1"/>
<polygon points="182.9,419.0 180.7,411.3 186.2,411.7" fill="#000"/>
<text x="320.2" y="56.6" font-family="'Liberation Sans', sans-serif" font-size="11" textLength="42.9" lengthAdjust="spacingAndGlyphs">1742 cm</text>
<text x="363.5" y="53.2" font-family="'Liberation Sans', sans-serif" font-size="6.8">-1</text>
<line x1="376.6" y1="53.7" x2="383.5" y2="46.8" stroke="#111" stroke-width="1.0"/>
<polygon points="388.1,42.2 384.7,49.4 380.9,45.6" fill="#000"/>
<text x="322.0" y="77.3" font-family="'Liberation Sans', sans-serif" font-size="11">O = C</text>
<line x1="353.8" y1="70.1" x2="365.1" y2="65.6" stroke="#111" stroke-width="1.0"/>
<text x="367.0" y="67.9" font-family="'Liberation Sans', sans-serif" font-size="11">O</text>
<line x1="353.8" y1="77.1" x2="364.5" y2="83.3" stroke="#111" stroke-width="1.0"/>
<text x="501.5" y="92.2" font-family="'Liberation Sans', sans-serif" font-size="11" textLength="82.5" lengthAdjust="spacingAndGlyphs">1240 – 1030 cm</text>
<text x="586.3" y="88.8" font-family="'Liberation Sans', sans-serif" font-size="6.8">-1</text>
<text x="502.7" y="105.9" font-family="'Liberation Sans', sans-serif" font-size="11">O</text>
<line x1="505.3" y1="110.8" x2="505.3" y2="115.6" stroke="#111" stroke-width="0.9"/>
<line x1="507.6" y1="110.8" x2="507.6" y2="115.6" stroke="#111" stroke-width="0.9"/>
<text x="502.7" y="129.0" font-family="'Liberation Sans', sans-serif" font-size="11">C</text>
<text x="484.6" y="141.7" font-family="'Liberation Sans', sans-serif" font-size="11">-C</text>
<line x1="495.3" y1="132.2" x2="501.6" y2="126.5" stroke="#111" stroke-width="1.0"/>
<line x1="512.2" y1="125.9" x2="518.9" y2="132.2" stroke="#111" stroke-width="1.0"/>
<text x="520.2" y="141.7" font-family="'Liberation Sans', sans-serif" font-size="11">O-</text>
<path d="M506.9,168.1 C507.5,160.5 511,158.6 516,158.6 L550,158.6 C553.5,158.6 555,154 555.4,148 C555.8,154 557.3,158.6 561,158.6 L595,158.6 C600,158.6 603,160.5 603.3,168.1" fill="none" stroke="#222" stroke-width="1"/>
<text x="296.0" y="379.9" font-family="'Liberation Sans', sans-serif" font-size="11" textLength="81.6" lengthAdjust="spacingAndGlyphs">1650 – 1640 cm</text>
<text x="378.0" y="376.5" font-family="'Liberation Sans', sans-serif" font-size="6.8">-1</text>
<text x="296.4" y="400.3" font-family="'Liberation Sans', sans-serif" font-size="11">-O – H</text>
<path d="M371.4,364.7 C378,355 388,352.2 397.9,352.4 C405,352.6 410,355.5 413,359" fill="none" stroke="#111" stroke-width="1"/>
<polygon points="418.2,365.2 411.2,361.4 415.3,357.8" fill="#000"/>
<text x="413.8" y="274.6" font-family="'Liberation Sans', sans-serif" font-size="11" textLength="43.7" lengthAdjust="spacingAndGlyphs">1463 cm</text>
<text x="457.9" y="271.20000000000005" font-family="'Liberation Sans', sans-serif" font-size="6.8">-1</text>
<text x="416.6" y="310.0" font-family="'Liberation Sans', sans-serif" font-size="11">-</text>
<text x="423.6" y="310.0" font-family="'Liberation Sans', sans-serif" font-size="11">C</text>
<text x="437.8" y="298.2" font-family="'Liberation Sans', sans-serif" font-size="11">H</text>
<line x1="429.5" y1="300.2" x2="435.8" y2="295.7" stroke="#111" stroke-width="1.0"/>
<text x="437.8" y="321.3" font-family="'Liberation Sans', sans-serif" font-size="11">H</text>
<line x1="429.9" y1="312.6" x2="435.8" y2="318.5" stroke="#111" stroke-width="1.0"/>
<line x1="447.2" y1="307.1" x2="460.7" y2="319.9" stroke="#111" stroke-width="1.0"/>
<polygon points="465.4,324.4 458.1,321.2 461.9,317.2" fill="#000"/>
<text x="478.7" y="310.0" font-family="'Liberation Sans', sans-serif" font-size="11" textLength="43.7" lengthAdjust="spacingAndGlyphs">1415 cm</text>
<text x="522.8000000000001" y="306.6" font-family="'Liberation Sans', sans-serif" font-size="6.8">-1</text>
<text x="478.7" y="330.7" font-family="'Liberation Sans', sans-serif" font-size="11">-C=C – H</text>
<line x1="494.9" y1="342.6" x2="489.7" y2="393.0" stroke="#111" stroke-width="1.0"/>
<polygon points="489.0,399.5 487.0,391.8 492.5,392.3" fill="#000"/>
<text x="514.3" y="445.1" font-family="'Liberation Sans', sans-serif" font-size="11" textLength="43.2" lengthAdjust="spacingAndGlyphs">1376 cm</text>
<text x="557.9000000000001" y="441.70000000000005" font-family="'Liberation Sans', sans-serif" font-size="6.8">-1</text>
<path d="M529.3,429 C528,412 522,399 508,389" fill="none" stroke="#111" stroke-width="1"/>
<polygon points="500.7,384.0 508.4,386.0 505.3,390.6" fill="#000"/>
<text x="516.6" y="474.5" font-family="'Liberation Sans', sans-serif" font-size="11">-</text>
<text x="523.3" y="474.5" font-family="'Liberation Sans', sans-serif" font-size="11">C</text>
<text x="537.6" y="462.2" font-family="'Liberation Sans', sans-serif" font-size="11">H</text>
<line x1="530.3" y1="465.5" x2="535.5" y2="460.0" stroke="#111" stroke-width="1.0"/>
<line x1="536.8" y1="470.2" x2="548.0" y2="470.2" stroke="#111" stroke-width="1.0"/>
<text x="546.8" y="474.5" font-family="'Liberation Sans', sans-serif" font-size="11">H</text>
<text x="537.6" y="485.9" font-family="'Liberation Sans', sans-serif" font-size="11">H</text>
<line x1="530.3" y1="477.3" x2="535.5" y2="481.6" stroke="#111" stroke-width="1.0"/>
<text x="590.8" y="251.1" font-family="'Liberation Sans', sans-serif" font-size="11" textLength="36.0" lengthAdjust="spacingAndGlyphs">964 cm</text>
<text x="627.2" y="247.7" font-family="'Liberation Sans', sans-serif" font-size="6.8">-1</text>
<text x="593.0" y="272.0" font-family="'Liberation Sans', sans-serif" font-size="11" textLength="38.5" lengthAdjust="spacingAndGlyphs">C=C–H</text>
<line x1="598.8" y1="283.3" x2="604.8" y2="306.4" stroke="#111" stroke-width="1.0"/>
<polygon points="606.4,312.7 601.9,306.1 607.2,304.8" fill="#000"/>
</g>
</svg></body></html>
